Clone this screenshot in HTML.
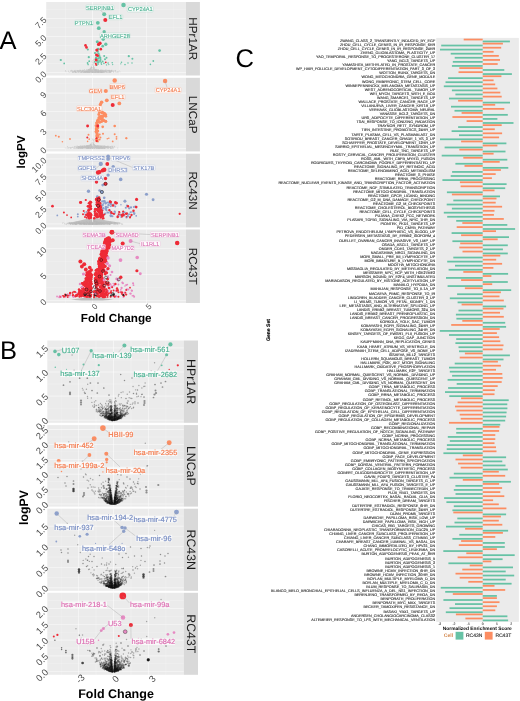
<!DOCTYPE html><html><head><meta charset="utf-8"><title>Figure</title><style>html,body{margin:0;padding:0;background:#fff}svg{display:block}text{font-family:"Liberation Sans", sans-serif;text-rendering:geometricPrecision}</style></head><body>
<svg width="520" height="701" viewBox="0 0 520 701">
<rect width="520" height="701" fill="#fff"/>
<text x="-0.6" y="48.6" font-size="25.5" fill="#000">A</text>
<text x="-0.1" y="359.3" font-size="25.5" fill="#000">B</text>
<text x="235.6" y="66.6" font-size="25.6" fill="#000">C</text>
<rect x="46.2" y="2" width="139.8" height="73.5" fill="#EBEBEB"/>
<line x1="46.2" x2="186" y1="9.25" y2="9.25" stroke="#fff" stroke-width="0.3" opacity="0.65"/>
<line x1="46.2" x2="186" y1="27.35" y2="27.35" stroke="#fff" stroke-width="0.3" opacity="0.65"/>
<line x1="46.2" x2="186" y1="45.45" y2="45.45" stroke="#fff" stroke-width="0.3" opacity="0.65"/>
<line x1="46.2" x2="186" y1="63.55" y2="63.55" stroke="#fff" stroke-width="0.3" opacity="0.65"/>
<line x1="65.4" x2="65.4" y1="2" y2="75.5" stroke="#fff" stroke-width="0.3" opacity="0.65"/>
<line x1="119.6" x2="119.6" y1="2" y2="75.5" stroke="#fff" stroke-width="0.3" opacity="0.65"/>
<line x1="173.8" x2="173.8" y1="2" y2="75.5" stroke="#fff" stroke-width="0.3" opacity="0.65"/>
<line x1="46.2" x2="186" y1="18.3" y2="18.3" stroke="#fff" stroke-width="0.55" opacity="0.9"/>
<line x1="46.2" x2="186" y1="36.4" y2="36.4" stroke="#fff" stroke-width="0.55" opacity="0.9"/>
<line x1="46.2" x2="186" y1="54.5" y2="54.5" stroke="#fff" stroke-width="0.55" opacity="0.9"/>
<line x1="46.2" x2="186" y1="72.6" y2="72.6" stroke="#fff" stroke-width="0.55" opacity="0.9"/>
<line x1="92.5" x2="92.5" y1="2" y2="75.5" stroke="#fff" stroke-width="0.55" opacity="0.9"/>
<line x1="146.7" x2="146.7" y1="2" y2="75.5" stroke="#fff" stroke-width="0.55" opacity="0.9"/>
<rect x="186" y="2" width="13.9" height="73.5" fill="#D9D9D9"/>
<text transform="translate(192.95 38.75) rotate(90)" text-anchor="middle" font-size="11.7" fill="#1A1A1A" dy="0.36em">HPr1AR</text>
<text transform="translate(45.1 18.3) rotate(-45)" text-anchor="end" font-size="8.8" fill="#4D4D4D" dy="0.35em">7.5</text>
<text transform="translate(45.1 36.4) rotate(-45)" text-anchor="end" font-size="8.8" fill="#4D4D4D" dy="0.35em">5.0</text>
<text transform="translate(45.1 54.5) rotate(-45)" text-anchor="end" font-size="8.8" fill="#4D4D4D" dy="0.35em">2.5</text>
<text transform="translate(45.1 72.6) rotate(-45)" text-anchor="end" font-size="8.8" fill="#4D4D4D" dy="0.35em">0.0</text>
<rect x="46.2" y="77.8" width="139.8" height="73.6" fill="#EBEBEB"/>
<line x1="46.2" x2="186" y1="83.85" y2="83.85" stroke="#fff" stroke-width="0.3" opacity="0.65"/>
<line x1="46.2" x2="186" y1="102.35" y2="102.35" stroke="#fff" stroke-width="0.3" opacity="0.65"/>
<line x1="46.2" x2="186" y1="120.75" y2="120.75" stroke="#fff" stroke-width="0.3" opacity="0.65"/>
<line x1="46.2" x2="186" y1="139.25" y2="139.25" stroke="#fff" stroke-width="0.3" opacity="0.65"/>
<line x1="65.4" x2="65.4" y1="77.8" y2="151.4" stroke="#fff" stroke-width="0.3" opacity="0.65"/>
<line x1="119.6" x2="119.6" y1="77.8" y2="151.4" stroke="#fff" stroke-width="0.3" opacity="0.65"/>
<line x1="173.8" x2="173.8" y1="77.8" y2="151.4" stroke="#fff" stroke-width="0.3" opacity="0.65"/>
<line x1="46.2" x2="186" y1="93.1" y2="93.1" stroke="#fff" stroke-width="0.55" opacity="0.9"/>
<line x1="46.2" x2="186" y1="111.6" y2="111.6" stroke="#fff" stroke-width="0.55" opacity="0.9"/>
<line x1="46.2" x2="186" y1="130" y2="130" stroke="#fff" stroke-width="0.55" opacity="0.9"/>
<line x1="46.2" x2="186" y1="148.5" y2="148.5" stroke="#fff" stroke-width="0.55" opacity="0.9"/>
<line x1="92.5" x2="92.5" y1="77.8" y2="151.4" stroke="#fff" stroke-width="0.55" opacity="0.9"/>
<line x1="146.7" x2="146.7" y1="77.8" y2="151.4" stroke="#fff" stroke-width="0.55" opacity="0.9"/>
<rect x="186" y="77.8" width="13.9" height="73.6" fill="#D9D9D9"/>
<text transform="translate(192.95 114.6) rotate(90)" text-anchor="middle" font-size="11.7" fill="#1A1A1A" dy="0.36em">LNCaP</text>
<text transform="translate(45.1 93.1) rotate(-45)" text-anchor="end" font-size="8.8" fill="#4D4D4D" dy="0.35em">9</text>
<text transform="translate(45.1 111.6) rotate(-45)" text-anchor="end" font-size="8.8" fill="#4D4D4D" dy="0.35em">6</text>
<text transform="translate(45.1 130) rotate(-45)" text-anchor="end" font-size="8.8" fill="#4D4D4D" dy="0.35em">3</text>
<text transform="translate(45.1 148.5) rotate(-45)" text-anchor="end" font-size="8.8" fill="#4D4D4D" dy="0.35em">0</text>
<rect x="46.2" y="153.7" width="139.8" height="73.7" fill="#EBEBEB"/>
<line x1="46.2" x2="186" y1="167.03" y2="167.03" stroke="#fff" stroke-width="0.3" opacity="0.65"/>
<line x1="46.2" x2="186" y1="183.28" y2="183.28" stroke="#fff" stroke-width="0.3" opacity="0.65"/>
<line x1="46.2" x2="186" y1="199.53" y2="199.53" stroke="#fff" stroke-width="0.3" opacity="0.65"/>
<line x1="46.2" x2="186" y1="215.78" y2="215.78" stroke="#fff" stroke-width="0.3" opacity="0.65"/>
<line x1="65.4" x2="65.4" y1="153.7" y2="227.4" stroke="#fff" stroke-width="0.3" opacity="0.65"/>
<line x1="119.6" x2="119.6" y1="153.7" y2="227.4" stroke="#fff" stroke-width="0.3" opacity="0.65"/>
<line x1="173.8" x2="173.8" y1="153.7" y2="227.4" stroke="#fff" stroke-width="0.3" opacity="0.65"/>
<line x1="46.2" x2="186" y1="158.9" y2="158.9" stroke="#fff" stroke-width="0.55" opacity="0.9"/>
<line x1="46.2" x2="186" y1="175.15" y2="175.15" stroke="#fff" stroke-width="0.55" opacity="0.9"/>
<line x1="46.2" x2="186" y1="191.4" y2="191.4" stroke="#fff" stroke-width="0.55" opacity="0.9"/>
<line x1="46.2" x2="186" y1="207.65" y2="207.65" stroke="#fff" stroke-width="0.55" opacity="0.9"/>
<line x1="46.2" x2="186" y1="223.9" y2="223.9" stroke="#fff" stroke-width="0.55" opacity="0.9"/>
<line x1="92.5" x2="92.5" y1="153.7" y2="227.4" stroke="#fff" stroke-width="0.55" opacity="0.9"/>
<line x1="146.7" x2="146.7" y1="153.7" y2="227.4" stroke="#fff" stroke-width="0.55" opacity="0.9"/>
<rect x="186" y="153.7" width="13.9" height="73.7" fill="#D9D9D9"/>
<text transform="translate(192.95 190.55) rotate(90)" text-anchor="middle" font-size="11.7" fill="#1A1A1A" dy="0.36em">RC43N</text>
<text transform="translate(45.1 158.9) rotate(-45)" text-anchor="end" font-size="8.8" fill="#4D4D4D" dy="0.35em">10.0</text>
<text transform="translate(45.1 175.15) rotate(-45)" text-anchor="end" font-size="8.8" fill="#4D4D4D" dy="0.35em">7.5</text>
<text transform="translate(45.1 191.4) rotate(-45)" text-anchor="end" font-size="8.8" fill="#4D4D4D" dy="0.35em">5.0</text>
<text transform="translate(45.1 207.65) rotate(-45)" text-anchor="end" font-size="8.8" fill="#4D4D4D" dy="0.35em">2.5</text>
<text transform="translate(45.1 223.9) rotate(-45)" text-anchor="end" font-size="8.8" fill="#4D4D4D" dy="0.35em">0.0</text>
<rect x="46.2" y="229.5" width="139.8" height="73.5" fill="#EBEBEB"/>
<line x1="46.2" x2="186" y1="235.3" y2="235.3" stroke="#fff" stroke-width="0.3" opacity="0.65"/>
<line x1="46.2" x2="186" y1="261.3" y2="261.3" stroke="#fff" stroke-width="0.3" opacity="0.65"/>
<line x1="46.2" x2="186" y1="287.3" y2="287.3" stroke="#fff" stroke-width="0.3" opacity="0.65"/>
<line x1="65.4" x2="65.4" y1="229.5" y2="303" stroke="#fff" stroke-width="0.3" opacity="0.65"/>
<line x1="119.6" x2="119.6" y1="229.5" y2="303" stroke="#fff" stroke-width="0.3" opacity="0.65"/>
<line x1="173.8" x2="173.8" y1="229.5" y2="303" stroke="#fff" stroke-width="0.3" opacity="0.65"/>
<line x1="46.2" x2="186" y1="248.3" y2="248.3" stroke="#fff" stroke-width="0.55" opacity="0.9"/>
<line x1="46.2" x2="186" y1="274.3" y2="274.3" stroke="#fff" stroke-width="0.55" opacity="0.9"/>
<line x1="46.2" x2="186" y1="300.3" y2="300.3" stroke="#fff" stroke-width="0.55" opacity="0.9"/>
<line x1="92.5" x2="92.5" y1="229.5" y2="303" stroke="#fff" stroke-width="0.55" opacity="0.9"/>
<line x1="146.7" x2="146.7" y1="229.5" y2="303" stroke="#fff" stroke-width="0.55" opacity="0.9"/>
<rect x="186" y="229.5" width="13.9" height="73.5" fill="#D9D9D9"/>
<text transform="translate(192.95 266.25) rotate(90)" text-anchor="middle" font-size="11.7" fill="#1A1A1A" dy="0.36em">RC43T</text>
<text transform="translate(45.1 248.3) rotate(-45)" text-anchor="end" font-size="8.8" fill="#4D4D4D" dy="0.35em">10</text>
<text transform="translate(45.1 274.3) rotate(-45)" text-anchor="end" font-size="8.8" fill="#4D4D4D" dy="0.35em">5</text>
<text transform="translate(45.1 300.3) rotate(-45)" text-anchor="end" font-size="8.8" fill="#4D4D4D" dy="0.35em">0</text>
<text transform="translate(94.5 306.5) rotate(-45)" text-anchor="middle" font-size="8.0" fill="#4D4D4D" dy="0.35em">0</text>
<text transform="translate(148.7 306.5) rotate(-45)" text-anchor="middle" font-size="8.0" fill="#4D4D4D" dy="0.35em">5</text>
<text x="116.2" y="317.6" text-anchor="middle" font-size="11.7" font-weight="bold" fill="#000" dy="0.36em">Fold Change</text>
<text transform="translate(20.8 152) rotate(-90)" text-anchor="middle" font-size="11.6" font-weight="bold" fill="#000" dy="0.36em">logPV</text>
<clipPath id="ca1"><rect x="46.2" y="2" width="139.8" height="73.5"/></clipPath><g clip-path="url(#ca1)">
<path d="M89.56 70.41h0M98.38 72.31h0M81.8 72.34h0M90.05 70.81h0M104.42 72.33h0M95.36 72.24h0M73.34 72.26h0M102.34 72.06h0M73.05 71.35h0M72.45 71.76h0M96.01 69.79h0M91.97 71.02h0M96.05 71.71h0M97.03 70.21h0M98.9 70.97h0M106.27 71.77h0M88.54 72.32h0M91.28 71.71h0M87.36 71.8h0M81.5 71.23h0M83.21 70.62h0M95.31 70.16h0M93.06 69.45h0M107.52 70.51h0M91.28 67.17h0M83.1 72.25h0M75.66 72.21h0M102.02 71.46h0M109.07 70.84h0M96.67 70.97h0M99.58 70.84h0M85.46 71.12h0M81.37 70.53h0M86.39 70h0M75.74 72.34h0M95.25 70.12h0M70.65 70.78h0M90.05 70.12h0M103.59 72.38h0M85.73 72.24h0M94.16 72.28h0M93.19 71.34h0M86.49 71.63h0M95.76 71.23h0M89.09 70.92h0M108.31 70.56h0M78.27 71.97h0M83.16 70.36h0M98 69.88h0M96.68 71.96h0M98.32 72h0M77.23 72.01h0M93.95 72.4h0M82.86 71.26h0M97.88 69.88h0M87.44 70.94h0M79.61 71.02h0M115.75 70.91h0M100.7 70.35h0M95.9 71.42h0M81.54 72.28h0M89.76 72.29h0M89.42 71.96h0M97.99 72.34h0M101.43 72.4h0M95.59 71.49h0M96.83 72.38h0M103.67 72.2h0M81.23 72.01h0M86.21 72.23h0M101.46 70.45h0M105.37 71.51h0M91.94 72.12h0M100.94 71.97h0M98.81 70.39h0M93.81 67.52h0M94.61 70.59h0M101.21 72.38h0M103.96 71.38h0M115.23 71.11h0M89.41 71.81h0M87.85 70.39h0M97.67 71.2h0M94.37 71.77h0M82.39 70.59h0M114.9 70.83h0M90.37 69.21h0M91.98 69.46h0M84.27 71.76h0M95.19 71.7h0M93 72.04h0M82.32 71.57h0M65.56 70.59h0M90.35 71.29h0M94.02 71.81h0M100.61 72.09h0M74.94 70.66h0M75.14 71.56h0M80.69 72.31h0M75.59 71.12h0M109.44 70.89h0M81.72 71.5h0M101.31 71.82h0M110.78 70.77h0M103.86 71.69h0M90.45 68.47h0M91.39 72.02h0M85.57 72.18h0M109.73 72.22h0M80.77 70.58h0M109.2 71.84h0M90.42 70.48h0M93.82 67.4h0M93.93 69.53h0M66.09 71.73h0M88.05 70h0M96.15 71.88h0M85.47 71.89h0M93.41 71.37h0M107.75 71.68h0M109.65 71.83h0M111.01 71.62h0M70.93 71.72h0M80.04 70.33h0M78.33 71.42h0M92.35 72.39h0M85.7 72.4h0M95.19 69.67h0M98.61 70.7h0M104.01 71.31h0M86.11 71.21h0M104.85 70.71h0M104.09 72.02h0M101.62 71.95h0M94.41 70.33h0M78.94 70.8h0M103.11 71.15h0M86 71.35h0M74.88 71.62h0M91.15 70.13h0M65.36 71.17h0M96.27 69.8h0M100.83 71.25h0M89.33 69.29h0M95.85 72.19h0M87.23 71.47h0M100.16 72.32h0M96.26 70.57h0M97.69 72.16h0M68.53 71.08h0M89.09 69.65h0M87.1 69.83h0M97.89 71.59h0M95.29 69.57h0M98.95 71.32h0M102.88 71.82h0M95.87 70.27h0M101.99 72.39h0M80.82 72.39h0M88.37 71.7h0M82.69 72.33h0M82.82 70.06h0M99.83 72.27h0M92.18 70.77h0M95.75 71.8h0M100.77 70.24h0M101.26 70.53h0M92.15 70.41h0M99.03 71.17h0M90.97 72.28h0M87.76 70.68h0M88.52 69.63h0M94.52 70.05h0M94.03 68.42h0M87.94 72.32h0M100.73 71.8h0M82.9 71.29h0M100.63 72.23h0M88.46 71.1h0M92.9 72.2h0M98.02 72.35h0M95.47 71.66h0M101.99 70.73h0M89.14 72.06h0M105.62 71.82h0M101.18 72.39h0M93.49 68.53h0M85.43 71.45h0M90.15 68.8h0M109.19 71.66h0M105.67 71.48h0M98.33 71.32h0M82.59 70.94h0M102.97 70.54h0M91.34 68.91h0M84.81 71.78h0M83.67 72.35h0M95.52 70.07h0M95.71 71.83h0M95.01 69.37h0M96.63 69.93h0M88.02 71.95h0M84.28 71.9h0M85.98 71.51h0M94.2 71.58h0M85.16 71.26h0M93.54 71.16h0M92.17 71.76h0M92.92 71.58h0M84.8 71.39h0M92.37 72.4h0M92.06 71.75h0M97.47 72.36h0M102.2 72.04h0M93.88 69.86h0M73.66 71.15h0M89 70.33h0M100.78 71.83h0M84.63 69.99h0M103.4 71.08h0M107.4 72.36h0M104.89 71.14h0M71.64 70.99h0M94.9 70.73h0M86.68 71.32h0M103.07 70.56h0M74.61 71.32h0M106.12 70.98h0M81.63 72.05h0M98.53 71.71h0M93.7 72.11h0M100.05 71.05h0M79.88 71.15h0M86.87 72.4h0M80.41 70.67h0M92.35 71.33h0M78.9 71.07h0M109.69 72.03h0M100.08 72.32h0M90.69 71.83h0M111 70.94h0M105.77 71.74h0M90.46 70.78h0M84.56 71.09h0M74.55 71.17h0M98.24 71.96h0M95.54 70.07h0M87.51 72.39h0M106.53 72.34h0M90.48 69.77h0M109.55 71.08h0M88.98 71.23h0M105.91 71.55h0M110.4 72.13h0M109 70.25h0M94.49 70.84h0M91.66 67.67h0M104.81 71.98h0M90 71.9h0M99.95 71.17h0M89.85 72.11h0M88.22 72.19h0M98.35 70.16h0M80.1 70.94h0M95.37 71.02h0M116.89 72.38h0M105.87 71.59h0M92.8 71.92h0M99.19 71.83h0M100.67 70.45h0M111.67 70.69h0M92.71 72.25h0M108.76 70.46h0M84.39 71.91h0M84.52 69.95h0M100.76 71.17h0M84.71 71.94h0M101.83 72.35h0M110.01 71.97h0M105.51 70.3h0M92.54 71.34h0M101.54 72.12h0M72.38 70.59h0M113.05 70.79h0M75.19 70.38h0M73.86 71.41h0M91.8 68.09h0M88.9 71.28h0M92.78 71.95h0M75.96 72.36h0M97.88 71.39h0M89.84 71.48h0M86.93 69.83h0M110.51 72.02h0M87.08 71.15h0M84.42 71.67h0M95.89 71.98h0M98.43 70.11h0M84.39 70.25h0M92.65 69.99h0M86.5 72.09h0M94.45 72.21h0M89.75 71.84h0M96.71 71.9h0M70.74 70.96h0M82.32 71.65h0M80.49 71.75h0M99.72 71.79h0M101.08 70.08h0M96.02 72.19h0M76.3 70.57h0M92.15 72.1h0M91.36 70.73h0M101.12 71.55h0M113.92 70.64h0M86.12 72.38h0M110.21 70.51h0M96.14 71.22h0M92.31 71.7h0M92.39 70.17h0M102.84 70.12h0M72.38 72.05h0M97.66 71.23h0M96.71 70.62h0M109.67 71.15h0M85.89 70.61h0M78.46 72.37h0M96.36 70.19h0M95.32 70.38h0M118.19 71.98h0M98.58 70.96h0M98.81 70.79h0M95.85 70.99h0M95.35 70.64h0M86.26 71.07h0M97.79 72.39h0M88.43 69.58h0M104.62 71.09h0M102.23 72.04h0M83.79 72.01h0M109.91 71.93h0M88.1 72.38h0M75.27 71.69h0M92.68 71.99h0M79.51 72.07h0M69.77 72.37h0M86.19 70.84h0M102.72 72.11h0M97.99 71.3h0M74.47 72.12h0M102.26 70.56h0M90.63 71.74h0M95.97 71.74h0M111.63 70.38h0M85.1 72.05h0M92.7 71.64h0M78.27 72.21h0M68.34 71.8h0M99.67 72.2h0M96.34 71.49h0M93.8 67.84h0M106.4 70.13h0M80.02 70.29h0M88.98 69.48h0M98.97 70.66h0M109.15 71.78h0M95.88 71.5h0M89.06 72.4h0M98.6 71.91h0M75.42 72.25h0M115.56 70.44h0M95.36 69.66h0M102.92 70.57h0M89.17 71.16h0M94.01 71.04h0M99.09 71.72h0M88.85 69.68h0M104.12 70.62h0M94.74 69.55h0M95.46 72.31h0M93.27 66.76h0M91.66 67.07h0M111.56 71.87h0M88.46 70.81h0M91.1 71.26h0M110.71 71.99h0M111.8 70.48h0M92.96 71.22h0M94.89 71.81h0M91.61 70.11h0M119.98 71.83h0M84.85 71.99h0M80.37 70.3h0M98.22 72.11h0M98.61 70.39h0M74.68 70.84h0M84.49 71.84h0M86.1 71.72h0M93.44 71.68h0M87.93 70.44h0M92.57 72.37h0M96.71 71.04h0M77.74 70.48h0M101.5 72.3h0M91.81 72.09h0M74.41 71.64h0M92.67 72.04h0M78.63 71.04h0M100.49 70.72h0M102.23 72.25h0M78.56 70.59h0M88.46 71.57h0M106.82 70.87h0M95.22 71.82h0M100.73 72.19h0M103.78 71.85h0M82.45 71.69h0M106.17 72.06h0M91.85 67.41h0M72.36 72.29h0M71.5 70.72h0M95.86 69.5h0M101.78 72.25h0M94.91 71.95h0M107.5 70.35h0M89.93 71.36h0M100.87 71.98h0M83.14 70.67h0M97.62 71.01h0M90.68 69.99h0M94.73 72.08h0M103.3 72.1h0M92.02 71.19h0M108.05 72.12h0M102.71 70.97h0M93.23 71.69h0M89.55 69.82h0M99.67 71.26h0M97.4 71.57h0M94.56 70.46h0M89.28 72.08h0M88.64 70.5h0M84.58 71.87h0M97.54 69.83h0M86.82 71.71h0M106.24 71.67h0M118.02 71.86h0M98.54 72.07h0M110.05 72.4h0M102.34 70.56h0M85.5 71.62h0M101.97 72.17h0M83.92 72.39h0M76.9 70.43h0M87.26 72.28h0M84.53 71.39h0M84.81 72.2h0M89.6 69.22h0M106.15 72.27h0M71.75 70.38h0M93.74 71.75h0M111.77 70.32h0M112.17 71.57h0M117.29 71.81h0M101.14 70.27h0M76.89 72.19h0M77.78 70.75h0M94.54 69h0M104.03 70.57h0M95.8 71.4h0M99.86 71.34h0M88.11 71.93h0M96.44 70.41h0M95.16 70.66h0M90.5 69.43h0M113.82 72.27h0M97.71 71.01h0M77.14 71.92h0M87.5 71.51h0M81.98 71.03h0M86.49 71.49h0M90.18 70.28h0M93.44 70.07h0M94.31 69.14h0M111.95 71.62h0M98.08 72.25h0M104.27 72.24h0M87.93 71.42h0M94.63 70.68h0M108.33 72.31h0M96.64 70.43h0M94.88 72.31h0M78.94 71.46h0M72.18 72.24h0M112.1 70.65h0M111.16 70.74h0M92.05 72.15h0M105.79 70.24h0M90.97 68.06h0M102.8 70.24h0M109.95 72.34h0M81.06 72.19h0M108.07 70.46h0M89.19 72.14h0M113.39 71.54h0M99.39 71.96h0M88.71 71.13h0M91.18 71.83h0M95.36 72.07h0M108.49 70.47h0M85.75 72.15h0M93.74 70.06h0M86.95 70.92h0M77.63 71.35h0M110.52 71.33h0M96.5 69.43h0M88.86 70.68h0M76.31 72.01h0M105.18 70.12h0M82.89 70.71h0M87.42 71.45h0M100.93 72.35h0M109.5 70.7h0M92.12 70.25h0M108.92 71.3h0M87.36 72.4h0M83.97 72.37h0M101.9 71.59h0M105.34 71.44h0M97.35 72h0M88.77 70.62h0M93.32 70.8h0M92.62 72.27h0M87.39 71.05h0M98.91 71.11h0M97.07 71.32h0M107.92 72.23h0M100.42 72.19h0M89.17 72.25h0M77.46 70.77h0M74.73 71.73h0M92.34 71.04h0M94.24 70.23h0M82.74 71.57h0M105.88 70.3h0M91.6 67.14h0M83.85 72.36h0M80.99 72.04h0M90.19 72.3h0M92.83 71.37h0M90.72 68.22h0M97.31 70.94h0M98.48 71.32h0M79.23 72.16h0M76.13 71.92h0M91.37 67.64h0M95.95 70.06h0M92.22 70.56h0M91.23 68.79h0M74.03 71.63h0M96.6 71.97h0M99.1 72.36h0M97.64 71.74h0M92.46 70.36h0M74.78 71h0M91.03 70.71h0M107.04 70.74h0M83.57 71.04h0M91.19 67.43h0M97.38 72.39h0M115.68 72.04h0M94.15 68.04h0M111.41 70.93h0M81.5 71.85h0M113.48 72.07h0M106.07 70.98h0M83.59 70.98h0M105.34 70.57h0M90.8 69.5h0M100.21 70.78h0M82.88 71.25h0M89.68 70.47h0M99.92 72.31h0M97.94 72.38h0M89.08 72.22h0M102.04 72.21h0M87.93 72.37h0M109.56 71.18h0M97.07 70.63h0M92.15 71.28h0M88.27 71.61h0M101.27 70.32h0M73.11 72.34h0M109.7 70.36h0M73.67 72.28h0M94.04 72.34h0M97.89 70.24h0M98.7 70.39h0M77.41 71.16h0M91.27 72.14h0M97.63 70.5h0M95.31 71.23h0M102.18 72.38h0M92.11 70.99h0M101.86 71.75h0M79.74 71.46h0M119.26 70.8h0" stroke="#C4C4C4" stroke-width="0.7" stroke-linecap="round" fill="none" opacity="0.8"/>
<circle cx="93.35" cy="67.22" r="0.34" fill="#C8C8C8"/>
<circle cx="93.36" cy="66.89" r="0.34" fill="#C8C8C8"/>
<circle cx="93.61" cy="63.13" r="0.34" fill="#C8C8C8"/>
<circle cx="92.77" cy="65.47" r="0.34" fill="#C8C8C8"/>
<circle cx="93.83" cy="71.73" r="0.34" fill="#C8C8C8"/>
<circle cx="95.06" cy="61.52" r="0.34" fill="#C8C8C8"/>
<circle cx="93.52" cy="70.17" r="0.34" fill="#C8C8C8"/>
<circle cx="93.54" cy="62.33" r="0.34" fill="#C8C8C8"/>
<circle cx="93.57" cy="66.13" r="0.34" fill="#C8C8C8"/>
<circle cx="93.49" cy="66.12" r="0.34" fill="#C8C8C8"/>
<circle cx="93.65" cy="66.08" r="0.34" fill="#C8C8C8"/>
<circle cx="93.01" cy="68.14" r="0.34" fill="#C8C8C8"/>
<circle cx="93.81" cy="59.79" r="0.34" fill="#C8C8C8"/>
<circle cx="92.96" cy="69.03" r="0.34" fill="#C8C8C8"/>
<circle cx="93.77" cy="66.02" r="0.34" fill="#C8C8C8"/>
<circle cx="94.71" cy="71.46" r="0.34" fill="#C8C8C8"/>
<circle cx="93.29" cy="61.97" r="0.34" fill="#C8C8C8"/>
<circle cx="93.25" cy="63.24" r="0.34" fill="#C8C8C8"/>
<circle cx="93.76" cy="68.02" r="0.34" fill="#C8C8C8"/>
<circle cx="92.41" cy="67.38" r="0.34" fill="#C8C8C8"/>
<circle cx="92.17" cy="71.79" r="0.34" fill="#C8C8C8"/>
<circle cx="94.53" cy="60.56" r="0.34" fill="#C8C8C8"/>
<circle cx="94.04" cy="69.32" r="0.34" fill="#C8C8C8"/>
<circle cx="93.59" cy="60.38" r="0.34" fill="#C8C8C8"/>
<circle cx="92.72" cy="60.62" r="0.34" fill="#C8C8C8"/>
<circle cx="93.49" cy="69.73" r="0.34" fill="#C8C8C8"/>
<circle cx="92.54" cy="62.44" r="0.34" fill="#C8C8C8"/>
<circle cx="93.74" cy="62.46" r="0.34" fill="#C8C8C8"/>
<circle cx="93.05" cy="68.43" r="0.34" fill="#C8C8C8"/>
<circle cx="92.91" cy="70.83" r="0.34" fill="#C8C8C8"/>
<circle cx="94.15" cy="62.61" r="0.34" fill="#C8C8C8"/>
<circle cx="92.52" cy="70.63" r="0.34" fill="#C8C8C8"/>
<circle cx="92.22" cy="64.89" r="0.34" fill="#C8C8C8"/>
<circle cx="94.02" cy="71.24" r="0.34" fill="#C8C8C8"/>
<circle cx="91.88" cy="69.67" r="0.34" fill="#C8C8C8"/>
<circle cx="93.89" cy="70.32" r="0.34" fill="#C8C8C8"/>
<circle cx="93.1" cy="61.19" r="0.34" fill="#C8C8C8"/>
<circle cx="94.68" cy="70.84" r="0.34" fill="#C8C8C8"/>
<circle cx="93.84" cy="68.43" r="0.34" fill="#C8C8C8"/>
<circle cx="94" cy="65.69" r="0.34" fill="#C8C8C8"/>
<circle cx="93.88" cy="70.35" r="0.34" fill="#C8C8C8"/>
<circle cx="94.1" cy="59.35" r="0.34" fill="#C8C8C8"/>
<circle cx="93.45" cy="59.53" r="0.34" fill="#C8C8C8"/>
<circle cx="93.13" cy="71.58" r="0.34" fill="#C8C8C8"/>
<circle cx="91.78" cy="61.87" r="0.34" fill="#C8C8C8"/>
<circle cx="95.03" cy="62.73" r="0.34" fill="#C8C8C8"/>
<circle cx="93.01" cy="64.07" r="0.34" fill="#C8C8C8"/>
<circle cx="93.71" cy="71.5" r="0.34" fill="#C8C8C8"/>
<circle cx="93.71" cy="72.52" r="0.34" fill="#C8C8C8"/>
<circle cx="94.26" cy="67.41" r="0.34" fill="#C8C8C8"/>
<circle cx="93.81" cy="65.99" r="0.34" fill="#C8C8C8"/>
<circle cx="92.31" cy="64.15" r="0.34" fill="#C8C8C8"/>
<circle cx="93.07" cy="64.55" r="0.34" fill="#C8C8C8"/>
<circle cx="93.6" cy="67.33" r="0.34" fill="#C8C8C8"/>
<circle cx="93.4" cy="66.98" r="0.34" fill="#C8C8C8"/>
<circle cx="91.76" cy="64.96" r="0.34" fill="#C8C8C8"/>
<circle cx="93.5" cy="69.8" r="0.34" fill="#C8C8C8"/>
<circle cx="92.66" cy="62.89" r="0.34" fill="#C8C8C8"/>
<circle cx="94.51" cy="63.2" r="0.34" fill="#C8C8C8"/>
<circle cx="92.56" cy="61.07" r="0.34" fill="#C8C8C8"/>
<circle cx="123.5" cy="4.9" r="2.24" fill="#66C2A5"/>
<circle cx="104.2" cy="14.2" r="2.02" fill="#66C2A5"/>
<circle cx="97.8" cy="22.8" r="1.9" fill="#66C2A5"/>
<circle cx="98.8" cy="28.2" r="1.9" fill="#66C2A5"/>
<circle cx="104.2" cy="31.8" r="1.68" fill="#66C2A5"/>
<circle cx="103.2" cy="39.2" r="1.68" fill="#66C2A5"/>
<circle cx="97.3" cy="41.8" r="1.57" fill="#66C2A5"/>
<circle cx="105.8" cy="44.2" r="1.68" fill="#66C2A5"/>
<circle cx="102.7" cy="46.2" r="1.34" fill="#66C2A5"/>
<circle cx="87.8" cy="49.5" r="1.12" fill="#66C2A5"/>
<circle cx="98.1" cy="48.9" r="1.23" fill="#66C2A5"/>
<circle cx="96.2" cy="57.7" r="1.23" fill="#66C2A5"/>
<circle cx="99.6" cy="57.2" r="1.23" fill="#66C2A5"/>
<circle cx="88.8" cy="57.2" r="1.12" fill="#66C2A5"/>
<circle cx="106.5" cy="57.7" r="1.01" fill="#66C2A5"/>
<circle cx="105" cy="59.2" r="1.01" fill="#66C2A5"/>
<circle cx="128.8" cy="56.2" r="1.12" fill="#66C2A5"/>
<circle cx="132.4" cy="58.8" r="1.01" fill="#66C2A5"/>
<circle cx="60.8" cy="60" r="1.12" fill="#66C2A5"/>
<circle cx="64.2" cy="63.4" r="0.9" fill="#66C2A5"/>
<circle cx="89.2" cy="61.2" r="0.9" fill="#66C2A5"/>
<circle cx="87.6" cy="63" r="0.9" fill="#66C2A5"/>
<circle cx="88.1" cy="64.6" r="0.78" fill="#66C2A5"/>
<circle cx="98.8" cy="62.3" r="0.9" fill="#66C2A5"/>
<circle cx="101.2" cy="62.8" r="0.9" fill="#66C2A5"/>
<circle cx="102.7" cy="61.5" r="0.9" fill="#66C2A5"/>
<circle cx="103.9" cy="63.4" r="0.78" fill="#66C2A5"/>
<circle cx="108.1" cy="63.1" r="0.78" fill="#66C2A5"/>
<circle cx="112.2" cy="62.8" r="0.78" fill="#66C2A5"/>
<circle cx="112.7" cy="64.6" r="0.67" fill="#66C2A5"/>
<circle cx="108.8" cy="64.6" r="0.67" fill="#66C2A5"/>
<circle cx="106.5" cy="64.9" r="0.67" fill="#66C2A5"/>
<circle cx="121.5" cy="62.3" r="0.78" fill="#66C2A5"/>
<circle cx="120.8" cy="63.8" r="0.67" fill="#66C2A5"/>
<circle cx="125" cy="64.6" r="0.78" fill="#66C2A5"/>
<circle cx="128" cy="63" r="0.78" fill="#66C2A5"/>
<circle cx="132" cy="63" r="0.78" fill="#66C2A5"/>
<circle cx="159.6" cy="50.6" r="1.34" fill="#66C2A5"/>
<circle cx="153.3" cy="61" r="0.9" fill="#66C2A5"/>
<circle cx="150.4" cy="64.4" r="0.78" fill="#66C2A5"/>
<circle cx="97" cy="60.5" r="1.01" fill="#66C2A5"/>
<circle cx="100.5" cy="59.5" r="1.01" fill="#66C2A5"/>
<circle cx="95" cy="53" r="1.12" fill="#66C2A5"/>
<circle cx="98.5" cy="53.5" r="1.12" fill="#66C2A5"/>
<circle cx="97.6" cy="51.5" r="1.23" fill="#66C2A5"/>
<circle cx="99.3" cy="55.3" r="1.12" fill="#66C2A5"/>
<circle cx="100.3" cy="57.9" r="1.12" fill="#66C2A5"/>
<circle cx="98.2" cy="58.6" r="1.12" fill="#66C2A5"/>
<circle cx="95.6" cy="59.1" r="1.01" fill="#66C2A5"/>
<circle cx="99" cy="60.9" r="1.01" fill="#66C2A5"/>
<circle cx="97.3" cy="62.1" r="1.01" fill="#66C2A5"/>
<circle cx="100.6" cy="61" r="0.9" fill="#66C2A5"/>
<circle cx="94.8" cy="61.8" r="0.9" fill="#66C2A5"/>
<circle cx="98" cy="64" r="0.9" fill="#66C2A5"/>
<circle cx="101.5" cy="64.2" r="0.78" fill="#66C2A5"/>
<circle cx="96.9" cy="65.2" r="0.78" fill="#66C2A5"/>
<circle cx="104.2" cy="56" r="1.01" fill="#66C2A5"/>
<circle cx="105.3" cy="20" r="2.02" fill="#EE2B37"/>
<circle cx="98.6" cy="44.4" r="1.68" fill="#EE2B37"/>
<circle cx="100" cy="43.2" r="1.68" fill="#EE2B37"/>
<circle cx="85.5" cy="45.4" r="1.34" fill="#EE2B37"/>
<circle cx="86.5" cy="47.4" r="1.34" fill="#EE2B37"/>
<circle cx="96.8" cy="50" r="1.57" fill="#EE2B37"/>
<circle cx="100.8" cy="49.2" r="1.34" fill="#EE2B37"/>
<circle cx="96.5" cy="55" r="1.46" fill="#EE2B37"/>
<circle cx="97.8" cy="55.7" r="1.23" fill="#EE2B37"/>
<circle cx="96.2" cy="60" r="1.46" fill="#EE2B37"/>
<circle cx="95.8" cy="63.8" r="1.01" fill="#EE2B37"/>
<circle cx="96.2" cy="64.9" r="0.9" fill="#EE2B37"/>
<circle cx="105.8" cy="62.3" r="0.9" fill="#EE2B37"/>
<line x1="104.2" y1="14.2" x2="100.5" y2="10" stroke="#9a9a9a" stroke-width="0.35"/>
<line x1="104.2" y1="31.8" x2="105" y2="33" stroke="#9a9a9a" stroke-width="0.35"/>
</g>
<rect x="85.8" y="5.1" width="28.1" height="4.9" rx="1" fill="#fff" fill-opacity="0.85" stroke="#66C2A5" stroke-width="0.3" stroke-opacity="0.75"/>
<text x="99.85" y="7.55" text-anchor="middle" font-size="5.65" fill="#48B090" stroke="#48B090" stroke-width="0.1" dy="0.36em">SERPINB1</text>
<rect x="127.3" y="6.3" width="26" height="5.6" rx="1" fill="#fff" fill-opacity="0.85" stroke="#66C2A5" stroke-width="0.3" stroke-opacity="0.75"/>
<text x="140.3" y="9.1" text-anchor="middle" font-size="5.65" fill="#48B090" stroke="#48B090" stroke-width="0.1" dy="0.36em">CYP24A1</text>
<rect x="108.5" y="14.6" width="14.2" height="5.1" rx="1" fill="#fff" fill-opacity="0.85" stroke="#66C2A5" stroke-width="0.3" stroke-opacity="0.75"/>
<text x="115.6" y="17.15" text-anchor="middle" font-size="5.65" fill="#48B090" stroke="#48B090" stroke-width="0.1" dy="0.36em">EFL1</text>
<rect x="74.7" y="20.3" width="18.3" height="5.1" rx="1" fill="#fff" fill-opacity="0.85" stroke="#66C2A5" stroke-width="0.3" stroke-opacity="0.75"/>
<text x="83.85" y="22.85" text-anchor="middle" font-size="5.65" fill="#48B090" stroke="#48B090" stroke-width="0.1" dy="0.36em">PTPN1</text>
<rect x="99.9" y="33" width="30" height="5.5" rx="1" fill="#fff" fill-opacity="0.85" stroke="#66C2A5" stroke-width="0.3" stroke-opacity="0.75"/>
<text x="114.9" y="35.75" text-anchor="middle" font-size="5.65" fill="#48B090" stroke="#48B090" stroke-width="0.1" dy="0.36em">ARHGEF28</text>
<clipPath id="ca2"><rect x="46.2" y="77.8" width="139.8" height="73.6"/></clipPath><g clip-path="url(#ca2)">
<path d="M85.45 147.41h0M77.61 147.8h0M88.89 147.32h0M88.73 146.13h0M88.78 147.8h0M76.72 147.57h0M77.1 147.6h0M96.95 146.62h0M99.12 146.85h0M89.39 145.96h0M82.29 146.01h0M101.09 148.27h0M85.94 146.46h0M90.67 144.47h0M87.23 147.01h0M91.86 145.63h0M89.69 146.4h0M79.01 146.51h0M80.79 146.13h0M90.89 147.72h0M87.9 146.35h0M81.98 148.15h0M103.23 148.24h0M91.45 147.34h0M90.98 146.85h0M93.61 146.65h0M89.08 147.75h0M82.35 147.96h0M91.04 146.31h0M65.27 148.03h0M96.15 147.9h0M81.62 148.14h0M95.99 146.59h0M71.85 147.51h0M84.89 145.95h0M89.37 147.46h0M78.83 146.55h0M76.23 147.47h0M88.51 148.1h0M106.44 146.51h0M78.78 147.89h0M110.24 147.69h0M92.23 148.07h0M104.62 148.3h0M90.85 147.6h0M83.3 147.79h0M80.44 147.01h0M94.06 145.71h0M75.34 146.51h0M112.61 148.25h0M104.25 146.6h0M70.44 148.14h0M100.46 148.29h0M78.29 148.29h0M108.53 147.93h0M87.49 148.16h0M97.74 146.38h0M99.06 147.66h0M106.8 146.63h0M112.89 148.09h0M104.7 146.62h0M82.55 146.89h0M108.42 146.53h0M79.97 148.02h0M87.52 146.46h0M79.26 147.52h0M103.34 147.88h0M82.66 147.94h0M101.09 148.24h0M102.79 147.42h0M100.73 147.32h0M103.04 147.24h0M93.36 143.91h0M91.5 146.35h0M76.78 146.52h0M85.98 147.59h0M66.97 148.23h0M106.78 147.04h0M90.68 146.11h0M90.41 145.92h0M101.86 145.96h0M88.2 147.11h0M68.06 148.28h0M94.86 145.9h0M85.12 146.26h0M85.09 147.63h0M78.64 146.68h0M94.74 147.8h0M81.44 147.21h0M97.27 146.16h0M86.76 147.5h0M113.29 147.43h0M90.64 144.31h0M106.04 146.98h0M95.19 147.52h0M82.55 147.81h0M78.53 146.64h0M84.06 148.26h0M88.41 146.99h0M68.91 148.26h0M92.1 148.08h0M93.72 143.89h0M79.43 146.61h0M81.87 146.22h0M80.34 147.04h0M82.21 146.82h0M78.2 148h0M82.61 146.9h0M73.67 148.19h0M97.6 148.01h0M111.82 146.39h0M97.07 146.69h0M77.97 146.65h0M108.19 147.25h0M92.01 147.69h0M102.24 147.76h0M77.56 146.24h0M99.45 148.24h0M89.53 148.09h0M91.16 144.7h0M69.57 147.58h0M80.76 148.29h0M80.81 146.16h0M102.53 145.99h0M80.78 148.18h0M94.32 145.95h0M94.05 148.28h0M98.91 148.3h0M90.13 144.78h0M87.14 148.19h0M96.62 148.28h0M88.08 146.47h0M93.41 147.69h0M111.18 148.26h0M95.23 145.49h0M74.52 146.85h0M106.47 146.85h0M100.68 147.41h0M100.52 145.97h0M88.87 146.33h0M94.48 146.01h0M92.64 146.64h0M101.21 146.7h0M97.27 148.03h0M101.02 148.24h0M82.32 147.66h0M81.49 146.89h0M86.89 148.09h0M95.7 146.49h0M82.05 147.01h0M82.62 146.56h0M98.1 145.87h0M95.71 147.65h0M77.98 148.24h0M110.19 146.59h0M89.58 147.5h0M67.58 146.72h0M72.96 147.2h0M88.12 145.88h0M103.85 147.64h0M86.29 146.08h0M78.18 146.59h0M92.36 147.92h0M93.15 146.37h0M74.4 146.44h0M81.54 148.26h0M103 146.34h0M74.29 147.25h0M89.15 145.93h0M114.7 147.03h0M101.59 148.2h0M87.03 147.08h0M94.76 145.71h0M85.15 146.04h0M94.07 145.63h0M108.14 147.47h0M94.88 145.77h0M100.99 146.51h0M87.73 146.23h0M93.73 144.81h0M94.13 144.51h0M107.55 146.38h0M79.54 147.15h0M90.71 147.82h0M95.07 146.07h0M99.29 147.63h0M81.77 147.3h0M87.9 148.07h0M103.39 147.65h0M105.29 146.61h0M102.57 148.09h0M83.84 147.27h0M86.43 148.28h0M99.84 146.24h0M77.67 147.91h0M93.78 144.82h0M67.63 146.87h0M104.99 146.52h0M101.07 148.27h0M90.5 147.81h0M94.53 148.22h0M96.86 146.98h0M101.26 146.05h0M83.25 146.18h0M106.78 147.62h0M98.59 148.14h0M101.08 147.15h0M90.26 146.18h0M108.98 147.64h0M87.87 147.32h0M108.55 146.1h0M117.7 148.02h0M101.08 147.68h0M94.63 144.91h0M110.59 148.26h0M80.13 146.61h0M88.34 145.48h0M76.44 148.25h0M104.34 146.16h0M107.72 146.95h0M87.86 146.37h0M107.17 148.18h0M88.53 148.11h0M100.43 147.35h0M96.66 148.07h0M99.9 146.81h0M110.72 148.04h0M93.95 148.24h0M99.79 146.03h0M88.94 145.76h0M97.33 147.34h0M88.44 148.16h0M112.42 147.14h0M82.94 147.45h0M81.06 147.41h0M110.59 147.11h0M97.58 148.24h0M98.86 146.66h0M86.43 146.15h0M90.38 147.6h0M86.81 147.82h0M96.02 145.85h0M88.97 147.08h0M98.51 147.72h0M97.15 145.61h0M89.26 148.22h0M106 148h0M82.03 147.4h0M90.5 147.8h0M101.15 147.65h0M90.21 144.92h0M100.28 146.17h0M97.97 148.24h0M91.09 143.79h0M83.02 148.29h0M96.18 148.07h0M82.67 148.3h0M99.45 148.02h0M80.27 147.52h0M99.37 147.09h0M88.26 148.08h0M100.89 146.74h0M110.36 148.04h0M96.82 146.81h0M94.85 146.82h0M91.33 145.67h0M100.22 146.73h0M98.24 147.97h0M78.42 148.23h0M91.22 145.15h0M80.79 148.25h0M96.36 145.94h0M82.85 146.33h0M90.47 144.8h0M92.59 147.46h0M98.78 148.01h0M85.98 146.31h0M87.89 147.54h0M97.59 146.93h0M106.42 147.5h0M92.91 147.48h0M105.71 146.54h0M105.03 146.39h0M84.68 147.6h0M108.85 146.77h0M114.15 146.33h0M101.26 147.33h0M78.41 147.29h0M91.32 148.27h0M100.51 148.03h0M90.84 148.08h0M92.44 148.28h0M113.7 148.2h0M90.11 148.28h0M85.31 147.02h0M80.09 146.84h0M86.03 148.17h0M104.97 148.26h0M79.14 148.15h0M78.96 147.86h0M93.05 147.9h0M87.32 146.95h0M95.99 145.76h0M101.53 146.66h0M104.48 148.08h0M104.95 147.62h0M68.44 147.64h0M100 147.56h0M80.63 146.15h0M94.26 147.64h0M82.19 147.73h0M105.27 146.57h0M110.53 146.55h0M81.49 148.25h0M89.35 145.35h0M92.55 147.07h0M104.54 147.68h0M88.22 147.34h0M91.66 146.02h0M98.75 145.85h0M93.32 144.29h0M107.53 146.59h0M86.21 146.13h0M94.78 146.19h0M90.48 147.59h0M88.5 146.98h0M84.22 146.1h0M86.18 147.21h0M86.47 147.43h0M101.52 147.79h0M89.62 146.39h0M103.74 146.09h0M103.1 147.31h0M91.01 146.29h0M105.3 148.11h0M96.84 147.73h0M96.79 147.42h0M90.45 148.13h0M100.84 147.19h0M100.93 147.13h0M79.16 146.99h0M97.97 147.34h0M109.76 147.3h0M82.68 147.78h0M84.08 147.92h0M94.95 147.26h0M106.07 147.16h0M103.2 146.36h0M93.3 147.43h0M79.97 147.85h0M87.84 145.58h0M86.92 148.06h0M111.48 148.24h0M101.05 148.23h0M83.54 147.6h0M75.07 148.18h0M99.41 147.94h0M110.73 148.11h0M87.74 147.63h0M82.15 147.04h0M106.3 146.46h0M98.51 146.56h0M79.98 146.73h0M93.29 144.2h0M79.46 146.83h0M97.66 146.06h0M89.44 148.3h0M94 146.47h0M77.3 146.17h0M81.74 146.59h0M87.27 146.06h0M83.72 147.44h0M85.48 147.4h0M90.89 147.01h0M83.06 147.19h0M84.92 146.49h0M99.23 146.26h0M80.04 148.04h0M92.54 147.82h0M101.73 147.11h0M104.39 148.2h0M101.42 146.37h0M87.61 146.14h0M100.02 147.48h0M90.51 144.77h0M96.08 146.85h0M92.74 147.47h0M109.89 147.32h0M82.99 145.92h0M78.7 146.91h0M90.98 146.98h0M82.82 147.69h0M104.55 146.14h0M86.24 148.17h0M79.93 147.66h0M80.51 147.17h0M101.11 146.25h0M105.45 147.51h0M89.56 146.5h0M103.04 147.27h0M92.24 146.72h0M97.31 145.64h0M101.34 146.42h0M86.95 146.03h0M92.06 147.12h0M107.51 146.37h0M86.6 147.78h0M95.7 146.96h0M85.08 148.03h0M92.27 147.16h0M83.94 145.9h0M86.02 146.89h0M103.92 146.59h0M95.61 147.6h0M92.13 147.88h0M91.55 144.03h0M77.86 148.03h0M83.69 147.33h0M83.96 146.92h0M89.53 146.84h0M107.53 147.59h0M92.23 148.17h0M103.23 148.17h0M108.68 148.19h0M99.19 146.34h0M104.78 147.08h0M93.93 148.28h0M88.64 146.19h0M84.45 147.67h0M108.86 148.08h0M91.95 142.92h0M97.74 146.98h0M85.18 147.58h0M102.72 148.25h0M104.25 146.09h0M82.85 147.48h0M86.16 148.26h0M86.53 145.95h0M98.61 146.07h0M84.59 146.42h0M87.33 145.76h0M107.24 147.4h0M100.65 147.58h0M89.83 146.03h0M94.27 144.76h0M102.23 147.37h0M94.78 147.92h0M84.22 147.66h0M104.41 147.83h0M87.24 147.12h0M90.36 147.18h0M89.03 148.1h0M94.92 145.46h0M87.38 147.99h0M99.43 147.81h0M92.75 147.09h0M95.56 147.49h0M102.53 148.19h0M107.44 147.89h0M95.56 147.17h0M87.32 146.18h0M94.79 147.33h0M86.13 146.63h0M71.75 148.03h0M112.76 146.31h0M84.25 147.43h0M92.25 148.15h0M90.09 145.12h0M83.89 147.09h0M86.66 146.94h0M98.88 147.96h0M96.59 147.09h0M88.27 147.01h0M89.97 147.27h0M112.1 147.06h0M83.46 147.59h0M88.41 148.18h0M102.43 147.76h0M112.62 147.05h0M103.95 147.68h0M101.84 147.33h0M91.27 147.23h0M96.56 147.88h0M105.32 147.86h0M105.51 147.59h0M109.2 146.42h0M81.74 146.36h0M98.74 148.27h0M99.33 146.78h0M86.97 147.47h0M83.34 146.9h0M89.78 145.52h0M84.25 147.67h0M87.48 148.14h0M87.23 145.94h0M90.68 148.24h0M74.43 148.27h0M96.51 147.68h0M99 147.58h0M102.12 146.97h0M94.92 147.91h0M100.47 146.71h0M79.86 147.91h0M76.48 147.73h0M99.44 148.3h0M102.56 147.83h0M75.32 148.26h0M102.07 148.25h0M80.02 147.93h0M108.09 148.01h0M105.6 146.26h0M92.49 146.89h0M87.62 147.49h0M92.17 147.92h0M70.9 148.21h0M103.9 146.17h0M88.51 146.49h0M90.95 145.86h0M70.91 147.55h0M109.28 147.57h0M98.46 147.22h0M97.91 146.44h0M89.88 148.24h0M86.41 147.85h0M72.59 147.33h0M108.58 147.29h0M89.37 147.77h0M102.58 147.55h0M96.45 147.93h0M90.19 145.93h0M98.29 146.76h0M93.15 145.8h0M101.03 147.45h0M102.34 147.8h0M88.3 145.86h0M101.8 147.73h0M104.02 146.51h0M73.94 148.09h0M86.69 146.77h0M82.09 146.63h0M85.07 146.36h0M99.65 147.64h0M98.76 147.97h0M101.18 148.01h0M95.96 146.35h0M87.17 147.69h0M94.31 146.74h0M87.95 148.21h0M97.79 148.29h0M111.64 148.21h0M91.55 144.83h0M107.2 148.17h0M90.66 146.67h0M85.67 147.17h0M95.5 148.29h0M106.97 147.07h0M84.49 146.06h0M87.47 147.86h0M85.34 148.11h0M112.05 146.6h0M95.93 147.66h0M98.94 146.26h0M107.58 146.27h0M102.38 146.43h0M110.06 146.82h0M89.1 145.87h0M99.01 147.72h0M82.63 147.65h0M103.2 146.45h0M92.72 147.3h0M95.83 146.58h0M100.13 146.14h0M76.22 146.24h0M78.98 148.09h0M92.98 147.91h0M88.39 146.52h0M90.21 147.94h0M103.13 148.2h0M104.49 148.03h0M95.57 146.16h0M114.54 146.6h0M92.89 146.87h0M84.13 146.88h0M96.74 147.1h0M83.3 147.48h0M97.47 146.7h0M103.95 148.08h0M70.39 147.87h0M78.63 147.72h0M97.68 147.98h0M101.25 147.42h0M97.68 145.73h0M111.85 146.23h0M80 146.11h0M77.18 148.24h0M78.14 146.94h0M85.03 147.11h0M86.39 145.89h0M76.02 147.84h0M94.51 147.31h0M94.55 147.85h0M90.69 145.78h0M87.91 146.68h0M94.08 147.08h0M82.07 147.27h0M86.7 147.06h0M87.99 148h0M95.93 145.63h0M87.14 146.12h0M90.83 147.57h0M104.2 147.91h0M100.45 147.33h0" stroke="#C4C4C4" stroke-width="0.7" stroke-linecap="round" fill="none" opacity="0.8"/>
<circle cx="92.76" cy="142.77" r="0.34" fill="#C8C8C8"/>
<circle cx="93.11" cy="147.37" r="0.34" fill="#C8C8C8"/>
<circle cx="92.24" cy="147.7" r="0.34" fill="#C8C8C8"/>
<circle cx="93.21" cy="144.42" r="0.34" fill="#C8C8C8"/>
<circle cx="94.07" cy="139.87" r="0.34" fill="#C8C8C8"/>
<circle cx="93.68" cy="142.99" r="0.34" fill="#C8C8C8"/>
<circle cx="93" cy="147.35" r="0.34" fill="#C8C8C8"/>
<circle cx="91.99" cy="138.59" r="0.34" fill="#C8C8C8"/>
<circle cx="93.23" cy="140.2" r="0.34" fill="#C8C8C8"/>
<circle cx="92.93" cy="144.58" r="0.34" fill="#C8C8C8"/>
<circle cx="94.26" cy="142.87" r="0.34" fill="#C8C8C8"/>
<circle cx="95.09" cy="140.75" r="0.34" fill="#C8C8C8"/>
<circle cx="94.2" cy="147.92" r="0.34" fill="#C8C8C8"/>
<circle cx="94.35" cy="146.13" r="0.34" fill="#C8C8C8"/>
<circle cx="93.2" cy="142.56" r="0.34" fill="#C8C8C8"/>
<circle cx="93.4" cy="146.37" r="0.34" fill="#C8C8C8"/>
<circle cx="92.91" cy="144.24" r="0.34" fill="#C8C8C8"/>
<circle cx="94.49" cy="139.61" r="0.34" fill="#C8C8C8"/>
<circle cx="92.13" cy="142.87" r="0.34" fill="#C8C8C8"/>
<circle cx="92.18" cy="139.32" r="0.34" fill="#C8C8C8"/>
<circle cx="93.63" cy="141.05" r="0.34" fill="#C8C8C8"/>
<circle cx="92.95" cy="145.09" r="0.34" fill="#C8C8C8"/>
<circle cx="93.4" cy="140.24" r="0.34" fill="#C8C8C8"/>
<circle cx="92.1" cy="147.27" r="0.34" fill="#C8C8C8"/>
<circle cx="92.39" cy="139.02" r="0.34" fill="#C8C8C8"/>
<circle cx="94.24" cy="141.28" r="0.34" fill="#C8C8C8"/>
<circle cx="94.35" cy="147.5" r="0.34" fill="#C8C8C8"/>
<circle cx="93.59" cy="143.01" r="0.34" fill="#C8C8C8"/>
<circle cx="93.43" cy="139.25" r="0.34" fill="#C8C8C8"/>
<circle cx="92.93" cy="141.75" r="0.34" fill="#C8C8C8"/>
<circle cx="93.28" cy="144.03" r="0.34" fill="#C8C8C8"/>
<circle cx="93.82" cy="140.12" r="0.34" fill="#C8C8C8"/>
<circle cx="92.96" cy="148.29" r="0.34" fill="#C8C8C8"/>
<circle cx="93.11" cy="147.4" r="0.34" fill="#C8C8C8"/>
<circle cx="93.46" cy="142.96" r="0.34" fill="#C8C8C8"/>
<circle cx="92.81" cy="145.6" r="0.34" fill="#C8C8C8"/>
<circle cx="93" cy="147.06" r="0.34" fill="#C8C8C8"/>
<circle cx="92.58" cy="139.75" r="0.34" fill="#C8C8C8"/>
<circle cx="92.11" cy="140.42" r="0.34" fill="#C8C8C8"/>
<circle cx="93.01" cy="139.01" r="0.34" fill="#C8C8C8"/>
<circle cx="94.03" cy="146.99" r="0.34" fill="#C8C8C8"/>
<circle cx="93.36" cy="143.48" r="0.34" fill="#C8C8C8"/>
<circle cx="94.3" cy="148.15" r="0.34" fill="#C8C8C8"/>
<circle cx="92.27" cy="146.68" r="0.34" fill="#C8C8C8"/>
<circle cx="93.8" cy="144.57" r="0.34" fill="#C8C8C8"/>
<circle cx="92.2" cy="143.74" r="0.34" fill="#C8C8C8"/>
<circle cx="94.14" cy="144.57" r="0.34" fill="#C8C8C8"/>
<circle cx="94.6" cy="139.77" r="0.34" fill="#C8C8C8"/>
<circle cx="93.06" cy="145.21" r="0.34" fill="#C8C8C8"/>
<circle cx="93.1" cy="146.34" r="0.34" fill="#C8C8C8"/>
<circle cx="114.7" cy="80.6" r="2.24" fill="#FC8D62"/>
<circle cx="105.8" cy="91.1" r="2.02" fill="#FC8D62"/>
<circle cx="106.8" cy="100.3" r="1.9" fill="#FC8D62"/>
<circle cx="101.6" cy="102.2" r="1.79" fill="#FC8D62"/>
<circle cx="119.3" cy="103.4" r="1.9" fill="#FC8D62"/>
<circle cx="100.4" cy="104.5" r="1.68" fill="#FC8D62"/>
<circle cx="99.6" cy="112.2" r="1.46" fill="#FC8D62"/>
<circle cx="101.9" cy="112.9" r="1.46" fill="#FC8D62"/>
<circle cx="104.2" cy="113.7" r="1.46" fill="#FC8D62"/>
<circle cx="105.8" cy="116.3" r="1.46" fill="#FC8D62"/>
<circle cx="103" cy="116.3" r="1.46" fill="#FC8D62"/>
<circle cx="100.4" cy="116.8" r="1.46" fill="#FC8D62"/>
<circle cx="98.8" cy="114.5" r="1.46" fill="#FC8D62"/>
<circle cx="101.2" cy="119.1" r="1.46" fill="#FC8D62"/>
<circle cx="103.5" cy="120.6" r="1.46" fill="#FC8D62"/>
<circle cx="105.8" cy="121.4" r="1.46" fill="#FC8D62"/>
<circle cx="98.8" cy="121.4" r="1.46" fill="#FC8D62"/>
<circle cx="97.3" cy="122.2" r="1.46" fill="#FC8D62"/>
<circle cx="100.5" cy="110.5" r="1.46" fill="#FC8D62"/>
<circle cx="102.5" cy="118" r="1.34" fill="#FC8D62"/>
<circle cx="99.5" cy="118.5" r="1.34" fill="#FC8D62"/>
<circle cx="97.3" cy="125.2" r="1.46" fill="#FC8D62"/>
<circle cx="102.7" cy="126.8" r="1.34" fill="#FC8D62"/>
<circle cx="114.7" cy="126" r="1.34" fill="#FC8D62"/>
<circle cx="96.8" cy="129.1" r="1.34" fill="#FC8D62"/>
<circle cx="96.2" cy="131.4" r="1.34" fill="#FC8D62"/>
<circle cx="97.3" cy="133.7" r="1.23" fill="#FC8D62"/>
<circle cx="96.5" cy="136" r="1.23" fill="#FC8D62"/>
<circle cx="99.6" cy="134.5" r="1.12" fill="#FC8D62"/>
<circle cx="103" cy="133.7" r="1.01" fill="#FC8D62"/>
<circle cx="114.7" cy="134.2" r="1.01" fill="#FC8D62"/>
<circle cx="88.5" cy="134.8" r="1.01" fill="#FC8D62"/>
<circle cx="97.5" cy="127.5" r="1.34" fill="#FC8D62"/>
<circle cx="98" cy="131" r="1.23" fill="#FC8D62"/>
<circle cx="100.4" cy="137.5" r="1.01" fill="#FC8D62"/>
<circle cx="99.6" cy="139.4" r="1.01" fill="#FC8D62"/>
<circle cx="89.2" cy="139.1" r="0.9" fill="#FC8D62"/>
<circle cx="96.2" cy="140.6" r="1.01" fill="#FC8D62"/>
<circle cx="108.8" cy="138.3" r="0.78" fill="#FC8D62"/>
<circle cx="107.3" cy="138.8" r="0.78" fill="#FC8D62"/>
<circle cx="116.5" cy="136.8" r="0.9" fill="#FC8D62"/>
<circle cx="116.5" cy="138.8" r="0.9" fill="#FC8D62"/>
<circle cx="112.7" cy="141.4" r="0.9" fill="#FC8D62"/>
<circle cx="126.2" cy="138.3" r="1.01" fill="#FC8D62"/>
<circle cx="70" cy="139" r="0.9" fill="#FC8D62"/>
<circle cx="58.8" cy="136.8" r="1.01" fill="#FC8D62"/>
<circle cx="55.8" cy="135.7" r="0.9" fill="#FC8D62"/>
<circle cx="62.4" cy="141.8" r="0.78" fill="#FC8D62"/>
<circle cx="87.6" cy="141.4" r="0.78" fill="#FC8D62"/>
<circle cx="126.5" cy="138.3" r="1.01" fill="#FC8D62"/>
<circle cx="97" cy="138" r="1.12" fill="#FC8D62"/>
<circle cx="98" cy="141.5" r="0.9" fill="#FC8D62"/>
<circle cx="96.45" cy="123.04" r="1.36" fill="#FC8D62"/>
<circle cx="97.29" cy="124.3" r="1.25" fill="#FC8D62"/>
<circle cx="95.93" cy="125.67" r="1.32" fill="#FC8D62"/>
<circle cx="96.44" cy="127" r="1.39" fill="#FC8D62"/>
<circle cx="97.82" cy="127.78" r="1.45" fill="#FC8D62"/>
<circle cx="96.25" cy="129.11" r="1.52" fill="#FC8D62"/>
<circle cx="97.1" cy="130.39" r="1.46" fill="#FC8D62"/>
<circle cx="96.05" cy="131.61" r="1.43" fill="#FC8D62"/>
<circle cx="96.59" cy="132.22" r="1.52" fill="#FC8D62"/>
<circle cx="96.99" cy="133.98" r="1.53" fill="#FC8D62"/>
<circle cx="97.54" cy="135.34" r="1.36" fill="#FC8D62"/>
<circle cx="97.74" cy="136.16" r="1.55" fill="#FC8D62"/>
<circle cx="97.92" cy="137.08" r="1.28" fill="#FC8D62"/>
<circle cx="96.4" cy="138.97" r="1.38" fill="#FC8D62"/>
<circle cx="97.34" cy="139.64" r="1.4" fill="#FC8D62"/>
<circle cx="96.79" cy="140.88" r="1.43" fill="#FC8D62"/>
<circle cx="99" cy="110.6" r="1.51" fill="#FC8D62"/>
<circle cx="100.8" cy="111.4" r="1.51" fill="#FC8D62"/>
<circle cx="102.6" cy="112.2" r="1.51" fill="#FC8D62"/>
<circle cx="104.4" cy="113.2" r="1.51" fill="#FC8D62"/>
<circle cx="105.6" cy="114.6" r="1.51" fill="#FC8D62"/>
<circle cx="104" cy="115.4" r="1.51" fill="#FC8D62"/>
<circle cx="102.2" cy="116" r="1.51" fill="#FC8D62"/>
<circle cx="100.4" cy="116.4" r="1.51" fill="#FC8D62"/>
<circle cx="99" cy="117.4" r="1.51" fill="#FC8D62"/>
<circle cx="100.4" cy="118.6" r="1.51" fill="#FC8D62"/>
<circle cx="102.2" cy="119.6" r="1.51" fill="#FC8D62"/>
<circle cx="104" cy="120.4" r="1.51" fill="#FC8D62"/>
<circle cx="105.6" cy="121.2" r="1.51" fill="#FC8D62"/>
<circle cx="98" cy="119.8" r="1.51" fill="#FC8D62"/>
<circle cx="97.4" cy="121" r="1.51" fill="#FC8D62"/>
<circle cx="99.6" cy="122.2" r="1.51" fill="#FC8D62"/>
<circle cx="101.5" cy="121.6" r="1.51" fill="#FC8D62"/>
<circle cx="112.7" cy="104.9" r="2.02" fill="#EE2B37"/>
<circle cx="87.6" cy="126" r="1.46" fill="#EE2B37"/>
<circle cx="97.8" cy="126" r="1.46" fill="#EE2B37"/>
<circle cx="87.3" cy="137.5" r="1.01" fill="#EE2B37"/>
<circle cx="96.5" cy="138.3" r="1.01" fill="#EE2B37"/>
<circle cx="96.8" cy="141" r="1.01" fill="#EE2B37"/>
<circle cx="165.1" cy="80.9" r="2.24" fill="#FC8D62"/>
<line x1="165.1" y1="80.9" x2="167" y2="87.5" stroke="#9a9a9a" stroke-width="0.35"/>
</g>
<rect x="109.6" y="84" width="15.4" height="5" rx="1" fill="#fff" fill-opacity="0.85" stroke="#FC8D62" stroke-width="0.3" stroke-opacity="0.75"/>
<text x="117.3" y="86.5" text-anchor="middle" font-size="5.65" fill="#F4794B" stroke="#F4794B" stroke-width="0.1" dy="0.36em">BMP6</text>
<rect x="89.2" y="88.6" width="12.7" height="4.8" rx="1" fill="#fff" fill-opacity="0.85" stroke="#FC8D62" stroke-width="0.3" stroke-opacity="0.75"/>
<text x="95.55" y="91" text-anchor="middle" font-size="5.65" fill="#F4794B" stroke="#F4794B" stroke-width="0.1" dy="0.36em">GEM</text>
<rect x="110.4" y="94.5" width="14.6" height="5.3" rx="1" fill="#fff" fill-opacity="0.85" stroke="#FC8D62" stroke-width="0.3" stroke-opacity="0.75"/>
<text x="117.7" y="97.15" text-anchor="middle" font-size="5.65" fill="#F4794B" stroke="#F4794B" stroke-width="0.1" dy="0.36em">EFL1</text>
<rect x="76.5" y="106" width="25.4" height="5.4" rx="1" fill="#fff" fill-opacity="0.85" stroke="#FC8D62" stroke-width="0.3" stroke-opacity="0.75"/>
<text x="89.2" y="108.7" text-anchor="middle" font-size="5.65" fill="#F4794B" stroke="#F4794B" stroke-width="0.1" dy="0.36em">SLC30A1</text>
<rect x="155.1" y="87.5" width="26.1" height="5.4" rx="1" fill="#fff" fill-opacity="0.85" stroke="#FC8D62" stroke-width="0.3" stroke-opacity="0.75"/>
<text x="168.15" y="90.2" text-anchor="middle" font-size="5.65" fill="#F4794B" stroke="#F4794B" stroke-width="0.1" dy="0.36em">CYP24A1</text>
<clipPath id="ca3"><rect x="46.2" y="153.7" width="139.8" height="73.7"/></clipPath><g clip-path="url(#ca3)">
<path d="M65 223.3 Q82 220.6 91.4 217.5 L92.45 223.4 L93.5 217.3 Q104 220.6 123 223.3 Q106 224.7 92.5 224.7 Q78 224.7 65 223.3Z" fill="#BEBEBE" opacity="0.95"/>
<path d="M68.2 223.23h0M78.28 222.41h0M117.23 223.26h0M105.9 222.28h0M114.56 222.62h0M73.84 224.21h0M83.85 222.58h0M82.97 224.43h0M87.75 222.25h0M98.09 222.53h0M92.14 223.88h0M98.83 222.68h0M101.3 222.46h0M109.76 224.46h0M97.42 222.72h0M79.44 222.23h0M115.92 223.63h0M103.69 224.42h0M92.4 223.38h0M100.95 223.74h0M94.19 222.23h0M94.63 221.27h0M95.68 223.79h0M119.27 223.92h0M85.39 223.58h0M73.97 223.37h0M90.15 222.76h0M70 223.62h0M71.33 223.78h0M90.72 223.62h0M83.09 222.15h0M76.25 224.49h0M90.33 223.27h0M90.21 222.51h0M91.24 221.83h0M109.48 223.67h0M99.23 222.97h0M80.26 222.92h0M108.78 224.48h0M110.62 222.38h0M99.75 224.08h0M75.73 223.99h0M97.22 223.76h0M87.71 223.1h0M104.02 224.01h0M76.47 224.48h0M108.1 223.41h0M91.46 223.76h0M81.35 222.71h0M93.09 222.45h0M100.85 222.96h0M101.69 223.92h0M99.34 222.51h0M68.82 224.29h0M102.15 223.91h0M76.64 223.69h0M70.61 224.19h0M104.08 224.23h0M103.5 222.7h0M96.87 223.96h0M85.47 222.6h0M77.71 223.92h0M74.17 224.34h0M86.48 224.03h0M114.81 223.96h0M80.74 223.76h0M99.26 222.23h0M93.2 219.11h0M93.54 220.11h0M106.33 222.34h0M91.36 219.94h0M96.25 222.12h0M113.68 223.23h0M81.84 223.91h0M91.22 223.8h0M108.27 224.05h0M99.69 222.59h0M119.5 223.23h0M100.36 222.27h0M114.7 223.45h0M75.63 224.49h0M92.26 224.07h0M84.52 223.05h0M79.23 222.36h0M90.4 222.44h0M87.12 222.31h0M100.83 223.56h0M94.94 224.06h0M80.64 223.46h0M95.75 222.15h0M85.22 222.25h0M100.85 224.5h0M69.77 223.34h0M95.2 223.86h0M89.34 223.92h0M79.07 223.62h0M90.18 221.82h0M96.87 224.31h0M92.55 224.35h0M107.19 222.63h0M105.66 223.98h0M100.41 223.95h0M81.35 223.31h0M107.59 223.89h0M96.7 224.31h0M103.32 223.39h0M89.81 224.37h0M80.07 224.25h0M80.12 222.8h0M105.15 223.83h0M98.24 223.62h0M75.27 223.88h0M72.25 223.79h0M92.99 223.33h0M83.05 223.43h0M94.87 222.2h0M104.81 223.73h0M98.44 222.3h0M104.1 222.45h0M87.61 222.49h0M91.39 224.17h0M106.98 222.74h0M78.28 222.8h0M69.36 223.25h0M90.79 224.28h0M75.84 223.37h0M99.73 222.7h0M92.72 224.46h0M97.48 222.2h0M95.74 224.16h0M117.18 224.37h0M96.17 222.07h0M81.07 222.28h0M70.57 223.45h0M93.57 220.85h0M89.13 223.19h0M91.16 221.25h0M86.47 222.13h0M103.17 223.37h0M96.81 222.27h0M92.9 224.18h0M100.67 223.19h0M92.79 223.95h0M79.5 223.8h0M84.53 224.4h0M103.43 223.53h0M105.72 222.91h0M90.24 224.15h0M84.57 223.02h0M72.15 223.58h0M73.94 222.58h0M94.41 224.16h0M110.29 222.51h0M104.73 223.5h0M73.1 224.25h0M99.75 224.05h0M97.92 223.91h0M108.88 224.16h0M80.86 224.02h0M62.48 223.25h0M70.71 223.43h0M105.72 224.08h0M93.07 222.16h0M95.25 223.51h0M98.27 223.9h0M103.35 222.79h0M117.29 223.7h0M80.63 222.64h0M83.99 222.6h0M78.55 222.99h0M87.27 222.31h0M75.37 222.37h0M104.9 223.63h0M93.72 221.31h0M101.93 223.05h0M117.14 224.17h0M85.96 224.21h0M92.05 223.29h0M100.86 222.49h0M100.56 222.46h0M86.62 223.92h0M73.89 224.41h0M102.24 224.39h0M97.93 223.81h0M83.17 223.31h0M91.81 223.09h0M91.14 222.9h0M83.61 223.29h0M93.29 219.19h0M79.88 224.35h0M102.82 224.05h0M89.28 221.76h0M87.02 222.16h0M117.89 223.92h0M110.21 222.91h0M93 220.75h0M81.63 223.13h0M96.02 222.37h0M82.91 222.21h0M84.99 224.35h0M78.24 223.58h0M80.11 223.08h0M109.07 223.42h0M100.26 223.14h0M109.54 224.26h0M107.11 224.35h0M80.4 222.36h0M99.86 222.87h0M101.55 223.26h0M74.83 223.69h0M86.15 223.94h0M94.69 222.02h0M96.89 222.54h0M71.95 223.93h0M86.79 224.03h0M72.89 224.46h0M110.15 223.58h0M92.89 223.99h0M114.75 223.99h0M79.17 222.84h0M101.76 223.87h0M96.13 223.94h0M87.3 224.37h0M109.66 223.02h0M107.19 224.24h0M97.53 222.66h0M105.02 222.7h0M92.36 224.32h0M75.1 223.82h0M98.02 223.23h0M107.43 224.21h0M92.48 224.48h0M115.18 222.9h0M117.12 223.9h0M72.45 223.49h0M76.53 222.3h0M83.32 223.01h0M84.63 223.54h0M117.05 223.42h0M92.37 222.96h0M91.61 221.31h0M76.69 223.67h0M93.31 223.84h0M88.99 223.25h0M91.84 221.16h0M76.72 222.35h0M98.27 222.25h0M107.68 223.26h0M109.85 224.45h0M86.46 224.41h0M99.81 223.38h0M102.89 222.5h0M87.6 222.8h0M109.57 223.34h0M111.71 222.51h0M87.97 223.8h0M71.66 222.86h0M116.01 223.78h0M81.75 222.84h0M86.28 224.46h0M93.09 224.28h0M94.86 223.01h0M99.83 222.93h0M79.26 223.17h0M89.33 223.81h0M71.17 223.84h0M97.35 224.2h0M109.23 223.89h0M80.25 223.85h0M75.28 224.18h0M89.29 224.5h0M98.29 224.29h0M114.48 223.72h0M95.5 224.17h0M100.89 223.75h0M94.01 224.24h0M95.17 224.16h0M87.95 224.48h0M92.78 223.78h0M75.54 224.45h0M103.6 223.77h0M90.09 221h0M94.33 223.92h0M104.74 224.27h0M100.73 223.17h0M88.69 224.44h0M98 222.75h0M88.91 223.37h0M115.11 222.55h0M89.42 223.92h0M101.87 222.65h0M84.27 224.39h0M83.83 223.01h0M109.59 224.5h0M89.16 224.47h0M99.19 224.47h0M96.78 224.44h0M76.71 224.22h0M69.48 222.45h0M69.29 222.61h0M95.9 221.61h0M103.33 223.26h0M94.86 221.06h0M101.73 222.54h0M98.18 224.34h0M83.47 223.03h0M99.98 222.24h0M102.23 222.89h0M111.48 222.75h0M64.66 223.96h0M82.81 223.73h0M95.42 223.21h0M114.92 224.11h0M102.53 223.25h0M110.68 223.08h0M81.12 224.29h0M102.31 222.96h0M106.93 222.89h0M94.6 222.15h0M100.34 222.52h0M97.98 223.01h0M111.56 223.72h0M74.27 222.57h0M91.24 223.17h0M80.85 224.42h0M66.32 224.39h0M111.69 223.44h0M96.61 222.85h0M95.91 224.01h0M99.63 223.08h0M94.76 222.62h0M101.87 222.18h0M93.19 223.68h0M79.97 222.8h0M87.31 223.1h0M96.37 224.16h0M76.88 224.26h0M113.85 224.37h0M104.09 224.48h0M100.97 222.39h0M90.68 224.33h0M83.49 222.59h0M94.5 222.38h0M78.66 222.57h0M75.38 223.94h0M81.24 224.36h0M83.98 222.56h0M72.7 224.22h0M79.16 223.46h0M72.05 224.42h0M97.18 223.8h0M87.52 223.24h0M92.99 223.24h0M75.87 223.33h0M101.26 224.17h0M67.13 224h0M87.55 224.12h0M94.8 224.14h0M111.49 222.65h0M83.7 222.11h0M69.58 223.56h0M73.01 223.79h0M119.1 222.59h0M83.49 223.55h0M94.45 220.48h0M79.35 222.41h0M84.58 224.23h0M121.77 224.41h0M90.62 222.75h0M81.81 223.17h0M113.3 224.09h0M97.92 223.61h0M80.49 222.89h0M110.22 224.06h0M101.23 223.73h0M99.13 224.41h0M105.1 223.03h0M110.6 222.34h0M118.85 223.93h0M89.11 224.21h0M87 223.35h0M105.92 223.45h0M76.32 224.06h0M112.13 223.69h0M110.37 224.04h0M77.11 224.14h0M93.14 224.08h0M90.77 222.63h0M84.87 224.45h0M90.75 223.96h0M94.32 220.45h0M78.06 222.82h0M95.95 224.15h0M92.05 224.49h0M81.74 224.45h0M97.37 223.25h0M101.84 224.11h0M98.75 222.57h0M83.71 224.46h0M97.46 223.59h0M78.93 222.44h0M78.5 222.75h0M92.62 222.98h0M99.52 222.65h0M68.02 223.53h0M91.14 223.6h0M93.68 221.7h0M94.6 221.11h0M104.63 223.12h0M84.39 222.26h0M99.41 223.7h0M76.25 223.54h0M96.45 222.7h0M99.76 222.02h0M79.76 223.9h0M88.62 223.44h0M97.16 221.87h0M79.01 224.29h0M86.24 223.69h0M107 222.64h0M106.6 223.28h0M65.92 224.48h0M77.84 223.6h0M85.09 224.02h0M85.27 224.37h0M64.79 223.3h0M81.7 222.44h0M103.81 222.25h0M87.19 222.1h0M85.78 224.22h0M74.37 224h0M108.83 224.09h0M122.16 224.05h0M82.84 223.79h0M91.12 223.73h0M99.26 222.03h0M100.75 224.2h0M96.99 224.4h0M71.36 222.78h0M88.98 222.81h0M93.06 223.32h0M91.27 219.85h0M101.8 223.56h0M96.83 223.99h0M88.63 224.05h0M91.35 219.77h0M109.92 224.26h0M114.73 222.38h0M83.94 224.31h0M75.81 224.45h0M92.98 224.28h0M84.42 222.59h0M95.4 221.32h0M89.59 223.02h0M87.93 223.68h0M96.67 221.66h0M91.17 224.11h0M99.27 224.33h0M75.18 224.42h0M115.59 224.25h0M76.06 222.3h0M92.81 222.61h0M104.66 223.58h0M89.25 224.48h0M81.71 223.9h0M92.24 223.51h0M69.81 223.72h0M78.85 223.47h0M89.17 222.01h0M97.85 222.07h0M109.12 222.68h0M106.84 222.66h0M122.71 224.31h0M91.63 224.38h0M101.2 222.13h0M70.28 224.37h0M106.74 224.49h0M108.3 222.25h0M75.63 223.12h0M70.62 224.4h0M89 223.11h0M85.68 223.2h0M95.14 223.69h0M79.94 223.97h0M92 222.86h0M63.13 222.68h0M70.87 222.73h0M97.95 221.93h0M83.31 224.06h0M103.46 222.91h0M103.21 223.91h0M86.02 222.06h0M84.12 223.62h0M76.65 222.59h0M94.72 220.76h0" stroke="#BABABA" stroke-width="0.7" stroke-linecap="round" fill="none" opacity="0.7"/>
<circle cx="108.1" cy="156.3" r="1.9" fill="#8DA0CB"/>
<circle cx="108.1" cy="158.9" r="1.9" fill="#8DA0CB"/>
<circle cx="100.8" cy="164" r="2.13" fill="#8DA0CB"/>
<circle cx="113.2" cy="166.6" r="1.68" fill="#8DA0CB"/>
<circle cx="108.1" cy="175.1" r="1.68" fill="#8DA0CB"/>
<circle cx="120.7" cy="179.4" r="1.79" fill="#8DA0CB"/>
<circle cx="102.7" cy="185.1" r="1.34" fill="#8DA0CB"/>
<circle cx="88.5" cy="191.2" r="1.68" fill="#8DA0CB"/>
<circle cx="99.6" cy="190.5" r="1.34" fill="#8DA0CB"/>
<circle cx="97.3" cy="196.6" r="1.34" fill="#8DA0CB"/>
<circle cx="104.2" cy="197.8" r="1.34" fill="#8DA0CB"/>
<circle cx="125" cy="201.2" r="1.34" fill="#8DA0CB"/>
<circle cx="146.5" cy="194.3" r="1.57" fill="#8DA0CB"/>
<circle cx="153.1" cy="199.7" r="1.46" fill="#8DA0CB"/>
<circle cx="124.9" cy="201.2" r="1.34" fill="#8DA0CB"/>
<circle cx="127" cy="205.5" r="1.12" fill="#8DA0CB"/>
<circle cx="131" cy="207.4" r="1.12" fill="#8DA0CB"/>
<circle cx="133.8" cy="207.1" r="1.01" fill="#8DA0CB"/>
<circle cx="130.5" cy="212.3" r="1.01" fill="#8DA0CB"/>
<circle cx="123" cy="212.8" r="1.01" fill="#8DA0CB"/>
<circle cx="129" cy="214.3" r="1.01" fill="#8DA0CB"/>
<circle cx="136.2" cy="215.8" r="0.9" fill="#8DA0CB"/>
<circle cx="127" cy="216.6" r="0.9" fill="#8DA0CB"/>
<circle cx="57.3" cy="215.4" r="0.9" fill="#8DA0CB"/>
<circle cx="77.8" cy="214.3" r="1.01" fill="#8DA0CB"/>
<circle cx="77.8" cy="216.6" r="0.9" fill="#8DA0CB"/>
<circle cx="105.8" cy="208.96" r="1.31" fill="#8DA0CB"/>
<circle cx="105.92" cy="208.13" r="1.16" fill="#8DA0CB"/>
<circle cx="103.25" cy="208.19" r="1.18" fill="#8DA0CB"/>
<circle cx="104.38" cy="201.45" r="1.26" fill="#8DA0CB"/>
<circle cx="110.83" cy="215.44" r="1.19" fill="#8DA0CB"/>
<circle cx="107.35" cy="202.52" r="0.9" fill="#8DA0CB"/>
<circle cx="103.31" cy="203.87" r="0.91" fill="#8DA0CB"/>
<circle cx="105.91" cy="207.05" r="1.27" fill="#8DA0CB"/>
<circle cx="106.43" cy="210.24" r="1.12" fill="#8DA0CB"/>
<circle cx="107.79" cy="207.32" r="1.02" fill="#8DA0CB"/>
<circle cx="110.98" cy="215.93" r="1.27" fill="#8DA0CB"/>
<circle cx="108.22" cy="205.04" r="1" fill="#8DA0CB"/>
<circle cx="104.25" cy="201.12" r="1.24" fill="#8DA0CB"/>
<circle cx="105.3" cy="213.55" r="1.07" fill="#8DA0CB"/>
<circle cx="110.6" cy="213.56" r="0.9" fill="#8DA0CB"/>
<circle cx="103.49" cy="214.56" r="1.11" fill="#8DA0CB"/>
<circle cx="110.81" cy="206.36" r="0.93" fill="#8DA0CB"/>
<circle cx="107.48" cy="212.46" r="1.02" fill="#8DA0CB"/>
<circle cx="102.33" cy="205.32" r="1.33" fill="#8DA0CB"/>
<circle cx="103.84" cy="201.62" r="0.92" fill="#8DA0CB"/>
<circle cx="109.07" cy="202.84" r="1.15" fill="#8DA0CB"/>
<circle cx="105.75" cy="203.05" r="1.22" fill="#8DA0CB"/>
<circle cx="102.74" cy="210.3" r="0.95" fill="#8DA0CB"/>
<circle cx="105.5" cy="203.41" r="1.02" fill="#8DA0CB"/>
<circle cx="110.72" cy="212.85" r="1.03" fill="#8DA0CB"/>
<circle cx="109.91" cy="203.37" r="1.07" fill="#8DA0CB"/>
<circle cx="109.62" cy="210.27" r="0.94" fill="#8DA0CB"/>
<circle cx="110.9" cy="203.41" r="1.01" fill="#8DA0CB"/>
<circle cx="108.84" cy="205.26" r="1.03" fill="#8DA0CB"/>
<circle cx="102.2" cy="201.44" r="1.16" fill="#8DA0CB"/>
<circle cx="115.05" cy="212.12" r="0.84" fill="#8DA0CB"/>
<circle cx="121.14" cy="216.95" r="0.89" fill="#8DA0CB"/>
<circle cx="124.66" cy="215.7" r="0.75" fill="#8DA0CB"/>
<circle cx="112.47" cy="216.26" r="1.04" fill="#8DA0CB"/>
<circle cx="115.24" cy="206.56" r="1" fill="#8DA0CB"/>
<circle cx="135.27" cy="206.65" r="1.1" fill="#8DA0CB"/>
<circle cx="133.58" cy="212.15" r="0.86" fill="#8DA0CB"/>
<circle cx="111.01" cy="204.52" r="1.1" fill="#8DA0CB"/>
<circle cx="114.91" cy="213.51" r="0.79" fill="#8DA0CB"/>
<circle cx="131.89" cy="212.05" r="0.8" fill="#8DA0CB"/>
<circle cx="113.09" cy="213.72" r="0.7" fill="#8DA0CB"/>
<circle cx="114.62" cy="211.55" r="1.05" fill="#8DA0CB"/>
<circle cx="125.81" cy="207.78" r="1.08" fill="#8DA0CB"/>
<circle cx="113.92" cy="204.22" r="0.79" fill="#8DA0CB"/>
<circle cx="120.93" cy="204.82" r="0.75" fill="#8DA0CB"/>
<circle cx="118.69" cy="211.72" r="0.73" fill="#8DA0CB"/>
<circle cx="118.5" cy="216.03" r="1.11" fill="#8DA0CB"/>
<circle cx="127.05" cy="213.33" r="0.93" fill="#8DA0CB"/>
<circle cx="112.07" cy="204.47" r="0.68" fill="#8DA0CB"/>
<circle cx="134.4" cy="213.46" r="1.1" fill="#8DA0CB"/>
<circle cx="108.62" cy="212.59" r="0.89" fill="#8DA0CB"/>
<circle cx="129.18" cy="208.31" r="1.12" fill="#8DA0CB"/>
<circle cx="110.18" cy="211.37" r="1" fill="#8DA0CB"/>
<circle cx="134.11" cy="213.95" r="0.99" fill="#8DA0CB"/>
<circle cx="131" cy="216.35" r="0.83" fill="#8DA0CB"/>
<circle cx="127.87" cy="216.16" r="1.06" fill="#8DA0CB"/>
<circle cx="120.1" cy="214.67" r="1.06" fill="#8DA0CB"/>
<circle cx="124.61" cy="212.44" r="0.84" fill="#8DA0CB"/>
<circle cx="124.9" cy="212.22" r="0.71" fill="#8DA0CB"/>
<circle cx="126.54" cy="217.41" r="1.07" fill="#8DA0CB"/>
<circle cx="89.83" cy="208.05" r="1.03" fill="#8DA0CB"/>
<circle cx="88.65" cy="208.73" r="1.07" fill="#8DA0CB"/>
<circle cx="84.67" cy="212.75" r="0.79" fill="#8DA0CB"/>
<circle cx="88.81" cy="209.25" r="0.86" fill="#8DA0CB"/>
<circle cx="89.59" cy="209.46" r="0.99" fill="#8DA0CB"/>
<circle cx="91.36" cy="206.33" r="0.79" fill="#8DA0CB"/>
<circle cx="86.41" cy="211.82" r="0.85" fill="#8DA0CB"/>
<circle cx="85.36" cy="214.77" r="1.01" fill="#8DA0CB"/>
<circle cx="87.54" cy="214.59" r="0.89" fill="#8DA0CB"/>
<circle cx="89.33" cy="205.58" r="0.93" fill="#8DA0CB"/>
<circle cx="102.18" cy="215.14" r="1.39" fill="#EE2B37"/>
<circle cx="98.78" cy="206.98" r="1.07" fill="#EE2B37"/>
<circle cx="98.01" cy="201.04" r="1.36" fill="#EE2B37"/>
<circle cx="100.54" cy="215.9" r="1.43" fill="#EE2B37"/>
<circle cx="96.48" cy="204.59" r="1.15" fill="#EE2B37"/>
<circle cx="96.71" cy="204.55" r="1.13" fill="#EE2B37"/>
<circle cx="98.46" cy="211.83" r="1.07" fill="#EE2B37"/>
<circle cx="102.88" cy="215.73" r="1.15" fill="#EE2B37"/>
<circle cx="96.34" cy="199.21" r="1.38" fill="#EE2B37"/>
<circle cx="98.53" cy="198.07" r="1.22" fill="#EE2B37"/>
<circle cx="99.78" cy="205.33" r="0.91" fill="#EE2B37"/>
<circle cx="97.84" cy="201.04" r="0.91" fill="#EE2B37"/>
<circle cx="96.4" cy="215.56" r="0.97" fill="#EE2B37"/>
<circle cx="98.3" cy="198.27" r="1.15" fill="#EE2B37"/>
<circle cx="99.67" cy="211.91" r="1.35" fill="#EE2B37"/>
<circle cx="100.5" cy="217.8" r="1.01" fill="#EE2B37"/>
<circle cx="96.28" cy="208.88" r="0.9" fill="#EE2B37"/>
<circle cx="99.76" cy="208.82" r="1" fill="#EE2B37"/>
<circle cx="97.39" cy="204.48" r="1.29" fill="#EE2B37"/>
<circle cx="99.19" cy="209.79" r="1.32" fill="#EE2B37"/>
<circle cx="100.04" cy="207.18" r="1.4" fill="#EE2B37"/>
<circle cx="99.5" cy="199.61" r="1.3" fill="#EE2B37"/>
<circle cx="97.83" cy="200.87" r="1.25" fill="#EE2B37"/>
<circle cx="97.61" cy="216.96" r="1.21" fill="#EE2B37"/>
<circle cx="101.36" cy="216.43" r="1.42" fill="#EE2B37"/>
<circle cx="99.34" cy="208.64" r="1.01" fill="#EE2B37"/>
<circle cx="101.14" cy="213.62" r="1.26" fill="#EE2B37"/>
<circle cx="96.28" cy="213.54" r="1.4" fill="#EE2B37"/>
<circle cx="103.32" cy="218.17" r="1.2" fill="#EE2B37"/>
<circle cx="97.12" cy="214.87" r="1.41" fill="#EE2B37"/>
<circle cx="97.36" cy="216.02" r="0.94" fill="#EE2B37"/>
<circle cx="98.66" cy="208.17" r="1.33" fill="#EE2B37"/>
<circle cx="95.27" cy="209.13" r="1.35" fill="#EE2B37"/>
<circle cx="98.92" cy="198.86" r="0.99" fill="#EE2B37"/>
<circle cx="99.84" cy="205.91" r="0.97" fill="#EE2B37"/>
<circle cx="98.11" cy="201.39" r="1.3" fill="#EE2B37"/>
<circle cx="100.33" cy="215.74" r="1.43" fill="#EE2B37"/>
<circle cx="101.37" cy="209.23" r="0.94" fill="#EE2B37"/>
<circle cx="98.25" cy="203.26" r="1.06" fill="#EE2B37"/>
<circle cx="99.71" cy="213.75" r="1.19" fill="#EE2B37"/>
<circle cx="99.2" cy="215.81" r="1.07" fill="#EE2B37"/>
<circle cx="100.32" cy="206.92" r="1.4" fill="#EE2B37"/>
<circle cx="99.73" cy="202.94" r="1.44" fill="#EE2B37"/>
<circle cx="98.92" cy="209.86" r="1.01" fill="#EE2B37"/>
<circle cx="98.45" cy="210.09" r="1.23" fill="#EE2B37"/>
<circle cx="99.22" cy="197.53" r="1.18" fill="#EE2B37"/>
<circle cx="100.12" cy="207.33" r="1.21" fill="#EE2B37"/>
<circle cx="99.65" cy="209.2" r="0.93" fill="#EE2B37"/>
<circle cx="97.83" cy="210.15" r="1.43" fill="#EE2B37"/>
<circle cx="96.62" cy="217.19" r="1.16" fill="#EE2B37"/>
<circle cx="97.75" cy="200.79" r="1.35" fill="#EE2B37"/>
<circle cx="98.51" cy="216.8" r="1.07" fill="#EE2B37"/>
<circle cx="98.62" cy="202.51" r="1.41" fill="#EE2B37"/>
<circle cx="99.12" cy="200.86" r="0.91" fill="#EE2B37"/>
<circle cx="96.86" cy="202.58" r="1.28" fill="#EE2B37"/>
<circle cx="97.44" cy="205.62" r="1.24" fill="#EE2B37"/>
<circle cx="98.84" cy="200.15" r="0.96" fill="#EE2B37"/>
<circle cx="96.72" cy="209.59" r="1.01" fill="#EE2B37"/>
<circle cx="97.99" cy="209.98" r="1.11" fill="#EE2B37"/>
<circle cx="98.49" cy="207.6" r="0.99" fill="#EE2B37"/>
<circle cx="98.71" cy="202.84" r="1.25" fill="#EE2B37"/>
<circle cx="100.83" cy="209.97" r="1.24" fill="#EE2B37"/>
<circle cx="96.33" cy="216.04" r="1.31" fill="#EE2B37"/>
<circle cx="102.1" cy="215.22" r="1.07" fill="#EE2B37"/>
<circle cx="100.51" cy="205.46" r="1.02" fill="#EE2B37"/>
<circle cx="102.52" cy="218.47" r="0.97" fill="#EE2B37"/>
<circle cx="99.24" cy="203.7" r="1.04" fill="#EE2B37"/>
<circle cx="99.19" cy="199.91" r="1.13" fill="#EE2B37"/>
<circle cx="95.48" cy="214.85" r="1.12" fill="#EE2B37"/>
<circle cx="94.78" cy="212.95" r="1.01" fill="#EE2B37"/>
<circle cx="101.76" cy="212.89" r="1.44" fill="#EE2B37"/>
<circle cx="98.02" cy="200.46" r="1.32" fill="#EE2B37"/>
<circle cx="99.64" cy="209.43" r="1" fill="#EE2B37"/>
<circle cx="96.6" cy="199.08" r="0.92" fill="#EE2B37"/>
<circle cx="98.54" cy="210.4" r="1.21" fill="#EE2B37"/>
<circle cx="96.74" cy="201.33" r="1.01" fill="#EE2B37"/>
<circle cx="102.95" cy="215.75" r="1.42" fill="#EE2B37"/>
<circle cx="96.38" cy="199.86" r="1.43" fill="#EE2B37"/>
<circle cx="100.06" cy="208.61" r="1.08" fill="#EE2B37"/>
<circle cx="98.46" cy="208.71" r="1.14" fill="#EE2B37"/>
<circle cx="94.92" cy="211.36" r="1.29" fill="#EE2B37"/>
<circle cx="95.89" cy="215.82" r="1.15" fill="#EE2B37"/>
<circle cx="97.83" cy="213.94" r="1.01" fill="#EE2B37"/>
<circle cx="98.11" cy="201.83" r="0.9" fill="#EE2B37"/>
<circle cx="101.44" cy="216.67" r="1.29" fill="#EE2B37"/>
<circle cx="99.84" cy="216.11" r="1.12" fill="#EE2B37"/>
<circle cx="98.51" cy="211.33" r="1.45" fill="#EE2B37"/>
<circle cx="96.59" cy="215.12" r="1.41" fill="#EE2B37"/>
<circle cx="100.87" cy="214.03" r="1.35" fill="#EE2B37"/>
<circle cx="100.71" cy="207.44" r="1.39" fill="#EE2B37"/>
<circle cx="100.67" cy="213.12" r="1.32" fill="#EE2B37"/>
<circle cx="99.66" cy="207.44" r="0.94" fill="#EE2B37"/>
<circle cx="98.07" cy="206.06" r="0.9" fill="#EE2B37"/>
<circle cx="99.05" cy="206.36" r="1.25" fill="#EE2B37"/>
<circle cx="100.27" cy="203.52" r="1.27" fill="#EE2B37"/>
<circle cx="99.14" cy="205.97" r="1.21" fill="#EE2B37"/>
<circle cx="97.66" cy="210.04" r="1.46" fill="#EE2B37"/>
<circle cx="100.04" cy="212.14" r="1.32" fill="#EE2B37"/>
<circle cx="94.26" cy="218.16" r="1.24" fill="#EE2B37"/>
<circle cx="96.62" cy="213.93" r="1.12" fill="#EE2B37"/>
<circle cx="96.94" cy="198.4" r="1.11" fill="#EE2B37"/>
<circle cx="97.06" cy="199.95" r="1.4" fill="#EE2B37"/>
<circle cx="98.49" cy="210.37" r="1.44" fill="#EE2B37"/>
<circle cx="101.97" cy="210.72" r="1.25" fill="#EE2B37"/>
<circle cx="95.03" cy="215.2" r="1.23" fill="#EE2B37"/>
<circle cx="91.05" cy="215.08" r="1.36" fill="#EE2B37"/>
<circle cx="89.94" cy="204.4" r="0.98" fill="#EE2B37"/>
<circle cx="88.51" cy="210.93" r="0.93" fill="#EE2B37"/>
<circle cx="88.65" cy="217.75" r="1.16" fill="#EE2B37"/>
<circle cx="89.48" cy="212.6" r="1.04" fill="#EE2B37"/>
<circle cx="88.37" cy="213.5" r="1.04" fill="#EE2B37"/>
<circle cx="89.68" cy="214.44" r="0.9" fill="#EE2B37"/>
<circle cx="91.16" cy="206.29" r="0.97" fill="#EE2B37"/>
<circle cx="89.11" cy="215.01" r="1.35" fill="#EE2B37"/>
<circle cx="91.02" cy="214.92" r="1.39" fill="#EE2B37"/>
<circle cx="90.84" cy="217.74" r="1.35" fill="#EE2B37"/>
<circle cx="89.26" cy="209.79" r="1.39" fill="#EE2B37"/>
<circle cx="89.54" cy="206.26" r="1.37" fill="#EE2B37"/>
<circle cx="88.73" cy="214.54" r="1.39" fill="#EE2B37"/>
<circle cx="87.78" cy="215.92" r="0.95" fill="#EE2B37"/>
<circle cx="88.98" cy="213.02" r="1" fill="#EE2B37"/>
<circle cx="90.17" cy="201.46" r="0.96" fill="#EE2B37"/>
<circle cx="88.41" cy="210.03" r="1.13" fill="#EE2B37"/>
<circle cx="89.29" cy="206.64" r="1.11" fill="#EE2B37"/>
<circle cx="88.28" cy="215.36" r="1.4" fill="#EE2B37"/>
<circle cx="86.65" cy="217.85" r="1.02" fill="#EE2B37"/>
<circle cx="88.99" cy="203.26" r="1.29" fill="#EE2B37"/>
<circle cx="89.47" cy="213.03" r="1.03" fill="#EE2B37"/>
<circle cx="88.29" cy="213.96" r="1.19" fill="#EE2B37"/>
<circle cx="87.43" cy="213.16" r="0.99" fill="#EE2B37"/>
<circle cx="87.98" cy="206.37" r="1.36" fill="#EE2B37"/>
<circle cx="91.06" cy="216.81" r="0.93" fill="#EE2B37"/>
<circle cx="89.81" cy="206.82" r="1.21" fill="#EE2B37"/>
<circle cx="89.94" cy="202.96" r="0.93" fill="#EE2B37"/>
<circle cx="89.68" cy="202.51" r="1.17" fill="#EE2B37"/>
<circle cx="89.39" cy="213.13" r="1.14" fill="#EE2B37"/>
<circle cx="90.21" cy="205.55" r="1.27" fill="#EE2B37"/>
<circle cx="90.86" cy="216.24" r="0.96" fill="#EE2B37"/>
<circle cx="87.68" cy="215.81" r="1.28" fill="#EE2B37"/>
<circle cx="89.94" cy="205.61" r="1.03" fill="#EE2B37"/>
<circle cx="89.15" cy="215.82" r="1.23" fill="#EE2B37"/>
<circle cx="89.2" cy="218.35" r="1.17" fill="#EE2B37"/>
<circle cx="86.17" cy="214.89" r="1.11" fill="#EE2B37"/>
<circle cx="90.91" cy="208.71" r="1.34" fill="#EE2B37"/>
<circle cx="91.11" cy="202.28" r="1.18" fill="#EE2B37"/>
<circle cx="88.21" cy="210.75" r="1.05" fill="#EE2B37"/>
<circle cx="90.87" cy="215.32" r="1" fill="#EE2B37"/>
<circle cx="90.87" cy="213.61" r="1.05" fill="#EE2B37"/>
<circle cx="87.49" cy="214.57" r="1.04" fill="#EE2B37"/>
<circle cx="90.3" cy="204" r="1.26" fill="#EE2B37"/>
<circle cx="90.83" cy="208.66" r="1.25" fill="#EE2B37"/>
<circle cx="117.66" cy="216.97" r="1.09" fill="#EE2B37"/>
<circle cx="125.92" cy="213.85" r="1.03" fill="#EE2B37"/>
<circle cx="111.31" cy="213.06" r="0.85" fill="#EE2B37"/>
<circle cx="126.43" cy="216.82" r="0.78" fill="#EE2B37"/>
<circle cx="112.68" cy="213.38" r="0.83" fill="#EE2B37"/>
<circle cx="113.49" cy="213.52" r="0.76" fill="#EE2B37"/>
<circle cx="117.53" cy="216.18" r="0.91" fill="#EE2B37"/>
<circle cx="124.07" cy="214.66" r="0.75" fill="#EE2B37"/>
<circle cx="122.21" cy="216.73" r="0.8" fill="#EE2B37"/>
<circle cx="104.53" cy="214.35" r="0.92" fill="#EE2B37"/>
<circle cx="117.62" cy="217.28" r="0.96" fill="#EE2B37"/>
<circle cx="123.3" cy="211.42" r="0.92" fill="#EE2B37"/>
<circle cx="122.91" cy="211.55" r="0.71" fill="#EE2B37"/>
<circle cx="121.69" cy="216.84" r="0.71" fill="#EE2B37"/>
<circle cx="119.22" cy="211.94" r="1.01" fill="#EE2B37"/>
<circle cx="119.58" cy="212.6" r="0.77" fill="#EE2B37"/>
<circle cx="110.7" cy="202.1" r="1.34" fill="#EE2B37"/>
<circle cx="115.4" cy="202.4" r="1.34" fill="#EE2B37"/>
<circle cx="116.7" cy="203" r="1.23" fill="#EE2B37"/>
<circle cx="109.3" cy="210.2" r="1.12" fill="#EE2B37"/>
<circle cx="111.3" cy="212.2" r="1.12" fill="#EE2B37"/>
<circle cx="114" cy="214" r="1.01" fill="#EE2B37"/>
<circle cx="118.7" cy="214.2" r="1.01" fill="#EE2B37"/>
<circle cx="121.4" cy="214.9" r="1.01" fill="#EE2B37"/>
<circle cx="123.5" cy="214.2" r="1.01" fill="#EE2B37"/>
<circle cx="126.8" cy="214" r="1.01" fill="#EE2B37"/>
<circle cx="131.5" cy="214.9" r="1.01" fill="#EE2B37"/>
<circle cx="130.2" cy="217" r="0.9" fill="#EE2B37"/>
<circle cx="83.7" cy="210.9" r="1.01" fill="#EE2B37"/>
<circle cx="83" cy="214.2" r="1.01" fill="#EE2B37"/>
<circle cx="85" cy="217" r="1.01" fill="#EE2B37"/>
<circle cx="85.8" cy="200" r="1.12" fill="#EE2B37"/>
<circle cx="52.5" cy="206.2" r="1.34" fill="#EE2B37"/>
<circle cx="80.7" cy="202.4" r="1.46" fill="#EE2B37"/>
<circle cx="107.3" cy="164" r="1.9" fill="#EE2B37"/>
<circle cx="104.2" cy="169.7" r="2.24" fill="#EE2B37"/>
<circle cx="102.7" cy="170.5" r="2.02" fill="#EE2B37"/>
<circle cx="98.1" cy="172.5" r="2.24" fill="#EE2B37"/>
<circle cx="99.6" cy="172" r="2.02" fill="#EE2B37"/>
<circle cx="105.5" cy="178.5" r="1.68" fill="#EE2B37"/>
<circle cx="96.5" cy="182" r="1.68" fill="#EE2B37"/>
<circle cx="105.5" cy="183.8" r="1.9" fill="#EE2B37"/>
<circle cx="98.8" cy="199.7" r="1.68" fill="#EE2B37"/>
<circle cx="98.1" cy="205.8" r="1.68" fill="#EE2B37"/>
<circle cx="80.4" cy="202.5" r="1.34" fill="#EE2B37"/>
<circle cx="63.9" cy="212.5" r="1.01" fill="#EE2B37"/>
<circle cx="67" cy="215.1" r="0.9" fill="#EE2B37"/>
<circle cx="71.2" cy="217.4" r="0.9" fill="#EE2B37"/>
<circle cx="136.6" cy="199.4" r="1.57" fill="#EE2B37"/>
<circle cx="136.2" cy="207.1" r="1.34" fill="#EE2B37"/>
<circle cx="128" cy="206.2" r="1.23" fill="#EE2B37"/>
<circle cx="133.5" cy="210.8" r="1.23" fill="#EE2B37"/>
<circle cx="179.7" cy="213.8" r="1.12" fill="#EE2B37"/>
<circle cx="122.8" cy="215" r="1.68" fill="#EE2B37"/>
<circle cx="126.9" cy="213.2" r="1.01" fill="#EE2B37"/>
<circle cx="131.5" cy="214.8" r="1.01" fill="#EE2B37"/>
<circle cx="130" cy="217.4" r="1.01" fill="#EE2B37"/>
<circle cx="113" cy="205.5" r="1.34" fill="#EE2B37"/>
<circle cx="116" cy="203.2" r="1.23" fill="#EE2B37"/>
<circle cx="110" cy="201.5" r="1.23" fill="#EE2B37"/>
<circle cx="101.9" cy="192" r="1.68" fill="#8DA0CB"/>
<circle cx="105.5" cy="183.8" r="1.6" fill="none" stroke="#111" stroke-width="0.5"/>
<circle cx="101.9" cy="192" r="1.6" fill="none" stroke="#111" stroke-width="0.5"/>
<circle cx="98.8" cy="199.7" r="1.6" fill="none" stroke="#111" stroke-width="0.5"/>
<circle cx="98.1" cy="205.8" r="1.6" fill="none" stroke="#111" stroke-width="0.5"/>
<line x1="108.5" y1="157.5" x2="132.6" y2="167.5" stroke="#9a9a9a" stroke-width="0.35"/>
<line x1="100.8" y1="164" x2="96.5" y2="168" stroke="#9a9a9a" stroke-width="0.35"/>
</g>
<rect x="78.1" y="155.8" width="26.4" height="5.1" rx="1" fill="#fff" fill-opacity="0.85" stroke="#8DA0CB" stroke-width="0.3" stroke-opacity="0.75"/>
<text x="91.3" y="158.35" text-anchor="middle" font-size="5.65" fill="#788DC3" stroke="#788DC3" stroke-width="0.1" dy="0.36em">TMPRSS2</text>
<rect x="111.2" y="155.8" width="19.2" height="5.1" rx="1" fill="#fff" fill-opacity="0.85" stroke="#8DA0CB" stroke-width="0.3" stroke-opacity="0.75"/>
<text x="120.8" y="158.35" text-anchor="middle" font-size="5.65" fill="#788DC3" stroke="#788DC3" stroke-width="0.1" dy="0.36em">TRPV6</text>
<rect x="77.8" y="165.5" width="18.4" height="5.3" rx="1" fill="#fff" fill-opacity="0.85" stroke="#8DA0CB" stroke-width="0.3" stroke-opacity="0.75"/>
<text x="87" y="168.15" text-anchor="middle" font-size="5.65" fill="#788DC3" stroke="#788DC3" stroke-width="0.1" dy="0.36em">GDF15</text>
<rect x="108.1" y="167.4" width="19.2" height="5.1" rx="1" fill="#fff" fill-opacity="0.85" stroke="#8DA0CB" stroke-width="0.3" stroke-opacity="0.75"/>
<text x="117.7" y="169.95" text-anchor="middle" font-size="5.65" fill="#788DC3" stroke="#788DC3" stroke-width="0.1" dy="0.36em">DHRS3</text>
<rect x="80.8" y="175.4" width="22.7" height="5.4" rx="1" fill="#fff" fill-opacity="0.85" stroke="#8DA0CB" stroke-width="0.3" stroke-opacity="0.75"/>
<text x="92.15" y="178.1" text-anchor="middle" font-size="5.65" fill="#788DC3" stroke="#788DC3" stroke-width="0.1" dy="0.36em">SH2D4A</text>
<rect x="132.6" y="165.1" width="22.5" height="5.4" rx="1" fill="#fff" fill-opacity="0.85" stroke="#8DA0CB" stroke-width="0.3" stroke-opacity="0.75"/>
<text x="143.85" y="167.8" text-anchor="middle" font-size="5.65" fill="#788DC3" stroke="#788DC3" stroke-width="0.1" dy="0.36em">STK17B</text>
<clipPath id="ca4"><rect x="46.2" y="229.5" width="139.8" height="73.5"/></clipPath><g clip-path="url(#ca4)">
<path d="M71 299.7 Q84 298.0 91.5 296.6 L92.4 299.7 L93.3 296.6 Q102 298.0 113 299.7 Q102 300.6 92.5 300.6 Q82 300.6 71 299.7Z" fill="#B8B8B8" opacity="0.9"/>
<circle cx="105.59" cy="293.61" r="1.12" fill="#E78AC3"/>
<circle cx="130.51" cy="293.58" r="1.19" fill="#E78AC3"/>
<circle cx="59.26" cy="297.2" r="1.04" fill="#E78AC3"/>
<circle cx="127.27" cy="284.62" r="0.93" fill="#E78AC3"/>
<circle cx="76.23" cy="294.62" r="0.68" fill="#E78AC3"/>
<circle cx="73.9" cy="296.83" r="1.1" fill="#E78AC3"/>
<circle cx="69.45" cy="294.4" r="0.75" fill="#E78AC3"/>
<circle cx="105.16" cy="284.81" r="0.67" fill="#E78AC3"/>
<circle cx="124.97" cy="286" r="0.79" fill="#E78AC3"/>
<circle cx="133.63" cy="295.48" r="0.83" fill="#E78AC3"/>
<circle cx="132" cy="290.71" r="1.05" fill="#E78AC3"/>
<circle cx="72.97" cy="296.46" r="1.06" fill="#E78AC3"/>
<circle cx="132.39" cy="295.78" r="0.84" fill="#E78AC3"/>
<circle cx="85.17" cy="289.86" r="0.71" fill="#E78AC3"/>
<circle cx="80.51" cy="291.62" r="0.67" fill="#E78AC3"/>
<circle cx="109.88" cy="287.83" r="0.85" fill="#E78AC3"/>
<circle cx="120.84" cy="289.87" r="0.85" fill="#E78AC3"/>
<circle cx="94.54" cy="293.08" r="0.7" fill="#E78AC3"/>
<circle cx="133.06" cy="283.33" r="1.09" fill="#E78AC3"/>
<circle cx="122.9" cy="283.26" r="1.11" fill="#E78AC3"/>
<circle cx="85.56" cy="291.27" r="0.68" fill="#E78AC3"/>
<circle cx="60.64" cy="297.21" r="0.78" fill="#E78AC3"/>
<circle cx="115.95" cy="296.29" r="1.2" fill="#E78AC3"/>
<circle cx="83.86" cy="293.33" r="1.11" fill="#E78AC3"/>
<circle cx="65.43" cy="296.62" r="1.15" fill="#E78AC3"/>
<circle cx="59.86" cy="296.52" r="0.72" fill="#E78AC3"/>
<circle cx="83.58" cy="291.73" r="1.19" fill="#E78AC3"/>
<circle cx="83.52" cy="296.22" r="0.98" fill="#E78AC3"/>
<circle cx="81.37" cy="290.98" r="0.72" fill="#E78AC3"/>
<circle cx="68.61" cy="297.29" r="0.76" fill="#E78AC3"/>
<circle cx="60.79" cy="297.11" r="0.97" fill="#E78AC3"/>
<circle cx="88.66" cy="293.38" r="1.13" fill="#E78AC3"/>
<circle cx="61.35" cy="296.1" r="0.69" fill="#E78AC3"/>
<circle cx="95.5" cy="294.99" r="0.75" fill="#E78AC3"/>
<circle cx="114.07" cy="296.58" r="1.03" fill="#E78AC3"/>
<circle cx="118.46" cy="284.52" r="0.92" fill="#E78AC3"/>
<circle cx="68.64" cy="295.08" r="0.84" fill="#E78AC3"/>
<circle cx="123.48" cy="296.96" r="0.93" fill="#E78AC3"/>
<circle cx="95.08" cy="293.43" r="0.94" fill="#E78AC3"/>
<circle cx="79.7" cy="291.13" r="0.88" fill="#E78AC3"/>
<circle cx="134.09" cy="296.73" r="1.02" fill="#E78AC3"/>
<circle cx="95.95" cy="287.84" r="0.72" fill="#E78AC3"/>
<circle cx="78.24" cy="294.18" r="1.16" fill="#E78AC3"/>
<circle cx="85.18" cy="294.24" r="1.11" fill="#E78AC3"/>
<circle cx="111.18" cy="292.5" r="1.1" fill="#E78AC3"/>
<circle cx="85.35" cy="293.07" r="0.83" fill="#E78AC3"/>
<circle cx="94.88" cy="294.01" r="1.06" fill="#E78AC3"/>
<circle cx="79.92" cy="296.52" r="1.04" fill="#E78AC3"/>
<circle cx="102.29" cy="283.17" r="0.98" fill="#E78AC3"/>
<circle cx="76.55" cy="292.6" r="0.93" fill="#E78AC3"/>
<circle cx="120.7" cy="292.26" r="1.12" fill="#E78AC3"/>
<circle cx="84.13" cy="292.21" r="1.09" fill="#E78AC3"/>
<circle cx="121.6" cy="288.01" r="1.14" fill="#E78AC3"/>
<circle cx="124.85" cy="292.84" r="1.22" fill="#E78AC3"/>
<circle cx="131.61" cy="290.41" r="0.97" fill="#E78AC3"/>
<circle cx="69.96" cy="294.96" r="1.2" fill="#E78AC3"/>
<circle cx="94.22" cy="292.89" r="1.08" fill="#E78AC3"/>
<circle cx="113.97" cy="285.46" r="1.11" fill="#E78AC3"/>
<circle cx="102.31" cy="292.52" r="0.91" fill="#E78AC3"/>
<circle cx="105.65" cy="294.08" r="1.03" fill="#E78AC3"/>
<circle cx="113.19" cy="283.39" r="0.76" fill="#E78AC3"/>
<circle cx="91.4" cy="292.3" r="0.79" fill="#E78AC3"/>
<circle cx="110.5" cy="292.02" r="0.7" fill="#E78AC3"/>
<circle cx="93.78" cy="286.24" r="0.7" fill="#E78AC3"/>
<circle cx="67.42" cy="294.1" r="0.78" fill="#E78AC3"/>
<circle cx="59.78" cy="296.15" r="1.01" fill="#E78AC3"/>
<circle cx="103.03" cy="286.4" r="1.18" fill="#E78AC3"/>
<circle cx="57.05" cy="296.5" r="0.9" fill="#E78AC3"/>
<circle cx="103.22" cy="286.94" r="1.11" fill="#E78AC3"/>
<circle cx="101.01" cy="280.41" r="0.95" fill="#E78AC3"/>
<circle cx="116.27" cy="290.75" r="1.35" fill="#E78AC3"/>
<circle cx="111.73" cy="286.39" r="1.26" fill="#E78AC3"/>
<circle cx="116.69" cy="278.92" r="1.43" fill="#E78AC3"/>
<circle cx="109.83" cy="288.8" r="0.9" fill="#E78AC3"/>
<circle cx="103.02" cy="278.97" r="1.24" fill="#E78AC3"/>
<circle cx="103.94" cy="280.88" r="1.4" fill="#E78AC3"/>
<circle cx="110.52" cy="274.95" r="1.02" fill="#E78AC3"/>
<circle cx="108.16" cy="291.17" r="1.11" fill="#E78AC3"/>
<circle cx="126.91" cy="289.41" r="1.23" fill="#E78AC3"/>
<circle cx="107.28" cy="291.43" r="1.17" fill="#E78AC3"/>
<circle cx="108.02" cy="276.31" r="0.96" fill="#E78AC3"/>
<circle cx="108.21" cy="285.45" r="1.36" fill="#E78AC3"/>
<circle cx="100.37" cy="277.98" r="1.05" fill="#E78AC3"/>
<circle cx="106.88" cy="270.03" r="0.98" fill="#E78AC3"/>
<circle cx="118.06" cy="280.12" r="1.31" fill="#E78AC3"/>
<circle cx="103.31" cy="284.81" r="1.06" fill="#E78AC3"/>
<circle cx="108.31" cy="277.9" r="1.16" fill="#E78AC3"/>
<circle cx="110.11" cy="284.35" r="1.23" fill="#E78AC3"/>
<circle cx="106.76" cy="240.16" r="2.27" fill="#EE2B37"/>
<circle cx="96.2" cy="270.3" r="1.62" fill="#EE2B37"/>
<circle cx="100.02" cy="279.92" r="1.37" fill="#EE2B37"/>
<circle cx="105.17" cy="261.2" r="1.89" fill="#EE2B37"/>
<circle cx="107.94" cy="241.91" r="1.97" fill="#EE2B37"/>
<circle cx="106.77" cy="284.22" r="1.37" fill="#EE2B37"/>
<circle cx="102.4" cy="267.46" r="1.77" fill="#EE2B37"/>
<circle cx="106.13" cy="242.05" r="2.13" fill="#EE2B37"/>
<circle cx="108.18" cy="239.51" r="2.19" fill="#EE2B37"/>
<circle cx="109.82" cy="240.89" r="2.28" fill="#EE2B37"/>
<circle cx="96.17" cy="280.18" r="1.26" fill="#EE2B37"/>
<circle cx="101.77" cy="274.15" r="1.32" fill="#EE2B37"/>
<circle cx="106.07" cy="244.41" r="2.05" fill="#EE2B37"/>
<circle cx="105.54" cy="281.95" r="1.31" fill="#EE2B37"/>
<circle cx="98.45" cy="273.53" r="1.33" fill="#EE2B37"/>
<circle cx="96.19" cy="279.28" r="1.62" fill="#EE2B37"/>
<circle cx="100.04" cy="270.85" r="1.47" fill="#EE2B37"/>
<circle cx="101.27" cy="282.43" r="1.32" fill="#EE2B37"/>
<circle cx="96.7" cy="281.62" r="1.21" fill="#EE2B37"/>
<circle cx="99.57" cy="277.54" r="1.35" fill="#EE2B37"/>
<circle cx="100.47" cy="289.91" r="1.05" fill="#EE2B37"/>
<circle cx="102.48" cy="280.92" r="1.49" fill="#EE2B37"/>
<circle cx="102.9" cy="251.21" r="2.05" fill="#EE2B37"/>
<circle cx="106.23" cy="246.27" r="1.91" fill="#EE2B37"/>
<circle cx="97.29" cy="274.33" r="1.67" fill="#EE2B37"/>
<circle cx="100.63" cy="276.36" r="1.49" fill="#EE2B37"/>
<circle cx="99.15" cy="273.08" r="1.36" fill="#EE2B37"/>
<circle cx="108.84" cy="239.96" r="2.09" fill="#EE2B37"/>
<circle cx="95.41" cy="283.01" r="1.43" fill="#EE2B37"/>
<circle cx="101.84" cy="263.38" r="1.55" fill="#EE2B37"/>
<circle cx="101.48" cy="260.18" r="1.65" fill="#EE2B37"/>
<circle cx="102.09" cy="254.42" r="1.84" fill="#EE2B37"/>
<circle cx="108.62" cy="239.9" r="2.18" fill="#EE2B37"/>
<circle cx="98.44" cy="277.89" r="1.53" fill="#EE2B37"/>
<circle cx="104.21" cy="255.23" r="1.7" fill="#EE2B37"/>
<circle cx="107.85" cy="239.48" r="2.32" fill="#EE2B37"/>
<circle cx="101.27" cy="259.56" r="1.87" fill="#EE2B37"/>
<circle cx="101.24" cy="280.5" r="1.61" fill="#EE2B37"/>
<circle cx="97.86" cy="276.24" r="1.29" fill="#EE2B37"/>
<circle cx="103.1" cy="284.13" r="1.57" fill="#EE2B37"/>
<circle cx="99.27" cy="268.72" r="1.79" fill="#EE2B37"/>
<circle cx="104.29" cy="267.08" r="1.44" fill="#EE2B37"/>
<circle cx="99.34" cy="261.52" r="1.65" fill="#EE2B37"/>
<circle cx="105.89" cy="241.04" r="2.08" fill="#EE2B37"/>
<circle cx="103.38" cy="261.82" r="1.55" fill="#EE2B37"/>
<circle cx="102.2" cy="270.08" r="1.46" fill="#EE2B37"/>
<circle cx="107.83" cy="239.03" r="2.06" fill="#EE2B37"/>
<circle cx="99.92" cy="275.01" r="1.48" fill="#EE2B37"/>
<circle cx="100.22" cy="286.92" r="1.12" fill="#EE2B37"/>
<circle cx="102.27" cy="283.73" r="1.17" fill="#EE2B37"/>
<circle cx="102.36" cy="252.5" r="1.77" fill="#EE2B37"/>
<circle cx="108.13" cy="241.64" r="1.97" fill="#EE2B37"/>
<circle cx="99.99" cy="260.13" r="1.87" fill="#EE2B37"/>
<circle cx="101.85" cy="270.92" r="1.61" fill="#EE2B37"/>
<circle cx="102.85" cy="264.18" r="1.79" fill="#EE2B37"/>
<circle cx="97.12" cy="279.51" r="1.26" fill="#EE2B37"/>
<circle cx="105.99" cy="241.9" r="1.97" fill="#EE2B37"/>
<circle cx="107.76" cy="241.76" r="1.86" fill="#EE2B37"/>
<circle cx="105.46" cy="245.7" r="2.05" fill="#EE2B37"/>
<circle cx="104.05" cy="251.68" r="1.68" fill="#EE2B37"/>
<circle cx="101.02" cy="272.6" r="1.56" fill="#EE2B37"/>
<circle cx="106.08" cy="248.13" r="2.09" fill="#EE2B37"/>
<circle cx="105.53" cy="245" r="1.98" fill="#EE2B37"/>
<circle cx="102.58" cy="264.13" r="1.9" fill="#EE2B37"/>
<circle cx="95.84" cy="273.28" r="1.33" fill="#EE2B37"/>
<circle cx="97.05" cy="295.9" r="1.33" fill="#EE2B37"/>
<circle cx="100.26" cy="261.25" r="1.77" fill="#EE2B37"/>
<circle cx="105.29" cy="259.13" r="1.66" fill="#EE2B37"/>
<circle cx="105.06" cy="296.16" r="1.11" fill="#EE2B37"/>
<circle cx="106.9" cy="246.47" r="1.84" fill="#EE2B37"/>
<circle cx="107.13" cy="243.84" r="2.16" fill="#EE2B37"/>
<circle cx="103.78" cy="257.18" r="1.94" fill="#EE2B37"/>
<circle cx="99.47" cy="260.28" r="1.61" fill="#EE2B37"/>
<circle cx="102.4" cy="261.03" r="1.69" fill="#EE2B37"/>
<circle cx="101.71" cy="266.19" r="1.8" fill="#EE2B37"/>
<circle cx="102.94" cy="292.69" r="1.34" fill="#EE2B37"/>
<circle cx="102.76" cy="259.48" r="1.67" fill="#EE2B37"/>
<circle cx="105.53" cy="242.6" r="2.17" fill="#EE2B37"/>
<circle cx="97.53" cy="280.3" r="1.51" fill="#EE2B37"/>
<circle cx="107.61" cy="242.26" r="2.23" fill="#EE2B37"/>
<circle cx="101.37" cy="278.71" r="1.31" fill="#EE2B37"/>
<circle cx="107.98" cy="268.59" r="1.63" fill="#EE2B37"/>
<circle cx="99.1" cy="261.29" r="1.81" fill="#EE2B37"/>
<circle cx="104.67" cy="291.25" r="1.06" fill="#EE2B37"/>
<circle cx="99.2" cy="278.78" r="1.62" fill="#EE2B37"/>
<circle cx="103.86" cy="250.59" r="2.09" fill="#EE2B37"/>
<circle cx="105.85" cy="247.91" r="1.77" fill="#EE2B37"/>
<circle cx="101.29" cy="271.5" r="1.53" fill="#EE2B37"/>
<circle cx="101.45" cy="263.18" r="1.61" fill="#EE2B37"/>
<circle cx="101.91" cy="273.84" r="1.35" fill="#EE2B37"/>
<circle cx="100.97" cy="271.3" r="1.61" fill="#EE2B37"/>
<circle cx="99.77" cy="276.26" r="1.48" fill="#EE2B37"/>
<circle cx="104.24" cy="287.41" r="1.36" fill="#EE2B37"/>
<circle cx="98.58" cy="292.86" r="1.2" fill="#EE2B37"/>
<circle cx="105.7" cy="243.97" r="1.87" fill="#EE2B37"/>
<circle cx="95.55" cy="274.45" r="1.66" fill="#EE2B37"/>
<circle cx="101.75" cy="285.58" r="1.38" fill="#EE2B37"/>
<circle cx="98.23" cy="295.13" r="1.04" fill="#EE2B37"/>
<circle cx="101.87" cy="260.17" r="1.57" fill="#EE2B37"/>
<circle cx="101.87" cy="261.87" r="1.77" fill="#EE2B37"/>
<circle cx="103.06" cy="260.17" r="1.95" fill="#EE2B37"/>
<circle cx="107.63" cy="242.27" r="1.88" fill="#EE2B37"/>
<circle cx="99.55" cy="266.36" r="1.6" fill="#EE2B37"/>
<circle cx="103.41" cy="255.2" r="1.87" fill="#EE2B37"/>
<circle cx="102.57" cy="255.52" r="1.63" fill="#EE2B37"/>
<circle cx="99.89" cy="262.91" r="1.61" fill="#EE2B37"/>
<circle cx="106.41" cy="243.68" r="1.98" fill="#EE2B37"/>
<circle cx="97.33" cy="293.29" r="0.98" fill="#EE2B37"/>
<circle cx="100.29" cy="283.34" r="1.35" fill="#EE2B37"/>
<circle cx="103.1" cy="260.66" r="1.96" fill="#EE2B37"/>
<circle cx="102.32" cy="264.2" r="1.89" fill="#EE2B37"/>
<circle cx="101.57" cy="278.67" r="1.57" fill="#EE2B37"/>
<circle cx="101.67" cy="263.73" r="1.76" fill="#EE2B37"/>
<circle cx="106.15" cy="240.13" r="2.26" fill="#EE2B37"/>
<circle cx="103.76" cy="286.88" r="1.42" fill="#EE2B37"/>
<circle cx="97.56" cy="290.79" r="1.45" fill="#EE2B37"/>
<circle cx="98.98" cy="296.86" r="1.13" fill="#EE2B37"/>
<circle cx="104.95" cy="254.96" r="1.82" fill="#EE2B37"/>
<circle cx="106.48" cy="242.38" r="1.92" fill="#EE2B37"/>
<circle cx="108.55" cy="239.09" r="1.95" fill="#EE2B37"/>
<circle cx="106.04" cy="252" r="1.75" fill="#EE2B37"/>
<circle cx="99.9" cy="263.4" r="1.82" fill="#EE2B37"/>
<circle cx="105.67" cy="247" r="1.79" fill="#EE2B37"/>
<circle cx="106.72" cy="244.57" r="2.01" fill="#EE2B37"/>
<circle cx="105.54" cy="272.44" r="1.44" fill="#EE2B37"/>
<circle cx="103.78" cy="270.29" r="1.68" fill="#EE2B37"/>
<circle cx="108.54" cy="238.48" r="2.17" fill="#EE2B37"/>
<circle cx="96.07" cy="284.94" r="1.29" fill="#EE2B37"/>
<circle cx="100.13" cy="258.47" r="1.85" fill="#EE2B37"/>
<circle cx="99.9" cy="292.75" r="1.4" fill="#EE2B37"/>
<circle cx="106.07" cy="294.22" r="1.38" fill="#EE2B37"/>
<circle cx="106.62" cy="242.58" r="2" fill="#EE2B37"/>
<circle cx="99.23" cy="292.73" r="1.05" fill="#EE2B37"/>
<circle cx="102.43" cy="258.78" r="1.76" fill="#EE2B37"/>
<circle cx="105.87" cy="241.54" r="2.28" fill="#EE2B37"/>
<circle cx="102.85" cy="253.59" r="1.76" fill="#EE2B37"/>
<circle cx="101.28" cy="287.09" r="1.19" fill="#EE2B37"/>
<circle cx="105.51" cy="253.59" r="1.72" fill="#EE2B37"/>
<circle cx="104.28" cy="246.13" r="1.77" fill="#EE2B37"/>
<circle cx="108.21" cy="240.56" r="1.88" fill="#EE2B37"/>
<circle cx="96.07" cy="272.86" r="1.59" fill="#EE2B37"/>
<circle cx="106.58" cy="251.11" r="1.99" fill="#EE2B37"/>
<circle cx="105.18" cy="243.49" r="2.21" fill="#EE2B37"/>
<circle cx="95.71" cy="280.68" r="1.24" fill="#EE2B37"/>
<circle cx="97.48" cy="282.67" r="1.49" fill="#EE2B37"/>
<circle cx="102.41" cy="268.53" r="1.49" fill="#EE2B37"/>
<circle cx="106.17" cy="253.59" r="1.8" fill="#EE2B37"/>
<circle cx="106.53" cy="242.68" r="1.9" fill="#EE2B37"/>
<circle cx="105.78" cy="246.22" r="2.02" fill="#EE2B37"/>
<circle cx="97.68" cy="292" r="1.24" fill="#EE2B37"/>
<circle cx="101.39" cy="291.29" r="1.36" fill="#EE2B37"/>
<circle cx="100.5" cy="287.49" r="1.23" fill="#EE2B37"/>
<circle cx="98.62" cy="290.67" r="1.45" fill="#EE2B37"/>
<circle cx="107.05" cy="244.9" r="2.07" fill="#EE2B37"/>
<circle cx="108.87" cy="287.98" r="1.24" fill="#EE2B37"/>
<circle cx="99.9" cy="275.67" r="1.42" fill="#EE2B37"/>
<circle cx="105.11" cy="243.68" r="2.2" fill="#EE2B37"/>
<circle cx="108.92" cy="241.71" r="2.2" fill="#EE2B37"/>
<circle cx="104.39" cy="291.06" r="1.11" fill="#EE2B37"/>
<circle cx="107.75" cy="239.59" r="2.11" fill="#EE2B37"/>
<circle cx="105.45" cy="293.24" r="1.32" fill="#EE2B37"/>
<circle cx="109.27" cy="244.8" r="2.03" fill="#EE2B37"/>
<circle cx="99.79" cy="263.9" r="1.66" fill="#EE2B37"/>
<circle cx="104.76" cy="250.39" r="1.98" fill="#EE2B37"/>
<circle cx="99.43" cy="292.39" r="1.05" fill="#EE2B37"/>
<circle cx="108.4" cy="241.17" r="2.26" fill="#EE2B37"/>
<circle cx="98.94" cy="271.98" r="1.45" fill="#EE2B37"/>
<circle cx="102.12" cy="265.85" r="1.53" fill="#EE2B37"/>
<circle cx="107.6" cy="279.14" r="1.27" fill="#EE2B37"/>
<circle cx="103.84" cy="247.93" r="2.12" fill="#EE2B37"/>
<circle cx="108.08" cy="247.66" r="1.85" fill="#EE2B37"/>
<circle cx="100.08" cy="259.09" r="1.89" fill="#EE2B37"/>
<circle cx="103.14" cy="257.92" r="1.96" fill="#EE2B37"/>
<circle cx="99.02" cy="292.43" r="1.05" fill="#EE2B37"/>
<circle cx="100.89" cy="262.87" r="1.78" fill="#EE2B37"/>
<circle cx="108.34" cy="282.82" r="1.29" fill="#EE2B37"/>
<circle cx="101.85" cy="288.5" r="1.36" fill="#EE2B37"/>
<circle cx="103.79" cy="258.12" r="1.84" fill="#EE2B37"/>
<circle cx="96.97" cy="285.12" r="1.47" fill="#EE2B37"/>
<circle cx="106.43" cy="283.67" r="1.35" fill="#EE2B37"/>
<circle cx="105.12" cy="245.07" r="1.89" fill="#EE2B37"/>
<circle cx="101.5" cy="287.08" r="1.18" fill="#EE2B37"/>
<circle cx="101.47" cy="254.21" r="1.96" fill="#EE2B37"/>
<circle cx="99.64" cy="267.82" r="1.57" fill="#EE2B37"/>
<circle cx="100.37" cy="273.33" r="1.34" fill="#EE2B37"/>
<circle cx="105.61" cy="253.42" r="1.65" fill="#EE2B37"/>
<circle cx="96.31" cy="283.35" r="1.5" fill="#EE2B37"/>
<circle cx="104.97" cy="266.22" r="1.77" fill="#EE2B37"/>
<circle cx="100.71" cy="274.91" r="1.67" fill="#EE2B37"/>
<circle cx="94.93" cy="274.55" r="1.38" fill="#EE2B37"/>
<circle cx="107.47" cy="241.91" r="1.88" fill="#EE2B37"/>
<circle cx="102.49" cy="251.04" r="2.01" fill="#EE2B37"/>
<circle cx="100.07" cy="261.01" r="1.83" fill="#EE2B37"/>
<circle cx="104.18" cy="250.85" r="1.7" fill="#EE2B37"/>
<circle cx="102.38" cy="264.98" r="1.76" fill="#EE2B37"/>
<circle cx="102.57" cy="283.15" r="1.33" fill="#EE2B37"/>
<circle cx="99.69" cy="277.06" r="1.45" fill="#EE2B37"/>
<circle cx="104.32" cy="249.29" r="2.06" fill="#EE2B37"/>
<circle cx="105.1" cy="249.37" r="1.76" fill="#EE2B37"/>
<circle cx="99.31" cy="273.85" r="1.3" fill="#EE2B37"/>
<circle cx="105.4" cy="246.81" r="2" fill="#EE2B37"/>
<circle cx="104.69" cy="294.7" r="0.99" fill="#EE2B37"/>
<circle cx="105.82" cy="246.9" r="2.09" fill="#EE2B37"/>
<circle cx="102.29" cy="266.28" r="1.7" fill="#EE2B37"/>
<circle cx="97.38" cy="269.79" r="1.74" fill="#EE2B37"/>
<circle cx="103.52" cy="251.59" r="1.92" fill="#EE2B37"/>
<circle cx="105.21" cy="251" r="2.01" fill="#EE2B37"/>
<circle cx="100.58" cy="262.11" r="1.64" fill="#EE2B37"/>
<circle cx="95.84" cy="278.12" r="1.52" fill="#EE2B37"/>
<circle cx="106.69" cy="292.23" r="1.2" fill="#EE2B37"/>
<circle cx="98.99" cy="264.23" r="1.5" fill="#EE2B37"/>
<circle cx="96.72" cy="277.92" r="1.37" fill="#EE2B37"/>
<circle cx="102.2" cy="293.12" r="1.4" fill="#EE2B37"/>
<circle cx="108.04" cy="243.21" r="2.02" fill="#EE2B37"/>
<circle cx="107.6" cy="243.82" r="2.01" fill="#EE2B37"/>
<circle cx="98.95" cy="289.61" r="1.16" fill="#EE2B37"/>
<circle cx="100.13" cy="286.66" r="1.47" fill="#EE2B37"/>
<circle cx="98.68" cy="271.73" r="1.52" fill="#EE2B37"/>
<circle cx="99.19" cy="263.24" r="1.62" fill="#EE2B37"/>
<circle cx="102.77" cy="259.62" r="1.74" fill="#EE2B37"/>
<circle cx="101.07" cy="281.45" r="1.58" fill="#EE2B37"/>
<circle cx="105.71" cy="242" r="2.13" fill="#EE2B37"/>
<circle cx="108.15" cy="240.03" r="2.18" fill="#EE2B37"/>
<circle cx="102.17" cy="268.19" r="1.78" fill="#EE2B37"/>
<circle cx="105.1" cy="248.5" r="1.78" fill="#EE2B37"/>
<circle cx="99.55" cy="290.41" r="1.44" fill="#EE2B37"/>
<circle cx="103.76" cy="261.1" r="1.85" fill="#EE2B37"/>
<circle cx="98.84" cy="281.05" r="1.37" fill="#EE2B37"/>
<circle cx="100.26" cy="293.17" r="1.17" fill="#EE2B37"/>
<circle cx="98.05" cy="274.32" r="1.66" fill="#EE2B37"/>
<circle cx="96.6" cy="277.01" r="1.47" fill="#EE2B37"/>
<circle cx="103.47" cy="291.34" r="1.28" fill="#EE2B37"/>
<circle cx="108.68" cy="247.61" r="1.87" fill="#EE2B37"/>
<circle cx="102.55" cy="269.14" r="1.73" fill="#EE2B37"/>
<circle cx="104.79" cy="251.08" r="1.77" fill="#EE2B37"/>
<circle cx="100.44" cy="296.27" r="0.97" fill="#EE2B37"/>
<circle cx="104.22" cy="296.92" r="1.26" fill="#EE2B37"/>
<circle cx="102.53" cy="253.1" r="1.73" fill="#EE2B37"/>
<circle cx="101.22" cy="280.62" r="1.57" fill="#EE2B37"/>
<circle cx="102.44" cy="288.38" r="1.31" fill="#EE2B37"/>
<circle cx="102.34" cy="260.69" r="1.64" fill="#EE2B37"/>
<circle cx="99.86" cy="265.09" r="1.61" fill="#EE2B37"/>
<circle cx="101.32" cy="294.66" r="1.22" fill="#EE2B37"/>
<circle cx="102.39" cy="257.07" r="1.97" fill="#EE2B37"/>
<circle cx="98.14" cy="284.8" r="1.38" fill="#EE2B37"/>
<circle cx="102.35" cy="251.5" r="1.77" fill="#EE2B37"/>
<circle cx="99.19" cy="277.33" r="1.34" fill="#EE2B37"/>
<circle cx="97.5" cy="292.54" r="1.32" fill="#EE2B37"/>
<circle cx="102.58" cy="266.84" r="1.45" fill="#EE2B37"/>
<circle cx="104.92" cy="249.05" r="2.05" fill="#EE2B37"/>
<circle cx="102.4" cy="258.52" r="1.69" fill="#EE2B37"/>
<circle cx="99.87" cy="271.14" r="1.47" fill="#EE2B37"/>
<circle cx="101.18" cy="265.85" r="1.64" fill="#EE2B37"/>
<circle cx="102.76" cy="271.17" r="1.36" fill="#EE2B37"/>
<circle cx="100.38" cy="267.52" r="1.48" fill="#EE2B37"/>
<circle cx="105.67" cy="261.69" r="1.82" fill="#EE2B37"/>
<circle cx="96.7" cy="274.99" r="1.68" fill="#EE2B37"/>
<circle cx="99.62" cy="264.17" r="1.53" fill="#EE2B37"/>
<circle cx="100.24" cy="277.49" r="1.59" fill="#EE2B37"/>
<circle cx="106.98" cy="294.62" r="1.25" fill="#EE2B37"/>
<circle cx="103.69" cy="257.59" r="1.85" fill="#EE2B37"/>
<circle cx="101.81" cy="277.67" r="1.55" fill="#EE2B37"/>
<circle cx="104.84" cy="251.65" r="2.01" fill="#EE2B37"/>
<circle cx="104.39" cy="251.43" r="2.02" fill="#EE2B37"/>
<circle cx="103.24" cy="265.71" r="1.88" fill="#EE2B37"/>
<circle cx="103.93" cy="257.17" r="1.93" fill="#EE2B37"/>
<circle cx="98.72" cy="276.59" r="1.32" fill="#EE2B37"/>
<circle cx="101.03" cy="266.8" r="1.78" fill="#EE2B37"/>
<circle cx="96.38" cy="287.04" r="1.5" fill="#EE2B37"/>
<circle cx="98.1" cy="282.76" r="1.45" fill="#EE2B37"/>
<circle cx="100.94" cy="275.74" r="1.49" fill="#EE2B37"/>
<circle cx="101.18" cy="267.22" r="1.84" fill="#EE2B37"/>
<circle cx="103.8" cy="256.87" r="2" fill="#EE2B37"/>
<circle cx="102.71" cy="254.42" r="1.93" fill="#EE2B37"/>
<circle cx="101.7" cy="271.65" r="1.45" fill="#EE2B37"/>
<circle cx="100.37" cy="259.54" r="1.68" fill="#EE2B37"/>
<circle cx="103.23" cy="283.49" r="1.27" fill="#EE2B37"/>
<circle cx="101.55" cy="275.24" r="1.4" fill="#EE2B37"/>
<circle cx="108.13" cy="246.53" r="2.1" fill="#EE2B37"/>
<circle cx="101.88" cy="270.14" r="1.38" fill="#EE2B37"/>
<circle cx="102.31" cy="291" r="1.46" fill="#EE2B37"/>
<circle cx="100.93" cy="280.41" r="1.33" fill="#EE2B37"/>
<circle cx="103.09" cy="265.57" r="1.88" fill="#EE2B37"/>
<circle cx="100.53" cy="270.81" r="1.59" fill="#EE2B37"/>
<circle cx="99.73" cy="264.84" r="1.59" fill="#EE2B37"/>
<circle cx="97.54" cy="284.03" r="1.24" fill="#EE2B37"/>
<circle cx="103.05" cy="297.02" r="1.21" fill="#EE2B37"/>
<circle cx="99.09" cy="268.86" r="1.44" fill="#EE2B37"/>
<circle cx="98.91" cy="261.99" r="1.61" fill="#EE2B37"/>
<circle cx="106.74" cy="256.57" r="1.81" fill="#EE2B37"/>
<circle cx="105.7" cy="242.06" r="1.97" fill="#EE2B37"/>
<circle cx="95.48" cy="280.21" r="1.49" fill="#EE2B37"/>
<circle cx="106.99" cy="240.99" r="1.95" fill="#EE2B37"/>
<circle cx="102.47" cy="251.88" r="1.87" fill="#EE2B37"/>
<circle cx="104.53" cy="291.02" r="1.07" fill="#EE2B37"/>
<circle cx="104.87" cy="294.11" r="1.09" fill="#EE2B37"/>
<circle cx="99.93" cy="296.04" r="1.35" fill="#EE2B37"/>
<circle cx="95.78" cy="281.04" r="1.59" fill="#EE2B37"/>
<circle cx="95.22" cy="278.31" r="1.3" fill="#EE2B37"/>
<circle cx="104.51" cy="251.32" r="1.86" fill="#EE2B37"/>
<circle cx="102.28" cy="294.08" r="0.98" fill="#EE2B37"/>
<circle cx="103.12" cy="290.12" r="1.37" fill="#EE2B37"/>
<circle cx="98.19" cy="274.4" r="1.38" fill="#EE2B37"/>
<circle cx="106.49" cy="250.99" r="2.11" fill="#EE2B37"/>
<circle cx="102.05" cy="258.64" r="1.78" fill="#EE2B37"/>
<circle cx="106.74" cy="248.09" r="1.94" fill="#EE2B37"/>
<circle cx="105.08" cy="251.08" r="1.82" fill="#EE2B37"/>
<circle cx="98.43" cy="273.95" r="1.51" fill="#EE2B37"/>
<circle cx="100.75" cy="294.05" r="1.24" fill="#EE2B37"/>
<circle cx="100.69" cy="272.89" r="1.5" fill="#EE2B37"/>
<circle cx="103.79" cy="247.29" r="1.86" fill="#EE2B37"/>
<circle cx="106.34" cy="239.54" r="2.07" fill="#EE2B37"/>
<circle cx="101.75" cy="278.01" r="1.67" fill="#EE2B37"/>
<circle cx="105.41" cy="248.87" r="2.12" fill="#EE2B37"/>
<circle cx="105.21" cy="274.11" r="1.43" fill="#EE2B37"/>
<circle cx="100.03" cy="274.59" r="1.44" fill="#EE2B37"/>
<circle cx="103.2" cy="295.91" r="1.22" fill="#EE2B37"/>
<circle cx="104.33" cy="253.52" r="1.91" fill="#EE2B37"/>
<circle cx="102.84" cy="295.9" r="1.15" fill="#EE2B37"/>
<circle cx="101.18" cy="262.96" r="1.74" fill="#EE2B37"/>
<circle cx="107.59" cy="245.26" r="2.03" fill="#EE2B37"/>
<circle cx="100.05" cy="272.84" r="1.65" fill="#EE2B37"/>
<circle cx="100.6" cy="258.69" r="1.9" fill="#EE2B37"/>
<circle cx="99.91" cy="260.92" r="1.82" fill="#EE2B37"/>
<circle cx="101.26" cy="279.23" r="1.57" fill="#EE2B37"/>
<circle cx="106.63" cy="272.83" r="1.51" fill="#EE2B37"/>
<circle cx="100.89" cy="272.35" r="1.6" fill="#EE2B37"/>
<circle cx="101.94" cy="291.85" r="1.28" fill="#EE2B37"/>
<circle cx="100.27" cy="262.15" r="1.52" fill="#EE2B37"/>
<circle cx="104.79" cy="248.06" r="1.95" fill="#EE2B37"/>
<circle cx="87.91" cy="293.34" r="0.98" fill="#EE2B37"/>
<circle cx="82.96" cy="291.96" r="1.06" fill="#EE2B37"/>
<circle cx="91.34" cy="294.83" r="1.03" fill="#EE2B37"/>
<circle cx="78.72" cy="294.2" r="0.89" fill="#EE2B37"/>
<circle cx="84.91" cy="293.15" r="1.25" fill="#EE2B37"/>
<circle cx="86.39" cy="281.54" r="1.43" fill="#EE2B37"/>
<circle cx="87.25" cy="296.82" r="0.91" fill="#EE2B37"/>
<circle cx="88.31" cy="274.53" r="1.37" fill="#EE2B37"/>
<circle cx="90.15" cy="294.01" r="0.89" fill="#EE2B37"/>
<circle cx="84.81" cy="296.03" r="1.09" fill="#EE2B37"/>
<circle cx="90.01" cy="282.04" r="1.3" fill="#EE2B37"/>
<circle cx="89.43" cy="296.67" r="1.14" fill="#EE2B37"/>
<circle cx="82.06" cy="294.7" r="0.91" fill="#EE2B37"/>
<circle cx="79.49" cy="291.52" r="1.14" fill="#EE2B37"/>
<circle cx="87.81" cy="278.13" r="1.67" fill="#EE2B37"/>
<circle cx="90.39" cy="288.37" r="1.05" fill="#EE2B37"/>
<circle cx="91.22" cy="289.28" r="0.94" fill="#EE2B37"/>
<circle cx="89.82" cy="282.85" r="1.33" fill="#EE2B37"/>
<circle cx="89.55" cy="272.14" r="1.7" fill="#EE2B37"/>
<circle cx="87.26" cy="281.21" r="1.39" fill="#EE2B37"/>
<circle cx="84.34" cy="292.77" r="1.13" fill="#EE2B37"/>
<circle cx="82.37" cy="287.73" r="1.02" fill="#EE2B37"/>
<circle cx="87.4" cy="274.06" r="1.72" fill="#EE2B37"/>
<circle cx="89.71" cy="267.55" r="1.8" fill="#EE2B37"/>
<circle cx="81.88" cy="294.15" r="0.97" fill="#EE2B37"/>
<circle cx="87.99" cy="274.06" r="1.67" fill="#EE2B37"/>
<circle cx="89.46" cy="285.42" r="1.2" fill="#EE2B37"/>
<circle cx="85.45" cy="295.75" r="0.86" fill="#EE2B37"/>
<circle cx="75.58" cy="296.74" r="0.81" fill="#EE2B37"/>
<circle cx="87.15" cy="277.32" r="1.43" fill="#EE2B37"/>
<circle cx="84.96" cy="285.51" r="1.16" fill="#EE2B37"/>
<circle cx="89.85" cy="288.45" r="1.06" fill="#EE2B37"/>
<circle cx="87.55" cy="287.29" r="1.39" fill="#EE2B37"/>
<circle cx="86.58" cy="275.29" r="1.43" fill="#EE2B37"/>
<circle cx="90.97" cy="281.96" r="1.28" fill="#EE2B37"/>
<circle cx="86.92" cy="296.63" r="1.11" fill="#EE2B37"/>
<circle cx="81.17" cy="296.54" r="0.82" fill="#EE2B37"/>
<circle cx="90.44" cy="284.41" r="1.18" fill="#EE2B37"/>
<circle cx="90.59" cy="281.73" r="1.45" fill="#EE2B37"/>
<circle cx="89.12" cy="286.73" r="1.12" fill="#EE2B37"/>
<circle cx="91.14" cy="275.25" r="1.51" fill="#EE2B37"/>
<circle cx="89.7" cy="272.22" r="1.51" fill="#EE2B37"/>
<circle cx="88.8" cy="292.41" r="1.24" fill="#EE2B37"/>
<circle cx="76.95" cy="295.94" r="0.86" fill="#EE2B37"/>
<circle cx="85.33" cy="295.62" r="1.16" fill="#EE2B37"/>
<circle cx="86.68" cy="285.26" r="1.16" fill="#EE2B37"/>
<circle cx="87.52" cy="292.1" r="1.26" fill="#EE2B37"/>
<circle cx="86.87" cy="291.01" r="0.9" fill="#EE2B37"/>
<circle cx="88.94" cy="279.72" r="1.36" fill="#EE2B37"/>
<circle cx="91.48" cy="288.18" r="1.18" fill="#EE2B37"/>
<circle cx="77.02" cy="294.89" r="1.09" fill="#EE2B37"/>
<circle cx="84.54" cy="290.55" r="1.35" fill="#EE2B37"/>
<circle cx="86.09" cy="292.79" r="1.06" fill="#EE2B37"/>
<circle cx="83.95" cy="295.82" r="1.03" fill="#EE2B37"/>
<circle cx="86.58" cy="280.92" r="1.38" fill="#EE2B37"/>
<circle cx="75.59" cy="295.9" r="1.2" fill="#EE2B37"/>
<circle cx="91.18" cy="296.04" r="0.79" fill="#EE2B37"/>
<circle cx="84.66" cy="281.86" r="1.39" fill="#EE2B37"/>
<circle cx="91.08" cy="279.34" r="1.32" fill="#EE2B37"/>
<circle cx="91.04" cy="274.64" r="1.67" fill="#EE2B37"/>
<circle cx="90.82" cy="277.19" r="1.54" fill="#EE2B37"/>
<circle cx="87.33" cy="274.77" r="1.62" fill="#EE2B37"/>
<circle cx="81.3" cy="294.59" r="1.12" fill="#EE2B37"/>
<circle cx="88.91" cy="279.68" r="1.37" fill="#EE2B37"/>
<circle cx="83.1" cy="283.35" r="1.29" fill="#EE2B37"/>
<circle cx="83.42" cy="292.98" r="0.87" fill="#EE2B37"/>
<circle cx="88.13" cy="277.8" r="1.6" fill="#EE2B37"/>
<circle cx="90.25" cy="278.57" r="1.4" fill="#EE2B37"/>
<circle cx="88.01" cy="285.13" r="1.46" fill="#EE2B37"/>
<circle cx="89.04" cy="288.77" r="1.11" fill="#EE2B37"/>
<circle cx="90.39" cy="286.36" r="1.19" fill="#EE2B37"/>
<circle cx="89.24" cy="271.69" r="1.8" fill="#EE2B37"/>
<circle cx="83.39" cy="295.02" r="0.95" fill="#EE2B37"/>
<circle cx="85.94" cy="287.64" r="1.06" fill="#EE2B37"/>
<circle cx="86.76" cy="287.17" r="1.08" fill="#EE2B37"/>
<circle cx="83.42" cy="284.71" r="1.35" fill="#EE2B37"/>
<circle cx="90.08" cy="281.56" r="1.43" fill="#EE2B37"/>
<circle cx="88.97" cy="287.47" r="1.2" fill="#EE2B37"/>
<circle cx="86.13" cy="283.75" r="1.48" fill="#EE2B37"/>
<circle cx="87.28" cy="282.81" r="1.36" fill="#EE2B37"/>
<circle cx="89.3" cy="290.12" r="1.02" fill="#EE2B37"/>
<circle cx="90.09" cy="295.49" r="1.07" fill="#EE2B37"/>
<circle cx="88.42" cy="279.45" r="1.41" fill="#EE2B37"/>
<circle cx="90.68" cy="278.77" r="1.65" fill="#EE2B37"/>
<circle cx="91.23" cy="270.12" r="1.79" fill="#EE2B37"/>
<circle cx="90.32" cy="282.77" r="1.46" fill="#EE2B37"/>
<circle cx="89.21" cy="296.64" r="1.05" fill="#EE2B37"/>
<circle cx="82.05" cy="283.47" r="1.36" fill="#EE2B37"/>
<circle cx="82.28" cy="294.94" r="0.84" fill="#EE2B37"/>
<circle cx="84.98" cy="284.68" r="1.13" fill="#EE2B37"/>
<circle cx="87.19" cy="272.87" r="1.8" fill="#EE2B37"/>
<circle cx="91.1" cy="289.75" r="1.24" fill="#EE2B37"/>
<circle cx="79.44" cy="296.79" r="1.05" fill="#EE2B37"/>
<circle cx="85.83" cy="284.63" r="1.48" fill="#EE2B37"/>
<circle cx="91.08" cy="286.16" r="1.09" fill="#EE2B37"/>
<circle cx="81.08" cy="296.08" r="1.17" fill="#EE2B37"/>
<circle cx="91.17" cy="275.48" r="1.62" fill="#EE2B37"/>
<circle cx="87.72" cy="284.32" r="1.18" fill="#EE2B37"/>
<circle cx="81.23" cy="292.22" r="1.18" fill="#EE2B37"/>
<circle cx="87.42" cy="284.37" r="1.25" fill="#EE2B37"/>
<circle cx="88.94" cy="285.29" r="1.26" fill="#EE2B37"/>
<circle cx="79.28" cy="296.27" r="0.81" fill="#EE2B37"/>
<circle cx="81.42" cy="290.2" r="1.07" fill="#EE2B37"/>
<circle cx="77.29" cy="294.82" r="0.82" fill="#EE2B37"/>
<circle cx="87.8" cy="289.17" r="1.15" fill="#EE2B37"/>
<circle cx="82.02" cy="287.36" r="1.27" fill="#EE2B37"/>
<circle cx="88.81" cy="294.81" r="1.14" fill="#EE2B37"/>
<circle cx="90.38" cy="283.34" r="1.46" fill="#EE2B37"/>
<circle cx="89.67" cy="288.05" r="1.37" fill="#EE2B37"/>
<circle cx="84.94" cy="285.96" r="1.47" fill="#EE2B37"/>
<circle cx="87.53" cy="281.5" r="1.39" fill="#EE2B37"/>
<circle cx="87.9" cy="280.25" r="1.61" fill="#EE2B37"/>
<circle cx="88.98" cy="290.79" r="1.2" fill="#EE2B37"/>
<circle cx="87.97" cy="288.94" r="1.25" fill="#EE2B37"/>
<circle cx="84.75" cy="282.9" r="1.28" fill="#EE2B37"/>
<circle cx="88.29" cy="293.5" r="0.9" fill="#EE2B37"/>
<circle cx="90.86" cy="281.57" r="1.54" fill="#EE2B37"/>
<circle cx="86" cy="296.92" r="0.84" fill="#EE2B37"/>
<circle cx="79.02" cy="294.68" r="0.9" fill="#EE2B37"/>
<circle cx="88.08" cy="280.86" r="1.22" fill="#EE2B37"/>
<circle cx="89.39" cy="277.81" r="1.3" fill="#EE2B37"/>
<circle cx="88.56" cy="275.34" r="1.45" fill="#EE2B37"/>
<circle cx="76.63" cy="295.35" r="1.07" fill="#EE2B37"/>
<circle cx="86.03" cy="279.92" r="1.34" fill="#EE2B37"/>
<circle cx="86.32" cy="294.43" r="1.11" fill="#EE2B37"/>
<circle cx="82.6" cy="291.95" r="1.2" fill="#EE2B37"/>
<circle cx="90.67" cy="281.95" r="1.3" fill="#EE2B37"/>
<circle cx="91.24" cy="296.2" r="0.88" fill="#EE2B37"/>
<circle cx="88.54" cy="280.98" r="1.55" fill="#EE2B37"/>
<circle cx="91.14" cy="276.4" r="1.29" fill="#EE2B37"/>
<circle cx="85.68" cy="281.87" r="1.34" fill="#EE2B37"/>
<circle cx="86.02" cy="289.64" r="1.09" fill="#EE2B37"/>
<circle cx="91.32" cy="283.77" r="1.51" fill="#EE2B37"/>
<circle cx="90.76" cy="291.56" r="0.97" fill="#EE2B37"/>
<circle cx="85.42" cy="292.64" r="1.18" fill="#EE2B37"/>
<circle cx="90.26" cy="291.97" r="1.23" fill="#EE2B37"/>
<circle cx="90.95" cy="277.47" r="1.59" fill="#EE2B37"/>
<circle cx="88.23" cy="293.31" r="1" fill="#EE2B37"/>
<circle cx="88.54" cy="291.6" r="1.07" fill="#EE2B37"/>
<circle cx="90.22" cy="296.85" r="1.15" fill="#EE2B37"/>
<circle cx="76.24" cy="294.78" r="0.9" fill="#EE2B37"/>
<circle cx="89.2" cy="277.37" r="1.34" fill="#EE2B37"/>
<circle cx="83.7" cy="295.53" r="1.15" fill="#EE2B37"/>
<circle cx="87" cy="285.96" r="1.46" fill="#EE2B37"/>
<circle cx="90.7" cy="274.54" r="1.72" fill="#EE2B37"/>
<circle cx="82.71" cy="288.33" r="1.41" fill="#EE2B37"/>
<circle cx="83.91" cy="292.4" r="1.19" fill="#EE2B37"/>
<circle cx="89.81" cy="286.97" r="1.15" fill="#EE2B37"/>
<circle cx="84.45" cy="295.53" r="0.78" fill="#EE2B37"/>
<circle cx="79.02" cy="289.54" r="1.21" fill="#EE2B37"/>
<circle cx="87.47" cy="285.97" r="1.31" fill="#EE2B37"/>
<circle cx="86.49" cy="288.93" r="1.35" fill="#EE2B37"/>
<circle cx="80.23" cy="294.78" r="1.11" fill="#EE2B37"/>
<circle cx="89.73" cy="291.26" r="1.1" fill="#EE2B37"/>
<circle cx="90.45" cy="279.66" r="1.62" fill="#EE2B37"/>
<circle cx="86.06" cy="278.49" r="1.6" fill="#EE2B37"/>
<circle cx="91.41" cy="283.69" r="1.17" fill="#EE2B37"/>
<circle cx="83.28" cy="289.63" r="1.09" fill="#EE2B37"/>
<circle cx="90.25" cy="288.57" r="1.25" fill="#EE2B37"/>
<circle cx="81.06" cy="292.61" r="1.1" fill="#EE2B37"/>
<circle cx="91.49" cy="287.96" r="1.09" fill="#EE2B37"/>
<circle cx="91.14" cy="283.74" r="1.12" fill="#EE2B37"/>
<circle cx="81.52" cy="296.17" r="1" fill="#EE2B37"/>
<circle cx="80.48" cy="290.62" r="1.19" fill="#EE2B37"/>
<circle cx="88.43" cy="284.29" r="1.51" fill="#EE2B37"/>
<circle cx="100.75" cy="295.61" r="1.07" fill="#EE2B37"/>
<circle cx="90.05" cy="291.2" r="1.1" fill="#EE2B37"/>
<circle cx="88.68" cy="293.2" r="1.05" fill="#EE2B37"/>
<circle cx="117.02" cy="288.53" r="1.19" fill="#EE2B37"/>
<circle cx="116.92" cy="290.73" r="1.11" fill="#EE2B37"/>
<circle cx="85.57" cy="289.08" r="1.03" fill="#EE2B37"/>
<circle cx="82.95" cy="290.69" r="0.82" fill="#EE2B37"/>
<circle cx="106.48" cy="292.05" r="0.89" fill="#EE2B37"/>
<circle cx="98.6" cy="289.16" r="0.79" fill="#EE2B37"/>
<circle cx="104.5" cy="297.06" r="0.81" fill="#EE2B37"/>
<circle cx="104.75" cy="289.12" r="0.98" fill="#EE2B37"/>
<circle cx="82.76" cy="292.72" r="0.81" fill="#EE2B37"/>
<circle cx="90.74" cy="290.78" r="1.1" fill="#EE2B37"/>
<circle cx="99.2" cy="296.81" r="0.93" fill="#EE2B37"/>
<circle cx="106.29" cy="289.1" r="0.89" fill="#EE2B37"/>
<circle cx="101.66" cy="294.19" r="1.2" fill="#EE2B37"/>
<circle cx="82.19" cy="293.78" r="0.87" fill="#EE2B37"/>
<circle cx="79.28" cy="292.46" r="1.06" fill="#EE2B37"/>
<circle cx="94.1" cy="297.08" r="1.09" fill="#EE2B37"/>
<circle cx="65.16" cy="294.64" r="1.08" fill="#EE2B37"/>
<circle cx="91.03" cy="290.52" r="0.88" fill="#EE2B37"/>
<circle cx="79.27" cy="292.75" r="1.21" fill="#EE2B37"/>
<circle cx="103.61" cy="292.74" r="0.95" fill="#EE2B37"/>
<circle cx="70.12" cy="292.68" r="0.97" fill="#EE2B37"/>
<circle cx="98.72" cy="293.4" r="0.91" fill="#EE2B37"/>
<circle cx="86.03" cy="294.56" r="0.94" fill="#EE2B37"/>
<circle cx="78.13" cy="293.94" r="0.87" fill="#EE2B37"/>
<circle cx="75.11" cy="292.07" r="0.99" fill="#EE2B37"/>
<circle cx="94.13" cy="295.12" r="1.15" fill="#EE2B37"/>
<circle cx="107.62" cy="296.99" r="0.87" fill="#EE2B37"/>
<circle cx="69.92" cy="293.35" r="1.14" fill="#EE2B37"/>
<circle cx="97.35" cy="289.29" r="1.19" fill="#EE2B37"/>
<circle cx="104.66" cy="289.95" r="0.89" fill="#EE2B37"/>
<circle cx="73.11" cy="295.01" r="1.02" fill="#EE2B37"/>
<circle cx="79.44" cy="293.15" r="1.01" fill="#EE2B37"/>
<circle cx="100.73" cy="296.01" r="0.93" fill="#EE2B37"/>
<circle cx="65.85" cy="295.45" r="0.8" fill="#EE2B37"/>
<circle cx="81.28" cy="294.94" r="1.16" fill="#EE2B37"/>
<circle cx="79.53" cy="294.81" r="1.09" fill="#EE2B37"/>
<circle cx="80.49" cy="293.95" r="0.88" fill="#EE2B37"/>
<circle cx="113.44" cy="296.08" r="1" fill="#EE2B37"/>
<circle cx="82.74" cy="295.73" r="1" fill="#EE2B37"/>
<circle cx="90.57" cy="294.9" r="1.16" fill="#EE2B37"/>
<circle cx="72.74" cy="292.31" r="0.89" fill="#EE2B37"/>
<circle cx="90.12" cy="295.43" r="1.2" fill="#EE2B37"/>
<circle cx="96.3" cy="292.37" r="0.82" fill="#EE2B37"/>
<circle cx="86.42" cy="295.21" r="1.04" fill="#EE2B37"/>
<circle cx="101.83" cy="296.57" r="0.87" fill="#EE2B37"/>
<circle cx="77.31" cy="295.19" r="0.98" fill="#EE2B37"/>
<circle cx="106.68" cy="289.73" r="0.96" fill="#EE2B37"/>
<circle cx="76.22" cy="295.85" r="1.16" fill="#EE2B37"/>
<circle cx="76.45" cy="295.75" r="1.11" fill="#EE2B37"/>
<circle cx="100.22" cy="291.72" r="0.87" fill="#EE2B37"/>
<circle cx="91.07" cy="290.46" r="0.9" fill="#EE2B37"/>
<circle cx="80.11" cy="294.39" r="1.07" fill="#EE2B37"/>
<circle cx="110.97" cy="292.5" r="1.18" fill="#EE2B37"/>
<circle cx="84.78" cy="289.29" r="1.05" fill="#EE2B37"/>
<circle cx="105.96" cy="289.42" r="0.83" fill="#EE2B37"/>
<circle cx="91.43" cy="288.25" r="1.11" fill="#EE2B37"/>
<circle cx="68.8" cy="295.77" r="0.8" fill="#EE2B37"/>
<circle cx="107.04" cy="290.85" r="0.9" fill="#EE2B37"/>
<circle cx="96.11" cy="291.16" r="0.99" fill="#EE2B37"/>
<circle cx="84.08" cy="289.25" r="1.19" fill="#EE2B37"/>
<circle cx="88.12" cy="290.84" r="1.19" fill="#EE2B37"/>
<circle cx="110.64" cy="296.69" r="1.04" fill="#EE2B37"/>
<circle cx="64.77" cy="296.35" r="0.93" fill="#EE2B37"/>
<circle cx="78.18" cy="293.2" r="0.7" fill="#EE2B37"/>
<circle cx="87.06" cy="296.11" r="0.85" fill="#EE2B37"/>
<circle cx="91.57" cy="291.64" r="0.99" fill="#EE2B37"/>
<circle cx="88.02" cy="293.12" r="1.02" fill="#EE2B37"/>
<circle cx="79.37" cy="291.03" r="0.96" fill="#EE2B37"/>
<circle cx="111.15" cy="290.86" r="0.83" fill="#EE2B37"/>
<circle cx="121.79" cy="293.96" r="0.85" fill="#EE2B37"/>
<circle cx="67.37" cy="295.69" r="1.08" fill="#EE2B37"/>
<circle cx="105.69" cy="297.09" r="0.85" fill="#EE2B37"/>
<circle cx="62.97" cy="295.58" r="0.7" fill="#EE2B37"/>
<circle cx="63.86" cy="296.69" r="1.07" fill="#EE2B37"/>
<circle cx="67.57" cy="297.22" r="0.75" fill="#EE2B37"/>
<circle cx="79.72" cy="292.04" r="0.77" fill="#EE2B37"/>
<circle cx="60.24" cy="296.86" r="0.7" fill="#EE2B37"/>
<circle cx="114.72" cy="296.65" r="1.06" fill="#EE2B37"/>
<circle cx="96.42" cy="291.46" r="0.99" fill="#EE2B37"/>
<circle cx="63.02" cy="295.77" r="0.81" fill="#EE2B37"/>
<circle cx="122.24" cy="292.44" r="1" fill="#EE2B37"/>
<circle cx="93.66" cy="292.13" r="0.89" fill="#EE2B37"/>
<circle cx="89" cy="291.56" r="0.92" fill="#EE2B37"/>
<circle cx="96.32" cy="295.26" r="0.82" fill="#EE2B37"/>
<circle cx="102.26" cy="291.85" r="0.91" fill="#EE2B37"/>
<circle cx="75.27" cy="295.84" r="0.76" fill="#EE2B37"/>
<circle cx="78.95" cy="290.97" r="0.81" fill="#EE2B37"/>
<circle cx="96.97" cy="292.05" r="0.73" fill="#EE2B37"/>
<circle cx="122.32" cy="292.61" r="0.77" fill="#EE2B37"/>
<circle cx="86.74" cy="296.22" r="1.01" fill="#EE2B37"/>
<circle cx="122.99" cy="294.21" r="0.82" fill="#EE2B37"/>
<circle cx="94.09" cy="290.9" r="0.98" fill="#EE2B37"/>
<circle cx="118.4" cy="296.73" r="1.04" fill="#EE2B37"/>
<circle cx="104.59" cy="295.97" r="0.8" fill="#EE2B37"/>
<circle cx="98.47" cy="291.61" r="1.09" fill="#EE2B37"/>
<circle cx="94.89" cy="291.7" r="1.11" fill="#EE2B37"/>
<circle cx="102.66" cy="291.94" r="1.05" fill="#EE2B37"/>
<circle cx="103.09" cy="294.73" r="1.07" fill="#EE2B37"/>
<circle cx="80.75" cy="292.39" r="0.93" fill="#EE2B37"/>
<circle cx="72.64" cy="295.25" r="0.89" fill="#EE2B37"/>
<circle cx="72.42" cy="292.89" r="0.93" fill="#EE2B37"/>
<circle cx="123.84" cy="295.92" r="1.05" fill="#EE2B37"/>
<circle cx="98.8" cy="295.95" r="0.82" fill="#EE2B37"/>
<circle cx="84.49" cy="296.64" r="0.79" fill="#EE2B37"/>
<circle cx="102.88" cy="294.36" r="0.7" fill="#EE2B37"/>
<circle cx="98.77" cy="295.92" r="1.07" fill="#EE2B37"/>
<circle cx="88.14" cy="296.61" r="0.69" fill="#EE2B37"/>
<circle cx="123.28" cy="295.13" r="1.04" fill="#EE2B37"/>
<circle cx="90.25" cy="294.49" r="1.04" fill="#EE2B37"/>
<circle cx="74.1" cy="291.75" r="1.01" fill="#EE2B37"/>
<circle cx="121.08" cy="292.05" r="0.92" fill="#EE2B37"/>
<circle cx="107.52" cy="295.24" r="0.96" fill="#EE2B37"/>
<circle cx="107.72" cy="294.82" r="1.01" fill="#EE2B37"/>
<circle cx="106.93" cy="295.07" r="1.1" fill="#EE2B37"/>
<circle cx="108.33" cy="284.74" r="1.21" fill="#EE2B37"/>
<circle cx="112.2" cy="287.23" r="0.98" fill="#EE2B37"/>
<circle cx="126.15" cy="294.57" r="1.15" fill="#EE2B37"/>
<circle cx="115.37" cy="283.94" r="1.23" fill="#EE2B37"/>
<circle cx="117.89" cy="290.19" r="1.09" fill="#EE2B37"/>
<circle cx="113.6" cy="290.46" r="0.98" fill="#EE2B37"/>
<circle cx="108.94" cy="293.27" r="1.04" fill="#EE2B37"/>
<circle cx="118.49" cy="292.24" r="1.03" fill="#EE2B37"/>
<circle cx="111.9" cy="232.3" r="2.46" fill="#EE2B37"/>
<circle cx="108.8" cy="238.8" r="2.24" fill="#EE2B37"/>
<circle cx="112.7" cy="240.3" r="2.02" fill="#EE2B37"/>
<circle cx="122.7" cy="243.4" r="2.02" fill="#EE2B37"/>
<circle cx="107.3" cy="243.4" r="2.02" fill="#EE2B37"/>
<circle cx="106.5" cy="246.5" r="2.02" fill="#EE2B37"/>
<circle cx="105" cy="249.5" r="2.02" fill="#EE2B37"/>
<circle cx="80.4" cy="261.5" r="2.02" fill="#EE2B37"/>
<circle cx="84.2" cy="264.2" r="2.02" fill="#EE2B37"/>
<circle cx="81.9" cy="266.5" r="1.9" fill="#EE2B37"/>
<circle cx="85.8" cy="269.5" r="1.9" fill="#EE2B37"/>
<circle cx="177.2" cy="243.1" r="2.24" fill="#EE2B37"/>
<circle cx="136.9" cy="270.8" r="1.57" fill="#EE2B37"/>
<circle cx="120.8" cy="277.2" r="1.68" fill="#EE2B37"/>
<circle cx="130" cy="287.7" r="0.9" fill="#EE2B37"/>
<circle cx="126.2" cy="290" r="0.9" fill="#EE2B37"/>
<circle cx="125.4" cy="292.6" r="0.9" fill="#EE2B37"/>
<circle cx="130.6" cy="241.1" r="2.02" fill="#E78AC3"/>
<circle cx="120.5" cy="260.1" r="1.9" fill="#E78AC3"/>
<circle cx="108" cy="258" r="1.68" fill="#E78AC3"/>
<circle cx="107.3" cy="263.4" r="1.57" fill="#E78AC3"/>
<circle cx="109.6" cy="265.7" r="1.57" fill="#E78AC3"/>
<circle cx="83.5" cy="274" r="1.57" fill="#E78AC3"/>
<circle cx="137.2" cy="257.5" r="1.79" fill="#E78AC3"/>
<circle cx="140.3" cy="273.8" r="1.46" fill="#E78AC3"/>
<circle cx="133.5" cy="285.2" r="0.9" fill="#E78AC3"/>
<circle cx="128.5" cy="289.5" r="0.9" fill="#E78AC3"/>
<circle cx="122.3" cy="282.6" r="1.01" fill="#E78AC3"/>
<circle cx="126.2" cy="285" r="1.01" fill="#E78AC3"/>
<circle cx="112" cy="272" r="1.34" fill="#E78AC3"/>
<circle cx="104" cy="280" r="1.34" fill="#E78AC3"/>
<circle cx="82" cy="287" r="1.23" fill="#E78AC3"/>
<circle cx="80" cy="284" r="1.23" fill="#E78AC3"/>
<circle cx="101.2" cy="260" r="1.4" fill="none" stroke="#111" stroke-width="0.5"/>
<circle cx="103" cy="271.1" r="1.4" fill="none" stroke="#111" stroke-width="0.5"/>
<circle cx="99.6" cy="276.5" r="1.4" fill="none" stroke="#111" stroke-width="0.5"/>
<circle cx="95.8" cy="281.1" r="1.4" fill="none" stroke="#111" stroke-width="0.5"/>
<circle cx="96.5" cy="283.4" r="1.4" fill="none" stroke="#111" stroke-width="0.5"/>
<circle cx="107.3" cy="282.6" r="1.4" fill="none" stroke="#111" stroke-width="0.5"/>
<circle cx="104.2" cy="285.7" r="1.4" fill="none" stroke="#111" stroke-width="0.5"/>
<circle cx="118.8" cy="279.5" r="1.4" fill="none" stroke="#111" stroke-width="0.5"/>
<circle cx="86.5" cy="289.5" r="1.4" fill="none" stroke="#111" stroke-width="0.5"/>
<circle cx="85" cy="294.2" r="1.4" fill="none" stroke="#111" stroke-width="0.5"/>
<circle cx="88.1" cy="294.2" r="1.4" fill="none" stroke="#111" stroke-width="0.5"/>
<circle cx="96.5" cy="289.5" r="1.4" fill="none" stroke="#111" stroke-width="0.5"/>
<circle cx="95.8" cy="294.2" r="1.4" fill="none" stroke="#111" stroke-width="0.5"/>
<circle cx="113" cy="294" r="1.4" fill="none" stroke="#111" stroke-width="0.5"/>
<circle cx="91" cy="291.5" r="1.4" fill="none" stroke="#111" stroke-width="0.5"/>
<circle cx="94.6" cy="287" r="1.4" fill="none" stroke="#111" stroke-width="0.5"/>
<circle cx="100" cy="291" r="1.4" fill="none" stroke="#111" stroke-width="0.5"/>
<circle cx="106" cy="277.5" r="1.4" fill="none" stroke="#111" stroke-width="0.5"/>
<circle cx="113.5" cy="294.5" r="1.23" fill="#222"/>
<circle cx="65.8" cy="294.9" r="0.9" fill="#222"/>
<circle cx="85" cy="294.9" r="1.01" fill="#222"/>
<circle cx="123.4" cy="294.9" r="1.01" fill="#222"/>
<circle cx="95" cy="295.5" r="0.9" fill="#222"/>
<circle cx="90" cy="295.8" r="0.9" fill="#222"/>
<circle cx="111" cy="295.5" r="0.9" fill="#222"/>
<line x1="111.9" y1="232.3" x2="150.5" y2="234.6" stroke="#9a9a9a" stroke-width="0.35"/>
<line x1="130.8" y1="241.1" x2="140" y2="243.6" stroke="#9a9a9a" stroke-width="0.35"/>
</g>
<rect x="82.7" y="232.3" width="22.8" height="5.2" rx="1" fill="#fff" fill-opacity="0.85" stroke="#E78AC3" stroke-width="0.3" stroke-opacity="0.75"/>
<text x="94.1" y="234.9" text-anchor="middle" font-size="5.65" fill="#DD6FB3" stroke="#DD6FB3" stroke-width="0.1" dy="0.36em">SEMA3B</text>
<rect x="115" y="232.3" width="24.2" height="5.2" rx="1" fill="#fff" fill-opacity="0.85" stroke="#E78AC3" stroke-width="0.3" stroke-opacity="0.75"/>
<text x="127.1" y="234.9" text-anchor="middle" font-size="5.65" fill="#DD6FB3" stroke="#DD6FB3" stroke-width="0.1" dy="0.36em">SEMA6D</text>
<rect x="86.8" y="244.2" width="18.7" height="5.3" rx="1" fill="#fff" fill-opacity="0.85" stroke="#E78AC3" stroke-width="0.3" stroke-opacity="0.75"/>
<text x="96.15" y="246.85" text-anchor="middle" font-size="5.65" fill="#DD6FB3" stroke="#DD6FB3" stroke-width="0.1" dy="0.36em">TCEA2</text>
<rect x="111.2" y="245.7" width="23" height="5.3" rx="1" fill="#fff" fill-opacity="0.85" stroke="#E78AC3" stroke-width="0.3" stroke-opacity="0.75"/>
<text x="122.7" y="248.35" text-anchor="middle" font-size="5.65" fill="#DD6FB3" stroke="#DD6FB3" stroke-width="0.1" dy="0.36em">MAP7D2</text>
<rect x="150.5" y="231.8" width="28.7" height="5.4" rx="1" fill="#fff" fill-opacity="0.85" stroke="#E78AC3" stroke-width="0.3" stroke-opacity="0.75"/>
<text x="164.85" y="234.5" text-anchor="middle" font-size="5.65" fill="#DD6FB3" stroke="#DD6FB3" stroke-width="0.1" dy="0.36em">SERPINB1</text>
<rect x="140" y="241.1" width="20.3" height="5.4" rx="1" fill="#fff" fill-opacity="0.85" stroke="#E78AC3" stroke-width="0.3" stroke-opacity="0.75"/>
<text x="150.15" y="243.8" text-anchor="middle" font-size="5.65" fill="#DD6FB3" stroke="#DD6FB3" stroke-width="0.1" dy="0.36em">IL1RL1</text>
<rect x="47.3" y="340.5" width="136.6" height="82.3" fill="#EBEBEB"/>
<line x1="47.3" x2="183.9" y1="359.95" y2="359.95" stroke="#fff" stroke-width="0.3" opacity="0.65"/>
<line x1="47.3" x2="183.9" y1="384.05" y2="384.05" stroke="#fff" stroke-width="0.3" opacity="0.65"/>
<line x1="47.3" x2="183.9" y1="408.15" y2="408.15" stroke="#fff" stroke-width="0.3" opacity="0.65"/>
<line x1="61.15" x2="61.15" y1="340.5" y2="422.8" stroke="#fff" stroke-width="0.3" opacity="0.65"/>
<line x1="96.05" x2="96.05" y1="340.5" y2="422.8" stroke="#fff" stroke-width="0.3" opacity="0.65"/>
<line x1="130.95" x2="130.95" y1="340.5" y2="422.8" stroke="#fff" stroke-width="0.3" opacity="0.65"/>
<line x1="165.85" x2="165.85" y1="340.5" y2="422.8" stroke="#fff" stroke-width="0.3" opacity="0.65"/>
<line x1="47.3" x2="183.9" y1="347.9" y2="347.9" stroke="#fff" stroke-width="0.55" opacity="0.9"/>
<line x1="47.3" x2="183.9" y1="372" y2="372" stroke="#fff" stroke-width="0.55" opacity="0.9"/>
<line x1="47.3" x2="183.9" y1="396.1" y2="396.1" stroke="#fff" stroke-width="0.55" opacity="0.9"/>
<line x1="47.3" x2="183.9" y1="420.2" y2="420.2" stroke="#fff" stroke-width="0.55" opacity="0.9"/>
<line x1="78.6" x2="78.6" y1="340.5" y2="422.8" stroke="#fff" stroke-width="0.55" opacity="0.9"/>
<line x1="113.5" x2="113.5" y1="340.5" y2="422.8" stroke="#fff" stroke-width="0.55" opacity="0.9"/>
<line x1="148.4" x2="148.4" y1="340.5" y2="422.8" stroke="#fff" stroke-width="0.55" opacity="0.9"/>
<rect x="183.9" y="340.5" width="14.1" height="82.3" fill="#D9D9D9"/>
<text transform="translate(190.95 381.65) rotate(90)" text-anchor="middle" font-size="12.3" fill="#1A1A1A" dy="0.36em">HPr1AR</text>
<text transform="translate(46.6 346.85) rotate(-45)" text-anchor="end" font-size="9.3" fill="#4D4D4D" dy="0.35em">1.5</text>
<text transform="translate(46.6 370.95) rotate(-45)" text-anchor="end" font-size="9.3" fill="#4D4D4D" dy="0.35em">1.0</text>
<text transform="translate(46.6 395.05) rotate(-45)" text-anchor="end" font-size="9.3" fill="#4D4D4D" dy="0.35em">0.5</text>
<text transform="translate(46.6 419.15) rotate(-45)" text-anchor="end" font-size="9.3" fill="#4D4D4D" dy="0.35em">0.0</text>
<rect x="47.3" y="425.1" width="136.6" height="81.5" fill="#EBEBEB"/>
<line x1="47.3" x2="183.9" y1="436.95" y2="436.95" stroke="#fff" stroke-width="0.3" opacity="0.65"/>
<line x1="47.3" x2="183.9" y1="451.85" y2="451.85" stroke="#fff" stroke-width="0.3" opacity="0.65"/>
<line x1="47.3" x2="183.9" y1="466.75" y2="466.75" stroke="#fff" stroke-width="0.3" opacity="0.65"/>
<line x1="47.3" x2="183.9" y1="481.65" y2="481.65" stroke="#fff" stroke-width="0.3" opacity="0.65"/>
<line x1="47.3" x2="183.9" y1="496.55" y2="496.55" stroke="#fff" stroke-width="0.3" opacity="0.65"/>
<line x1="61.15" x2="61.15" y1="425.1" y2="506.6" stroke="#fff" stroke-width="0.3" opacity="0.65"/>
<line x1="96.05" x2="96.05" y1="425.1" y2="506.6" stroke="#fff" stroke-width="0.3" opacity="0.65"/>
<line x1="130.95" x2="130.95" y1="425.1" y2="506.6" stroke="#fff" stroke-width="0.3" opacity="0.65"/>
<line x1="165.85" x2="165.85" y1="425.1" y2="506.6" stroke="#fff" stroke-width="0.3" opacity="0.65"/>
<line x1="47.3" x2="183.9" y1="429.5" y2="429.5" stroke="#fff" stroke-width="0.55" opacity="0.9"/>
<line x1="47.3" x2="183.9" y1="444.4" y2="444.4" stroke="#fff" stroke-width="0.55" opacity="0.9"/>
<line x1="47.3" x2="183.9" y1="459.3" y2="459.3" stroke="#fff" stroke-width="0.55" opacity="0.9"/>
<line x1="47.3" x2="183.9" y1="474.2" y2="474.2" stroke="#fff" stroke-width="0.55" opacity="0.9"/>
<line x1="47.3" x2="183.9" y1="489.1" y2="489.1" stroke="#fff" stroke-width="0.55" opacity="0.9"/>
<line x1="47.3" x2="183.9" y1="504" y2="504" stroke="#fff" stroke-width="0.55" opacity="0.9"/>
<line x1="78.6" x2="78.6" y1="425.1" y2="506.6" stroke="#fff" stroke-width="0.55" opacity="0.9"/>
<line x1="113.5" x2="113.5" y1="425.1" y2="506.6" stroke="#fff" stroke-width="0.55" opacity="0.9"/>
<line x1="148.4" x2="148.4" y1="425.1" y2="506.6" stroke="#fff" stroke-width="0.55" opacity="0.9"/>
<rect x="183.9" y="425.1" width="14.1" height="81.5" fill="#D9D9D9"/>
<text transform="translate(190.95 465.85) rotate(90)" text-anchor="middle" font-size="12.3" fill="#1A1A1A" dy="0.36em">LNCaP</text>
<text transform="translate(46.6 428.45) rotate(-45)" text-anchor="end" font-size="9.3" fill="#4D4D4D" dy="0.35em">2.5</text>
<text transform="translate(46.6 443.35) rotate(-45)" text-anchor="end" font-size="9.3" fill="#4D4D4D" dy="0.35em">2.0</text>
<text transform="translate(46.6 458.25) rotate(-45)" text-anchor="end" font-size="9.3" fill="#4D4D4D" dy="0.35em">1.5</text>
<text transform="translate(46.6 473.15) rotate(-45)" text-anchor="end" font-size="9.3" fill="#4D4D4D" dy="0.35em">1.0</text>
<text transform="translate(46.6 488.05) rotate(-45)" text-anchor="end" font-size="9.3" fill="#4D4D4D" dy="0.35em">0.5</text>
<text transform="translate(46.6 502.95) rotate(-45)" text-anchor="end" font-size="9.3" fill="#4D4D4D" dy="0.35em">0.0</text>
<rect x="47.3" y="508.7" width="136.6" height="82.1" fill="#EBEBEB"/>
<line x1="47.3" x2="183.9" y1="515.95" y2="515.95" stroke="#fff" stroke-width="0.3" opacity="0.65"/>
<line x1="47.3" x2="183.9" y1="536.45" y2="536.45" stroke="#fff" stroke-width="0.3" opacity="0.65"/>
<line x1="47.3" x2="183.9" y1="557.05" y2="557.05" stroke="#fff" stroke-width="0.3" opacity="0.65"/>
<line x1="47.3" x2="183.9" y1="577.55" y2="577.55" stroke="#fff" stroke-width="0.3" opacity="0.65"/>
<line x1="61.15" x2="61.15" y1="508.7" y2="590.8" stroke="#fff" stroke-width="0.3" opacity="0.65"/>
<line x1="96.05" x2="96.05" y1="508.7" y2="590.8" stroke="#fff" stroke-width="0.3" opacity="0.65"/>
<line x1="130.95" x2="130.95" y1="508.7" y2="590.8" stroke="#fff" stroke-width="0.3" opacity="0.65"/>
<line x1="165.85" x2="165.85" y1="508.7" y2="590.8" stroke="#fff" stroke-width="0.3" opacity="0.65"/>
<line x1="47.3" x2="183.9" y1="526.2" y2="526.2" stroke="#fff" stroke-width="0.55" opacity="0.9"/>
<line x1="47.3" x2="183.9" y1="546.7" y2="546.7" stroke="#fff" stroke-width="0.55" opacity="0.9"/>
<line x1="47.3" x2="183.9" y1="567.3" y2="567.3" stroke="#fff" stroke-width="0.55" opacity="0.9"/>
<line x1="47.3" x2="183.9" y1="587.8" y2="587.8" stroke="#fff" stroke-width="0.55" opacity="0.9"/>
<line x1="78.6" x2="78.6" y1="508.7" y2="590.8" stroke="#fff" stroke-width="0.55" opacity="0.9"/>
<line x1="113.5" x2="113.5" y1="508.7" y2="590.8" stroke="#fff" stroke-width="0.55" opacity="0.9"/>
<line x1="148.4" x2="148.4" y1="508.7" y2="590.8" stroke="#fff" stroke-width="0.55" opacity="0.9"/>
<rect x="183.9" y="508.7" width="14.1" height="82.1" fill="#D9D9D9"/>
<text transform="translate(190.95 549.75) rotate(90)" text-anchor="middle" font-size="12.3" fill="#1A1A1A" dy="0.36em">RC43N</text>
<text transform="translate(46.6 525.15) rotate(-45)" text-anchor="end" font-size="9.3" fill="#4D4D4D" dy="0.35em">1.5</text>
<text transform="translate(46.6 545.65) rotate(-45)" text-anchor="end" font-size="9.3" fill="#4D4D4D" dy="0.35em">1.0</text>
<text transform="translate(46.6 566.25) rotate(-45)" text-anchor="end" font-size="9.3" fill="#4D4D4D" dy="0.35em">0.5</text>
<text transform="translate(46.6 586.75) rotate(-45)" text-anchor="end" font-size="9.3" fill="#4D4D4D" dy="0.35em">0.0</text>
<rect x="47.3" y="592.8" width="136.6" height="82" fill="#EBEBEB"/>
<line x1="47.3" x2="183.9" y1="600.45" y2="600.45" stroke="#fff" stroke-width="0.3" opacity="0.65"/>
<line x1="47.3" x2="183.9" y1="616.35" y2="616.35" stroke="#fff" stroke-width="0.3" opacity="0.65"/>
<line x1="47.3" x2="183.9" y1="632.15" y2="632.15" stroke="#fff" stroke-width="0.3" opacity="0.65"/>
<line x1="47.3" x2="183.9" y1="647.95" y2="647.95" stroke="#fff" stroke-width="0.3" opacity="0.65"/>
<line x1="47.3" x2="183.9" y1="663.75" y2="663.75" stroke="#fff" stroke-width="0.3" opacity="0.65"/>
<line x1="61.15" x2="61.15" y1="592.8" y2="674.8" stroke="#fff" stroke-width="0.3" opacity="0.65"/>
<line x1="96.05" x2="96.05" y1="592.8" y2="674.8" stroke="#fff" stroke-width="0.3" opacity="0.65"/>
<line x1="130.95" x2="130.95" y1="592.8" y2="674.8" stroke="#fff" stroke-width="0.3" opacity="0.65"/>
<line x1="165.85" x2="165.85" y1="592.8" y2="674.8" stroke="#fff" stroke-width="0.3" opacity="0.65"/>
<line x1="47.3" x2="183.9" y1="608.4" y2="608.4" stroke="#fff" stroke-width="0.55" opacity="0.9"/>
<line x1="47.3" x2="183.9" y1="624.3" y2="624.3" stroke="#fff" stroke-width="0.55" opacity="0.9"/>
<line x1="47.3" x2="183.9" y1="640.1" y2="640.1" stroke="#fff" stroke-width="0.55" opacity="0.9"/>
<line x1="47.3" x2="183.9" y1="655.9" y2="655.9" stroke="#fff" stroke-width="0.55" opacity="0.9"/>
<line x1="47.3" x2="183.9" y1="671.7" y2="671.7" stroke="#fff" stroke-width="0.55" opacity="0.9"/>
<line x1="78.6" x2="78.6" y1="592.8" y2="674.8" stroke="#fff" stroke-width="0.55" opacity="0.9"/>
<line x1="113.5" x2="113.5" y1="592.8" y2="674.8" stroke="#fff" stroke-width="0.55" opacity="0.9"/>
<line x1="148.4" x2="148.4" y1="592.8" y2="674.8" stroke="#fff" stroke-width="0.55" opacity="0.9"/>
<rect x="183.9" y="592.8" width="14.1" height="82" fill="#D9D9D9"/>
<text transform="translate(190.95 633.8) rotate(90)" text-anchor="middle" font-size="12.3" fill="#1A1A1A" dy="0.36em">RC43T</text>
<text transform="translate(46.6 607.35) rotate(-45)" text-anchor="end" font-size="9.3" fill="#4D4D4D" dy="0.35em">2.0</text>
<text transform="translate(46.6 623.25) rotate(-45)" text-anchor="end" font-size="9.3" fill="#4D4D4D" dy="0.35em">1.5</text>
<text transform="translate(46.6 639.05) rotate(-45)" text-anchor="end" font-size="9.3" fill="#4D4D4D" dy="0.35em">1.0</text>
<text transform="translate(46.6 654.85) rotate(-45)" text-anchor="end" font-size="9.3" fill="#4D4D4D" dy="0.35em">0.5</text>
<text transform="translate(46.6 670.65) rotate(-45)" text-anchor="end" font-size="9.3" fill="#4D4D4D" dy="0.35em">0.0</text>
<text transform="translate(80.3 678.8) rotate(-45)" text-anchor="middle" font-size="9.3" fill="#4D4D4D" dy="0.35em">-3</text>
<text transform="translate(115.6 678.8) rotate(-45)" text-anchor="middle" font-size="9.3" fill="#4D4D4D" dy="0.35em">0</text>
<text transform="translate(152.2 678.8) rotate(-45)" text-anchor="middle" font-size="9.3" fill="#4D4D4D" dy="0.35em">3</text>
<text x="116" y="693" text-anchor="middle" font-size="12.5" font-weight="bold" fill="#000" dy="0.36em">Fold Change</text>
<text transform="translate(23.3 507.5) rotate(-90)" text-anchor="middle" font-size="12.3" font-weight="bold" fill="#000" dy="0.36em">logPV</text>
<path d="M116.88 416.34h0M112.66 418.7h0M110.02 419.85h0M109.58 417.07h0M116.54 419.88h0M114.18 412.07h0M107.96 418.3h0M66.84 349.34h0M103.56 415.34h0M111.08 419.05h0M120.81 417.93h0M122.7 415.98h0M111.99 414.07h0M130.79 398.28h0M118.9 408.68h0M116.44 418.31h0M119.05 410.11h0M112.13 412.71h0M111.13 410.13h0M112.16 417.74h0M101.19 413.74h0M114.1 412.02h0M116.01 418.89h0M115.6 414.49h0M143.79 386.48h0M118.92 394.4h0M119.72 418.16h0M114.21 418.45h0M108.69 416.21h0M112.13 409.6h0M119.22 416.87h0M115.02 411.12h0M116.39 419.69h0M138.89 385.45h0M114.36 413.11h0M117.71 418.38h0M94.94 405.76h0M108.84 413.67h0M111.78 420.12h0M106.84 401.1h0M113.83 417.71h0M99.58 412.44h0M151.19 370.86h0M108.86 407.69h0M112.2 420.18h0M118.1 418.65h0M111.17 416.44h0M112.61 420.53h0M114.31 417.8h0M110.21 406.61h0M106.62 415.12h0M117.37 419.05h0M119.73 418.21h0M109.26 419.83h0M105.63 403.58h0M109.56 417.35h0M114.91 415.13h0M111.46 407.29h0M106.45 415.79h0M108.74 413.1h0M118.33 417.94h0M112.23 419.31h0M120.09 416.55h0M121.95 416.78h0M98.59 407.37h0M122.85 405.06h0M110.24 418.47h0M122.55 416.99h0M114.07 416.54h0M115.94 414.4h0M122.23 410.47h0M114.36 413.75h0M112.1 418.83h0M97.02 410.75h0M133.25 408.05h0M111.37 420.31h0M114.78 406.8h0M105.22 417.73h0M131.59 408.55h0M87.48 396.44h0M115.29 416.89h0M112.22 414.51h0M141.89 387.95h0M108.27 418.53h0M116.96 413.1h0M98.43 411.5h0M114.3 416.68h0M112.01 420.02h0M112.52 418.08h0M115.04 419.98h0M114.61 420.13h0M111.84 419.29h0M117.37 410.51h0M115.66 410.34h0M109.05 411.69h0M114.83 410.64h0M120.61 415.94h0M125.87 414.63h0M109.49 419.91h0M114.78 419.55h0M109.26 415.47h0M102.22 415.95h0M84.99 393.43h0M114.47 417.2h0M114.21 419.02h0M112.28 416.65h0M116.65 415.46h0M103.24 413.1h0M113.87 419.38h0M115.18 415.82h0M114.1 418.91h0M124.02 415.32h0M113.88 419.47h0M119.04 416h0M113.9 418.47h0M108.43 418.76h0M105.5 416.47h0M117.44 419.25h0M114.84 420.13h0M114.56 410.03h0M106.16 413.48h0M112.19 417.99h0M126.43 407.74h0M110.38 414.34h0M113.74 418.12h0M117.61 412.26h0M110.62 419.42h0M112.63 417.12h0M110.89 417.23h0M121.75 416.05h0M112.01 420.44h0M114.99 416.29h0M112.12 417.75h0M121.56 413.42h0M114.62 405.28h0M117.63 418.21h0M119.75 417.63h0M110.73 415.98h0" stroke="#000" stroke-width="1.45" stroke-linecap="round" fill="none" opacity="0.3"/>
<path d="M108.39 417.12h0M114.38 411.54h0M115.46 398.34h0M136.55 394.16h0M107.7 412.05h0M113.95 419.83h0M117.23 414.17h0M105.53 408.69h0M94.45 401.95h0M107.16 411.08h0M114.11 415.14h0M112.55 417.22h0M114.19 417.21h0M109.87 413.15h0M114.89 414.45h0M111.79 413.28h0M109.71 413.22h0M108.85 401.09h0M112.33 411.74h0M122.73 408.09h0M114.2 418.88h0M114.27 412.18h0M103.88 411.38h0M116.49 418.59h0M116.28 420h0M120.95 413.5h0M120.51 415.72h0M112.03 417.62h0M121.11 392.4h0M111.79 409.84h0M109.7 419.41h0M121.92 414.95h0M115.53 418.21h0M109.17 418.45h0M106.5 406.92h0M95.78 400.7h0M109.81 419.09h0M113.71 419.65h0M117.24 417.85h0M111.47 416.4h0M115.45 407.62h0M115.2 407.98h0M111.75 417.27h0M114.54 419.42h0M110.1 406.87h0M117.17 405.22h0M108.38 418.31h0M100.74 413.58h0M141.67 394.4h0M116.43 414h0M123.13 406.35h0M107.21 416.63h0M130.31 404.36h0M126.11 413.2h0M113.98 416.32h0M111.26 415.36h0M110.25 417.73h0M111.42 417.77h0M107.32 416.7h0M100.64 410.31h0M109.05 411.07h0M115.22 415.28h0M109.4 418.69h0M115.59 417.64h0M118.89 417.93h0M115.08 418.76h0M99.7 410.08h0M112.05 420.07h0M111.43 419.87h0M109.15 407.3h0M135 403.76h0M106.01 415.58h0M114.56 415.21h0M119.88 412.36h0M118.72 417.33h0M112.14 415.72h0M131.85 398.58h0M105.45 408.59h0M118.07 418.76h0M112.38 420.51h0M127.41 409.87h0M110.76 410.74h0M115.61 410.69h0M107.01 409.42h0M109.8 418.93h0M116.96 417.76h0M111.5 418.08h0M117.82 418.99h0M122.37 416.28h0M108.19 409.27h0M111.83 416.87h0M113.83 415.23h0M115.32 406.75h0M115.13 416.43h0M91.89 402.39h0M122.73 414.59h0M114.58 418.53h0M107.21 412.19h0M115.21 415.7h0M110.66 409.79h0M121.77 418.08h0M116.29 419.55h0M118.06 415.64h0M114.56 419.98h0M116.26 419.92h0M86.41 389.29h0M113.75 419.32h0M114.51 417.54h0M114.87 420.04h0M120.11 414.51h0M102.6 415.22h0M145.13 383h0M114.92 415.57h0M115.11 416.28h0M115.35 419.74h0M115.89 415.86h0M114.85 419.39h0M105.33 412.16h0M114.64 419.19h0M113.84 418.37h0M106.96 417.59h0M108.22 416.76h0M113.87 419.72h0M117.71 419.32h0M109.6 417.9h0M104.39 417.75h0M112.5 417.69h0M104.83 409.26h0M112.26 420.14h0M111.23 418.03h0M92.75 406.07h0M109.53 417.28h0M127 402.87h0M122.97 410.85h0M116.2 418.25h0M113.9 417.93h0M113.7 419.42h0M114.19 412.65h0" stroke="#000" stroke-width="1.45" stroke-linecap="round" fill="none" opacity="0.3"/>
<path d="M114.98 405.74h0M114.85 419.43h0M102.94 414.95h0M111.12 418.29h0M105.53 409.56h0M106.29 416.78h0M104.74 413.97h0M113.67 420.35h0M129.53 392.02h0M109.6 418.45h0M112.78 420.05h0M103.41 411.41h0M107.88 416.88h0M114.81 415.33h0M94.47 404.45h0M100.32 415.48h0M116.69 408.23h0M117.01 416.05h0M111.69 402.12h0M110.39 407.99h0M114.48 407.48h0M119.28 408.69h0M110.92 408.25h0M121.07 416.46h0M111.7 410.07h0M124.86 413.82h0M110.46 418.25h0M119.99 417.54h0M106.02 417.49h0M116.04 415.23h0M141 396.63h0M105.42 417.75h0M125.04 412.1h0M112.28 420.27h0M101.48 410.7h0M108.99 412.94h0M110.95 409.34h0M120.17 415.79h0M124.01 409.28h0M106.34 411.41h0M108.55 403.5h0M120.49 417.95h0M111.59 419.62h0M127.5 414.21h0M105 414.11h0M117.24 413.34h0M111.67 413.84h0M111.04 407.19h0M103.02 415.52h0M108.72 418.51h0M114.91 420.07h0M118.7 416.89h0M114.16 420.22h0M111.06 417.32h0M115.87 412.15h0M121.13 410.78h0M116.93 413.21h0M114.26 418.96h0M127.42 403.29h0M114.78 420.17h0M113.86 416.53h0M117.65 409.22h0M117.17 418.09h0M133.59 407.33h0M110.26 414.18h0M115.12 416.79h0M112.51 418.91h0M112.39 419.25h0M116.09 417.3h0M112.21 417.11h0M91.39 398.02h0M74.1 370.27h0M98.62 407.73h0M111.39 414.01h0M114.53 410.63h0M126.6 406.14h0M128.45 413.44h0M103.06 414.64h0M119.36 417.1h0M108.99 417.01h0M110.71 410.59h0M114.6 413.63h0M111.29 414.45h0M105.76 410.31h0M115.28 415.2h0M96.21 409.92h0M108 419.09h0M114.2 414.03h0M101.3 416.19h0M110 402.07h0M111.32 408.8h0M114.33 417.4h0M112.44 412.9h0M115.57 419.69h0M106.93 410.12h0M120.27 405.02h0M115.3 418.88h0M107.43 416.86h0M107.59 418.8h0M118.06 418.05h0M117.09 419.53h0M117.4 418.71h0M108.21 415.44h0M106.65 414.09h0M114.9 419.25h0M105.24 410.87h0M109.7 419.57h0M96.32 411.64h0M125.25 413.72h0M120.52 416.92h0M113.98 413.32h0M114.59 414.72h0M112.62 417.36h0M103.84 413.31h0M105.99 414.97h0M108.12 418.32h0M72.07 354.96h0M112.2 419.89h0M114.8 414.34h0M114.97 417.77h0M116.53 417.81h0M114.22 414.12h0M111.56 420.27h0M120.98 416.35h0M110.29 416.21h0M115.7 419.82h0M110.99 401.55h0M114.15 420.52h0M125.81 408.49h0M116.06 412h0M119.12 418.32h0M104.79 416.72h0M114.75 417.61h0M110.16 416.17h0M111.01 417.86h0M102.17 407.58h0M101.59 404.75h0M114.75 419.3h0" stroke="#000" stroke-width="1.45" stroke-linecap="round" fill="none" opacity="0.3"/>
<path d="M108.9 415.77h0M136.93 396.8h0M109.84 416.46h0M106.95 415.93h0M115.74 419.45h0M113.94 419.66h0M116.13 401.39h0M116.09 413.11h0M114.65 409.03h0M117.68 414.07h0M111.11 417.84h0M114.07 418.62h0M105.99 413.73h0M110.87 408.35h0M99.46 410.91h0M117.74 415.79h0M107.53 414.47h0M126.93 412.69h0M113.83 419.82h0M103.91 412.99h0M117.43 417.33h0M111.51 418.27h0M85.21 393.24h0M115.07 417h0M110.35 413.81h0M114.94 419.96h0M138.45 396.21h0M110.62 419.72h0M117.08 416.87h0M111.94 406.41h0M118.3 417.49h0M111.87 417.65h0M110.71 411.9h0M115.55 416.26h0M109.37 415.09h0M115.46 418.81h0M114.8 414.35h0M117.05 417.39h0M109.85 399.75h0M120.16 418.42h0M118.65 414.66h0M115.18 414.82h0M115.32 416.46h0M120.43 411.27h0M110.8 410.28h0M109.93 420.01h0M106.64 415.26h0M87.63 398.19h0M118.56 416.65h0M116.04 418.38h0M114.08 416.52h0M102.42 408.61h0M116.5 406.3h0M117.18 414.09h0M112.55 419.84h0M111.48 416.79h0M123.77 414.46h0M112.46 416.14h0M112.07 418.78h0M110.75 419.51h0M116.53 412.45h0M100.71 409.28h0M109.77 413.47h0M110.34 414.44h0M114.88 419.75h0M108.67 411h0M102.29 415.36h0M125.16 414.09h0M120.23 407.66h0M105.47 415.91h0M113.73 419.17h0M111.64 417.67h0M116.28 419.81h0M123.14 415.76h0M104.17 416.98h0M120.02 408.39h0M111.98 415.72h0M121.1 418.67h0M107.28 408.72h0M109.2 417.29h0M120.98 416.01h0M110.47 420.17h0M111.55 419.08h0M114.84 419.41h0M115.2 409.06h0M111.68 418.15h0M117.2 419.38h0M106.22 418.47h0M118.57 414.68h0M112.29 419.91h0M111.16 411.92h0M120.57 414.62h0M118.76 418.75h0M112.57 420.35h0M115.88 405.93h0M108.89 417.1h0M116.63 416.93h0M110.31 405.92h0M113.8 419.62h0M98.6 404.91h0M115.58 418.73h0M106.21 414.89h0M110.39 416.92h0M136.48 393.2h0M111.46 420.16h0M115.69 419.32h0M108.74 410.88h0M109.57 418.49h0M114.55 419.71h0M107.33 417.27h0M109.02 419.71h0M105.87 417.98h0M116.88 408.95h0M116.56 416.44h0M115.27 412.4h0M121.25 417.34h0M129.15 397.73h0M119.75 415.97h0M102.07 412.4h0M119.38 404.06h0M111.92 417.63h0M111.49 419.66h0M109.62 415.15h0M114.99 420.28h0M110.37 411.11h0M104.26 416.85h0M120.55 416.78h0M111.12 419.12h0M109.21 413.74h0M111.01 413.16h0M118.91 416.83h0M117.82 414.9h0M116.03 419.84h0M116.59 412.37h0M117.3 408.15h0M106.09 416.19h0M115.72 415.21h0M112.54 417.59h0" stroke="#000" stroke-width="1.45" stroke-linecap="round" fill="none" opacity="0.3"/>
<path d="M119.77 415.29h0M106.46 412.76h0M114.87 418.55h0M115.07 420.1h0M117.04 417.8h0M109.33 414.76h0M109.43 419.53h0M114.62 419.3h0M116.6 416.78h0M115 417.28h0M117.99 416.96h0M114.16 410.65h0M114.89 419.49h0M110.12 410.59h0M116.64 411.9h0M117.5 418.64h0M113.99 419.96h0M109.12 417.97h0M114.09 419.74h0M105.5 412.65h0M115.34 413.26h0M118.94 414.47h0M114.48 415.81h0M106.26 409.53h0M120.99 415.81h0M122.67 413.75h0M124.54 408.48h0M112.16 418.07h0M128.29 408.78h0M110.78 417.4h0M107.6 417.82h0M118.04 418.56h0M110.58 419.02h0M99.63 411.2h0M110.03 418.43h0M119.25 417.93h0M114.85 419.19h0M106.34 417.86h0M108.49 413.89h0M118.72 418.74h0M117.85 414.56h0M107.5 418.78h0M110.47 419.37h0M114.98 416.18h0M122.02 416.69h0M117.17 412.04h0M111.41 417.88h0M107.9 418.67h0M114.66 401.64h0M97.61 412.03h0M118.82 418.82h0M114.62 410.83h0M110.52 416.45h0M119.02 418.22h0M115.97 418.37h0M117.5 408.38h0M110.64 419.87h0M110.69 418.4h0M111.11 406.88h0M108.99 416.73h0M113.89 418.43h0M113.8 419.49h0M114.03 415.57h0M114.9 418.37h0M109.82 413.95h0M106.13 405.13h0M109.48 416.49h0M112.67 420.5h0M106.94 418.1h0M107.84 406.29h0M110.89 417.62h0M106.22 411.19h0M115.17 405.11h0M130.33 406.8h0M111.12 408.28h0M121.07 403.66h0M120.89 414.51h0M114.66 417h0M112.73 420.33h0M123.51 411h0M107.62 418.44h0M115.64 412.37h0M119.14 415.94h0M111.66 409.99h0M118.14 416.4h0M119.44 416.95h0M117.09 416.95h0M117.25 412.61h0M114.14 416.04h0M107.16 413.84h0M120.67 413.64h0M112.16 416.77h0M125.15 406.06h0M108.09 408.91h0M114.04 414.58h0M107.72 413.76h0M112.43 418.43h0M114.23 419.59h0M108.94 418.54h0M110.05 401.99h0M110.56 416.08h0M110.88 418.29h0M105.7 408.36h0M116.78 410.35h0M114.34 420h0M107.65 418.35h0M111.4 413.46h0M106.41 412.84h0M109.14 418.54h0M113.77 417.08h0M121.71 415.85h0M111.38 416.29h0M122.17 416.3h0M120.83 415.37h0M113.66 419.67h0M108.9 418.39h0M112.14 419.35h0M114.62 419.18h0M113.73 418.51h0M119.29 418.92h0M109.99 413.61h0M103.52 408.12h0M114.14 418.31h0M109.74 415.17h0M117.89 418.26h0M113.89 418.95h0M110.37 409.61h0M142.26 394.15h0M124.16 415.13h0M108.69 415.74h0M119.32 418.06h0M120.76 411.84h0M114.95 410.14h0M110.93 415.59h0M114.29 405.82h0M116.28 413.24h0M117.85 419.48h0" stroke="#000" stroke-width="1.45" stroke-linecap="round" fill="none" opacity="0.3"/>
<path d="M114.72 413.97h0M115.41 419.12h0M123.17 415.63h0M118.97 418.82h0M117.12 414.88h0M117.05 413.81h0M114.97 403.64h0M110.93 420.13h0M115.38 418.28h0M112.43 418.39h0M114.18 408.77h0M110.79 417.85h0M107.48 411.8h0M118.04 414.98h0M127.76 406.75h0M111.7 413.07h0M108.45 418.98h0M108.53 415.12h0M110.91 419.78h0M115.39 416.2h0M116.35 416.96h0M110.2 415.14h0M112.25 418.36h0M114.8 414.68h0M117.24 414.61h0M124.53 416.07h0M117.42 417.19h0M123.98 414.32h0M117.17 416.09h0M110.02 417.89h0M115.06 413.91h0M99.56 408.86h0M96.57 405.47h0M116.05 408.66h0M112.23 419.77h0M115.42 404.09h0M118.32 417.6h0M111.3 417.49h0M108.32 419.22h0M114.74 419.77h0M115.4 417.2h0M110.38 413.81h0M117.16 418.1h0M121.37 397.63h0M104.26 414.43h0M114.85 417.12h0M108.06 417.06h0M122.6 405.6h0M135.59 389.86h0M108.71 410.96h0M102.69 411.3h0M111.62 418.95h0M109.43 418.66h0M104.21 415.43h0M129.37 407.61h0M116.21 418.42h0M117.93 416.01h0M115.14 417.95h0M117.55 410.26h0M102.65 408.77h0M117.8 419.41h0M111.35 418.88h0M116.44 417.57h0M113.73 418.83h0M113.91 417.65h0M94.42 406.79h0M107.56 418.9h0M110.93 419.16h0M111.05 418.98h0M118.29 418.44h0M117.91 418.65h0M108.52 418.46h0M126.97 411.77h0M122.62 415.71h0M109.9 419.38h0M111.04 418.39h0M114.17 419.69h0M98.94 407.65h0M114.32 417.14h0M115.82 417.42h0M117.74 415.77h0M102.68 415.5h0M114.89 416.36h0M111.21 405.59h0M114.34 418.99h0M106.56 416.72h0M111.6 420.44h0M111.11 419.43h0M118.99 418.17h0M117.85 418.93h0M111.91 415.61h0M111.09 417.46h0M121.33 414.45h0M117.47 418.33h0M109.08 417.46h0M115.28 419.78h0M119.97 413.04h0M108.73 419.27h0M111.61 419.92h0M114.46 419.25h0M117.05 417.7h0M104.95 414.04h0M121.13 417.51h0M114.59 415.38h0M111.27 411.28h0M106.02 415.72h0M114.47 414.97h0M107.72 416.47h0M106.32 412.19h0M115.06 414.95h0M120.28 417.74h0M108.98 418.82h0M106.54 417.08h0M112.53 420.42h0M100.36 411.57h0M117.47 419.62h0M112.45 420.47h0M117.7 417.39h0M104.52 416.01h0M114.55 418.1h0M109.14 418.65h0M117.78 412.24h0M106.13 414.87h0M108.64 408.65h0M119.51 417.54h0M104.21 414.33h0M118.88 418.86h0M112.65 418.03h0M114.22 420.29h0M120.48 417.2h0M108.85 418.1h0M112.33 420.14h0M111.59 420.06h0M112.74 420.39h0M112.48 416.88h0M111.94 417.01h0M112.46 420.04h0" stroke="#000" stroke-width="1.45" stroke-linecap="round" fill="none" opacity="0.3"/>
<path d="M114.5 414.45h0M127.26 412.48h0M112.14 420.25h0M115 414.73h0M118.34 418.13h0M121.01 415.49h0M111.94 414.72h0M111.49 412.14h0M133 402.93h0M112.22 420.36h0M116 408.38h0M114.1 418.79h0M107.8 412.94h0M108.34 417.53h0M115.17 419.02h0M111.5 416.65h0M107 415.87h0M108.59 412.68h0M110.8 419.3h0M114.77 414.61h0M120.83 417.3h0M123 391.88h0M112.79 419.59h0M114.28 420.12h0M110.46 414.11h0M120.31 412.66h0M111.51 408.52h0M107.18 412.58h0M114.99 418.44h0M110.86 417.56h0M110.16 416.46h0M106.54 417.14h0M110.04 409.65h0M107.08 418.83h0M114.06 419.19h0M115.72 400.55h0M124.73 405.48h0M111.3 403.25h0M102.08 409.38h0M114.25 420.14h0M115.08 420.04h0M120.08 409.91h0M114.54 414.81h0M117.16 412.79h0M87.69 384.32h0M98.31 409.84h0M116.17 419.52h0M115.9 415.95h0M113.84 420.31h0M78.58 373.59h0M122.01 415.15h0M114.22 419.6h0M108.38 418.13h0M124.39 414.63h0M110.61 409.3h0M120.11 418.19h0M108.51 418.63h0M120.18 417.53h0M103.06 413.29h0M93.96 407.38h0M121.53 414.94h0M112.42 420h0M114.05 419.91h0M111.83 416.66h0M124.14 411.03h0M112.06 410.86h0M110.23 415.1h0M107.21 413.82h0M108.07 416.26h0M114.4 419.08h0M120.96 413.24h0M116.3 417.26h0M104.75 416.72h0M111.03 400.1h0M110.16 405.91h0M114.58 411.29h0M115.34 414.73h0M106.77 417.5h0M116.2 413.55h0M111.65 420.11h0M126.21 413.93h0M108.42 404.19h0M113.76 419.37h0M117.74 418.32h0M119.87 416.02h0M121.08 417.78h0M111.95 419.76h0M116.78 416.93h0M100.45 403.56h0M114.99 414.19h0M110.59 410.81h0M115.92 417.33h0M107.53 416.65h0M111.95 420.47h0M120.9 417.39h0M110.27 418.35h0M101.56 407.31h0M111.38 419.11h0M111.76 413.36h0M117.31 419.24h0M114.52 409.08h0M144.86 386.19h0M107.32 417h0M114.09 415.02h0M108.97 416.72h0M109.71 415h0M102.89 413.58h0M115.75 407.82h0M110.63 417.78h0M113.97 419.28h0M109.93 416.76h0M99.87 415.07h0M111.7 409.64h0M112.18 420.43h0M83.08 390.09h0M84.43 392.24h0M106.43 409.5h0M104.43 407.01h0M115.6 419.61h0M82.45 388.37h0M108.17 418.45h0M114.1 414.26h0M113.99 419.84h0M121.17 415.35h0M115.04 410.22h0M115.58 415.26h0M114.28 419.27h0M110.29 417.14h0M102.41 406.06h0M105.22 416.02h0M113.8 416.89h0M106.61 416.31h0M116.09 418.81h0M117.01 412.21h0M127.07 406.3h0M114.73 416.13h0M117.3 419.65h0" stroke="#000" stroke-width="1.45" stroke-linecap="round" fill="none" opacity="0.3"/>
<path d="M108.17 417.34h0M108.87 417.6h0M116.04 413.5h0M114.06 420.28h0M105.56 417.17h0M108.76 413.25h0M119.55 415.7h0M115.11 411.78h0M116.78 414.32h0M117.15 407.65h0M110.36 417.05h0M111.85 419.33h0M101.82 413.18h0M115.77 415.59h0M125.65 412.91h0M106.17 414.37h0M120.06 418.22h0M116.49 409.86h0M108.56 416.51h0M108.28 418.98h0M114.11 420.49h0M111.46 413.42h0M111 414.79h0M116.9 419.22h0M114.33 418.97h0M111.76 413.46h0M108.39 416h0M132.27 404.13h0M114.77 416.51h0M111.48 405.4h0M110.77 418.19h0M110.61 415.12h0M120.38 416.09h0M121.79 410.24h0M114.75 418.28h0M112.24 419.73h0M115.71 418.92h0M121.31 409.77h0M118.41 396.02h0M105.95 417.98h0M100.25 406.85h0M107.54 417.63h0M116.67 419.05h0M115.93 414.9h0M120.99 412.16h0M109.44 419.42h0M114.18 417.12h0M113.58 420.44h0M111.91 412.19h0M105.31 416.06h0M109.7 419.15h0M111.29 418.47h0M110.74 418.2h0M121.92 414.93h0M114.03 416.37h0M104.59 416.06h0M107.56 413.14h0M109.51 417.65h0M112.29 420.07h0M111.78 418.33h0M114.03 412.75h0M114.25 415.86h0M154.56 362.67h0M125.33 414.06h0M96.51 409.17h0M111.65 407.69h0M115.47 405.95h0M123.17 412.28h0M108.69 416.2h0M119.28 418.35h0M105.65 413.61h0M114.19 410.77h0M104.17 415.92h0M110.43 413.83h0M112.25 414.09h0M109.79 415.67h0M111 407.08h0M112.57 418.37h0M106.31 412.09h0M112.09 420.02h0M115.43 409.69h0M100.91 411.71h0M122.35 412.02h0M111.09 418.78h0M111.53 405.69h0M117.63 412.75h0M109.1 417.65h0M114.44 419.89h0M112.07 415.6h0M112.53 417.09h0M133.05 386.59h0M108.56 419.47h0M111.7 412.42h0M101.13 413.84h0M108.92 417.32h0M117.5 418.39h0M124 405.76h0M127.25 394.29h0M108.15 405.77h0M112.78 419.44h0M116.97 417.96h0M111.46 410.99h0M122.31 408.89h0M113.92 417.03h0M114.45 418.54h0M126.81 410.4h0M118.56 417.23h0M116.51 420.01h0M111.23 414.68h0M114.2 417.91h0M122.82 413.96h0M125.01 415.99h0M122.45 408.69h0M114.88 409.49h0M102.41 412.97h0M114.91 415.98h0M112.15 415.14h0M111.85 415.19h0M117.59 417.48h0M114.77 402.5h0M119.52 416.57h0M116.25 411.01h0M119.32 418.43h0M118.44 416.28h0M118.74 418.72h0M109.29 417.75h0M111.91 406.21h0M112.66 419.44h0M113.85 417.6h0M98.75 410.9h0M117.49 419.3h0M120.77 409.44h0M112.11 418.32h0M118.09 412.77h0M119.72 416.36h0M112.42 413.15h0M128.84 408.27h0" stroke="#000" stroke-width="1.45" stroke-linecap="round" fill="none" opacity="0.3"/>
<circle cx="63.5" cy="385.2" r="0.87" fill="#000" fill-opacity="0.4"/>
<circle cx="70" cy="381.8" r="0.87" fill="#000" fill-opacity="0.4"/>
<circle cx="70" cy="392.5" r="1.11" fill="#000" fill-opacity="0.4"/>
<circle cx="70" cy="394.2" r="1.11" fill="#000" fill-opacity="0.4"/>
<circle cx="81" cy="400.5" r="1.11" fill="#000" fill-opacity="0.4"/>
<circle cx="81" cy="402.5" r="1.11" fill="#000" fill-opacity="0.4"/>
<circle cx="81" cy="404.5" r="0.99" fill="#000" fill-opacity="0.4"/>
<circle cx="79.6" cy="378.2" r="0.87" fill="#000" fill-opacity="0.4"/>
<circle cx="87.3" cy="378.2" r="0.87" fill="#000" fill-opacity="0.4"/>
<circle cx="90.4" cy="383" r="0.87" fill="#000" fill-opacity="0.4"/>
<circle cx="98" cy="383" r="0.87" fill="#000" fill-opacity="0.4"/>
<circle cx="103.8" cy="388" r="0.87" fill="#000" fill-opacity="0.4"/>
<circle cx="92" cy="390.5" r="0.87" fill="#000" fill-opacity="0.4"/>
<circle cx="97.3" cy="393" r="0.87" fill="#000" fill-opacity="0.4"/>
<circle cx="109" cy="395" r="0.87" fill="#000" fill-opacity="0.4"/>
<circle cx="120.7" cy="374.5" r="0.73" fill="#000" fill-opacity="0.4"/>
<circle cx="124.5" cy="380.5" r="0.73" fill="#000" fill-opacity="0.4"/>
<circle cx="132" cy="378" r="0.73" fill="#000" fill-opacity="0.4"/>
<circle cx="137.5" cy="390" r="0.73" fill="#000" fill-opacity="0.4"/>
<circle cx="133.5" cy="393.5" r="0.73" fill="#000" fill-opacity="0.4"/>
<circle cx="155" cy="384.5" r="0.87" fill="#000" fill-opacity="0.4"/>
<circle cx="161" cy="383" r="0.87" fill="#000" fill-opacity="0.4"/>
<circle cx="165.5" cy="381.5" r="0.87" fill="#000" fill-opacity="0.4"/>
<circle cx="162.5" cy="387" r="0.87" fill="#000" fill-opacity="0.4"/>
<circle cx="155.5" cy="390.5" r="0.99" fill="#000" fill-opacity="0.4"/>
<circle cx="156" cy="393" r="1.11" fill="#000" fill-opacity="0.4"/>
<circle cx="154.5" cy="394.5" r="1.11" fill="#000" fill-opacity="0.4"/>
<circle cx="153.5" cy="397.5" r="0.87" fill="#000" fill-opacity="0.4"/>
<circle cx="144" cy="397" r="0.87" fill="#000" fill-opacity="0.4"/>
<circle cx="144.5" cy="401" r="1.11" fill="#000" fill-opacity="0.4"/>
<circle cx="144.5" cy="403" r="1.11" fill="#000" fill-opacity="0.4"/>
<circle cx="144" cy="405" r="0.99" fill="#000" fill-opacity="0.4"/>
<circle cx="126" cy="398.5" r="0.73" fill="#000" fill-opacity="0.4"/>
<circle cx="128" cy="401" r="0.73" fill="#000" fill-opacity="0.4"/>
<circle cx="135" cy="402" r="0.73" fill="#000" fill-opacity="0.4"/>
<circle cx="138" cy="403" r="0.73" fill="#000" fill-opacity="0.4"/>
<circle cx="55" cy="351.4" r="1.79" fill="#66C2A5"/>
<circle cx="58.8" cy="354.6" r="1.79" fill="#66C2A5"/>
<circle cx="91.2" cy="350.8" r="1.68" fill="#66C2A5"/>
<circle cx="124.4" cy="345.5" r="2.02" fill="#66C2A5"/>
<circle cx="83.5" cy="364.5" r="1.01" fill="#66C2A5"/>
<circle cx="98.8" cy="365.2" r="1.12" fill="#66C2A5"/>
<circle cx="55.3" cy="367.2" r="0.78" fill="#66C2A5"/>
<circle cx="66.5" cy="369.2" r="0.56" fill="#66C2A5"/>
<circle cx="170.4" cy="344.4" r="2.13" fill="#66C2A5"/>
<circle cx="166.6" cy="354.8" r="1.57" fill="#66C2A5"/>
<circle cx="161.7" cy="365.3" r="0.9" fill="#66C2A5"/>
<circle cx="177.8" cy="365.3" r="1.12" fill="#EE2B37"/>
<circle cx="169.2" cy="369.5" r="0.67" fill="#EE2B37"/>
<line x1="55" y1="351.4" x2="62.5" y2="349.5" stroke="#9a9a9a" stroke-width="0.35"/>
<line x1="91.2" y1="350.8" x2="81" y2="371" stroke="#9a9a9a" stroke-width="0.35"/>
<line x1="124.4" y1="345.5" x2="118" y2="352.8" stroke="#9a9a9a" stroke-width="0.35"/>
<line x1="166.6" y1="354.8" x2="157.4" y2="370.9" stroke="#9a9a9a" stroke-width="0.35"/>
<line x1="170.4" y1="344.4" x2="168" y2="347.5" stroke="#9a9a9a" stroke-width="0.35"/>
<rect x="62.7" y="346.6" width="15.8" height="6.6" fill="#fff" fill-opacity="0.7"/>
<text x="70.6" y="349.9" text-anchor="middle" font-size="7.4" fill="#48B090" stroke="#48B090" stroke-width="0.18" dy="0.36em">U107</text>
<rect x="60.4" y="370.4" width="39.2" height="6.7" fill="#fff" fill-opacity="0.7"/>
<text x="80" y="373.75" text-anchor="middle" font-size="7.4" fill="#48B090" stroke="#48B090" stroke-width="0.18" dy="0.36em">hsa-mir-137</text>
<rect x="91.9" y="352.4" width="40.1" height="6.2" fill="#fff" fill-opacity="0.7"/>
<text x="111.95" y="355.5" text-anchor="middle" font-size="7.4" fill="#48B090" stroke="#48B090" stroke-width="0.18" dy="0.36em">hsa-mir-139</text>
<rect x="130.2" y="346.4" width="39.3" height="6.6" fill="#fff" fill-opacity="0.7"/>
<text x="149.85" y="349.7" text-anchor="middle" font-size="7.4" fill="#48B090" stroke="#48B090" stroke-width="0.18" dy="0.36em">hsa-mir-561</text>
<rect x="133.7" y="370.6" width="43.3" height="6.7" fill="#fff" fill-opacity="0.7"/>
<text x="155.35" y="373.95" text-anchor="middle" font-size="7.4" fill="#48B090" stroke="#48B090" stroke-width="0.18" dy="0.36em">hsa-mir-2682</text>
<path d="M117.73 474.54h0M109.46 501.4h0M109.76 502.91h0M116.97 483.67h0M106.98 498.2h0M117.72 502.01h0M116.27 503.89h0M121.11 500.22h0M116.14 492.74h0M115.26 498.23h0M132.64 489.58h0M116.44 485.63h0M108.75 499.34h0M110.47 493.7h0M109.58 494.27h0M111.21 501h0M120.83 495.46h0M116.78 498.94h0M110.3 497.14h0M107.12 501.09h0M114.98 500.31h0M110.06 494.4h0M118.58 502.43h0M110.73 499.81h0M112.53 502.41h0M111.38 494.5h0M107.03 492.53h0M130.61 493.73h0M111.72 495.79h0M113.77 504.14h0M117.8 492.62h0M114.98 501.6h0M116 493.85h0M114.56 498.01h0M114.49 502.95h0M108.1 491.4h0M118.54 485.82h0M111.65 504.27h0M111.85 501.44h0M110.64 501.56h0M107.71 500.45h0M115.81 499.96h0M107.81 501.72h0M105.08 500.76h0M110.64 500.36h0M108.3 479.07h0M118.67 501.61h0M111.04 500.78h0M93.09 491.15h0M109.8 488.05h0M108.01 501.6h0M116.49 493.02h0M111.44 501.66h0M98.63 488.03h0M108.41 502.33h0M118.75 499.66h0M111.68 499.27h0M118.96 491.65h0M103.4 495.45h0M106.76 502.03h0M110.37 491.23h0M110.16 503.67h0M111.72 502.23h0M115.64 491.12h0M118.81 501.53h0M123.23 495.75h0M112.07 501.57h0M109.7 503.33h0M115.71 502.47h0M116.28 494.98h0M110.67 496.42h0M107.09 500.59h0M119.13 497.14h0M108.91 502.07h0M111.11 502.6h0M114.67 497.42h0M106.37 499.66h0M116.9 486.5h0M116.72 491.24h0M110.51 490.29h0M109.67 488.6h0M119.04 496.86h0M109.06 500.76h0M106.12 498.8h0M107.26 502.46h0M109.41 503.55h0M110.2 500.85h0M118.56 491.91h0M108.58 499.3h0M120.25 496.92h0M108.22 497.88h0M109.46 499.71h0M110 501.39h0M117.44 493.33h0M110.2 492.04h0M111.43 494.81h0M115.53 497.75h0M117.69 503.22h0M120.6 501.22h0M115.65 494.71h0M115.79 493.64h0M108.61 497.76h0M117.11 482.54h0M107.93 499.67h0M109.32 488.55h0M112.31 501.08h0M110.79 493.38h0M106.63 499.45h0M114.21 500.49h0M111.16 498.52h0M109.3 503.08h0M119.87 500h0M111.05 502.7h0M115.47 500.66h0M112 497.87h0M117.59 503.01h0M110.27 501.3h0M110.05 503.06h0M108.94 490.57h0M108.75 500.24h0M135.2 486.53h0M111.26 500h0M110.94 500.22h0M98.63 497.46h0M117.31 501.71h0M117.92 503.24h0M110.58 503.85h0M110.57 497.16h0M115.73 499.83h0M130.27 488.33h0M107.29 494.98h0M116.17 497.15h0" stroke="#000" stroke-width="1.45" stroke-linecap="round" fill="none" opacity="0.3"/>
<path d="M115.92 493.02h0M116.19 503.6h0M115.88 488.58h0M111.28 501.3h0M116.17 499.59h0M125.85 496.15h0M100.52 491.6h0M111.66 498.83h0M110.15 485.07h0M115.08 502.42h0M113.83 503.48h0M118.77 499.61h0M114.29 503.74h0M121.48 500.79h0M115.81 494.35h0M100.05 498.01h0M92.83 479.74h0M115.05 495.64h0M110.55 490.5h0M107.75 491.53h0M121.71 499.45h0M111.11 497.18h0M107.07 501.72h0M116.81 496.76h0M118.38 500.41h0M109.32 500.31h0M117.45 502.74h0M99.91 494.18h0M114.54 498.45h0M111.02 499.02h0M115.7 500.7h0M110.89 500.05h0M114.48 502.99h0M110.46 497.13h0M108.99 498.01h0M115.8 501.59h0M116.84 489.67h0M107.22 496.7h0M115.11 492.85h0M116.44 485.54h0M116.2 502.26h0M114.47 497.76h0M114.3 501.6h0M115.3 496.56h0M110.75 503.73h0M106.1 496.86h0M109.89 497.6h0M119.99 499.11h0M117.65 497.3h0M107.01 501.54h0M116.64 502.74h0M115.66 498.26h0M110.68 495.43h0M109.01 498.47h0M116.63 489.63h0M115.96 488.53h0M115.92 497.93h0M115.85 491.51h0M110.3 493.82h0M101.35 494.95h0M110.56 493.09h0M114.94 502.48h0M115.54 501.27h0M111.93 504.05h0M111.45 503.65h0M114.18 502.1h0M119.17 496.39h0M108.49 481.99h0M111.86 498.54h0M106.61 501.62h0M106.03 491.1h0M116.95 481.51h0M101.16 497.05h0M115.32 495.7h0M116.66 485.68h0M111.4 498.74h0M115.66 495.42h0M115.57 496.89h0M112.18 499.34h0M114.42 497.79h0M117.07 502.01h0M109.49 503.23h0M115.48 501.66h0M117.55 498.48h0M109.52 494.9h0M111.31 503.87h0M109.92 503.48h0M111.24 496.92h0M110.44 496.99h0M115.3 492.81h0M118.36 502.33h0M118.55 502.97h0M68.75 442.04h0M104.36 494.93h0M112.04 504.2h0M115.02 496.41h0M115.83 496.99h0M115.63 496.86h0M119.59 498.49h0M117.87 503.25h0M119.23 502.25h0M100.16 489.99h0M116.54 485.73h0M115.82 489.82h0M111.45 499.73h0M109.8 503.43h0M112.05 503h0M105.83 498.75h0M107.2 502.48h0M112.35 502.75h0M115.43 495.67h0M111.09 497.69h0M94.91 493.97h0M117.03 503.28h0M113.8 502.66h0M111.87 500.87h0M111.03 495.37h0M115.6 498.23h0M111.34 500.41h0M116.26 502.23h0M112.27 502.64h0M115.15 503.91h0M111.82 500.95h0M120.19 499.39h0M117.28 503.07h0M114.43 500.46h0M110.97 498.25h0M107.07 502.71h0M111.19 496.37h0M104.23 498.85h0M114.96 501.62h0" stroke="#000" stroke-width="1.45" stroke-linecap="round" fill="none" opacity="0.3"/>
<path d="M112.11 501.65h0M115.02 499.45h0M116.76 487.47h0M116.19 495.53h0M117.37 486.45h0M115.24 491.42h0M112.09 502.3h0M117 489.4h0M115.3 500.67h0M104.25 498.6h0M116.36 495.79h0M106.08 499.34h0M112.25 500.52h0M109.54 486.58h0M110.31 502.64h0M109.95 503.27h0M110.54 492.4h0M111.01 499.5h0M111.07 502.58h0M107.74 502.49h0M107.76 500.93h0M109.25 479.75h0M110.13 489.35h0M110.05 499.02h0M111.48 503.64h0M116.1 501.36h0M119.13 499.92h0M117.56 496.85h0M110.7 498.02h0M104.36 500.5h0M111.46 494.45h0M110.63 501.57h0M110.44 496.86h0M109.69 485.79h0M115.82 499.38h0M112.15 504.23h0M115.39 499.85h0M110.92 499.91h0M115.96 497.5h0M110.33 496.99h0M117.62 495.34h0M115.12 500.53h0M120.93 496.18h0M120.85 493.67h0M118.33 500.71h0M110.83 503.59h0M116.41 499.75h0M110.89 503.45h0M109.16 495.83h0M130.86 487.91h0M115.74 501.83h0M112.76 504h0M111.22 497.47h0M122.63 500.56h0M87.2 480.17h0M122.75 491.96h0M110.88 497.29h0M109.28 500.49h0M111 498.53h0M117.26 494.33h0M114.24 503.02h0M114.58 500.76h0M115.13 498.71h0M111.34 500.67h0M115.12 500.47h0M112.4 501.25h0M116.03 493.18h0M118.03 500.84h0M111.94 498.77h0M112.24 501.21h0M120.37 501.89h0M109.12 503.01h0M116.21 490.31h0M111.96 502.76h0M114.93 501.32h0M106.93 498.13h0M109.28 488.5h0M109.57 502.74h0M111.37 500.12h0M115.05 502.67h0M116.81 501.86h0M126.34 491.98h0M111.31 503.29h0M119.62 500.16h0M109.26 500.66h0M116.37 487.79h0M117.21 497.95h0M110.7 503.9h0M112.42 503.63h0M85.5 474.06h0M116.28 503.6h0M98.03 491.26h0M125.64 487.46h0M108.08 496.55h0M130.86 487.8h0M81.01 468.89h0M121.1 495.72h0M117.77 500.77h0M105.55 499.3h0M117.95 493.23h0M115.85 491.66h0M106.02 493.87h0M103.35 498.76h0M94.21 492.83h0M101.98 497.86h0M114.52 497.69h0M116.58 501.75h0M117.68 497.11h0M119.21 501.43h0M114.2 503.14h0M106.15 501.03h0M108.64 499.06h0M116.36 491.06h0M117.28 482.99h0M120.01 500.29h0M110.95 496.9h0M112.67 503.9h0M110.06 498.86h0M114.44 500.57h0M114.53 504.11h0M107.98 502.15h0M111.63 502.62h0M121.26 493.38h0M104.6 493.76h0M114.63 498.91h0M109.95 492.31h0M128.22 494.49h0M118.62 499.53h0M122.71 498.63h0M114.98 501.92h0M111.18 503.14h0" stroke="#000" stroke-width="1.45" stroke-linecap="round" fill="none" opacity="0.3"/>
<path d="M116.22 492.26h0M110.42 501.44h0M110.37 493.26h0M112.26 501.34h0M119.32 501.06h0M109.17 478.45h0M118.96 501.11h0M114.56 499.34h0M111.56 498.21h0M105.4 501.16h0M114.47 502.51h0M110.47 490.87h0M117.26 497.68h0M120.5 500.18h0M111.96 503.92h0M140.41 473.9h0M114.12 501.71h0M114.44 497.97h0M123.69 492.03h0M115.23 498.9h0M114.9 495.11h0M111.35 495.98h0M122.87 495.06h0M130.09 491.55h0M102.33 497.77h0M112.12 501.23h0M112.03 501.36h0M114.7 499.62h0M115.08 495.83h0M112 502.61h0M110.5 497.17h0M117.41 501.05h0M137.88 481.76h0M114.66 496.43h0M110.6 494.4h0M105.36 501.25h0M110.68 488.96h0M114.96 497.71h0M115.64 495.2h0M108.19 498.46h0M118.56 499.17h0M109.55 502.26h0M118.6 498.74h0M114.24 502.57h0M115.59 500.87h0M104.43 496.88h0M124.58 490.22h0M111.96 502.96h0M115.59 498.1h0M110.84 502.4h0M123.74 492.95h0M109.55 484.03h0M111.54 496.06h0M111.62 500.96h0M112.63 503.2h0M117.16 497.9h0M114.92 493.99h0M110.56 503.08h0M111.56 498.01h0M118.09 497.75h0M109.72 495.21h0M109.04 502.47h0M117.16 497.19h0M115.11 493.06h0M105.63 481.33h0M117.67 501.96h0M109.49 502.89h0M114.33 500.46h0M115.48 500.98h0M113.59 504.09h0M115.97 487.54h0M110.93 503.17h0M112.59 503.3h0M117.71 499.5h0M102.36 493.29h0M105.49 498.81h0M114.9 495.34h0M115.17 500.2h0M104.95 498.76h0M120.1 500.9h0M104.69 497.91h0M109.99 494.83h0M109.61 490.22h0M108.37 480.32h0M114.82 501.88h0M120.11 498.97h0M114.66 500.04h0M107.44 496.79h0M111.77 501.56h0M112.11 501.84h0M106.13 488.95h0M111.05 499.13h0M116.35 502.65h0M99.23 491.06h0M117.33 502.66h0M111.18 497.2h0M118.53 500.19h0M118.02 495.67h0M108.03 497.95h0M110.76 495.72h0M110.01 492.69h0M103.57 494.78h0M108.17 497.57h0M115.97 503.99h0M107.78 502.89h0M117.31 503h0M114.23 503.7h0M104.28 496.98h0M112.15 500.64h0M115.92 496.91h0M121.26 500.71h0M109.6 501.01h0M115.34 499.26h0M111.92 502.13h0M120.16 498.6h0M115.16 501.04h0M109.41 496.49h0M110.35 494.91h0M108.29 498.99h0M116.64 498.88h0M115.19 502.34h0M119.57 498.62h0M109.62 494.52h0M112.15 502.34h0M116.58 496.93h0M112.35 503.3h0M108.36 492.55h0M109.74 502.98h0M111.89 503.38h0M110.53 501.74h0M109.95 502.91h0" stroke="#000" stroke-width="1.45" stroke-linecap="round" fill="none" opacity="0.3"/>
<path d="M110.65 494.74h0M115.52 498.13h0M110.2 502.43h0M112.15 502.95h0M113.98 504.07h0M108.24 501.12h0M104.01 493.69h0M115.01 498.66h0M116.17 494.57h0M120.17 500.65h0M108.5 499.29h0M108.74 485.07h0M119.08 499.54h0M93.16 486.97h0M114.19 502.49h0M117.31 498.16h0M82.36 461.13h0M111.01 495.23h0M111.2 503.5h0M116.46 485.61h0M114.6 502.76h0M114.18 499.73h0M110.59 503.75h0M111.66 502.09h0M112.57 502.48h0M110.68 499.87h0M114.22 504.25h0M108.32 490.75h0M116.88 503.06h0M111.49 504.05h0M111.12 499.56h0M110.12 496.94h0M109.88 503.71h0M122.92 497.07h0M114.67 501.17h0M109.99 490.63h0M105.41 501.15h0M115.41 503.88h0M110.52 496.57h0M107.28 503.24h0M114.94 501.65h0M115.91 497.65h0M109.82 498.58h0M115.45 499.5h0M109.52 491.07h0M110.31 496.07h0M110.04 503.71h0M109.24 492.8h0M115.42 501.59h0M116.33 502.45h0M119.83 501.22h0M110.23 494.95h0M110.54 486.92h0M116 502.55h0M116.91 495.67h0M111.84 503.58h0M115.4 495.43h0M118.35 501.34h0M112.11 502.1h0M131.15 486.68h0M116.86 501.25h0M111.13 502.35h0M112.1 503h0M111.12 497.9h0M111.3 502.34h0M117.29 486.58h0M105.26 496.07h0M116.65 499.36h0M120.02 499.73h0M105.65 501.71h0M116.03 493.11h0M110.25 489.41h0M116.33 488.5h0M108.29 501.08h0M120.79 496.24h0M110.25 488.44h0M116.18 494.63h0M114.93 494.42h0M127.48 494.06h0M116.43 501.87h0M114.63 503.62h0M109.3 503.81h0M111.98 499.61h0M115.33 497.23h0M109.7 497.92h0M108.73 496.35h0M98.97 489.71h0M109.18 502.22h0M111.05 498.36h0M118.13 501.75h0M110.51 488.49h0M114.93 502.18h0M111.88 501.2h0M115.57 495.41h0M116.43 494.35h0M110.2 503.91h0M110.28 489.88h0M106.65 500.87h0M116.13 492.16h0M112.03 504.21h0M121.37 498.71h0M106.75 497.03h0M110.59 496.28h0M109.52 502.91h0M108.55 488.03h0M117.9 501.9h0M117.15 501.77h0M111.33 502.66h0M111.89 497.41h0M103.46 497.74h0M114.53 501.56h0M110.86 499.04h0M112.47 504.28h0M106.61 497.35h0M114.47 503.43h0M113.71 503.63h0M116.14 493.27h0M109.13 497.31h0M116.79 498.85h0M117.77 482.87h0M109.27 499.33h0M115.23 500.99h0M125.98 496.75h0M116 485.79h0M117.67 495.66h0M110.07 499.22h0M110.61 492.1h0M116.79 502.74h0M112.59 503.78h0M105.69 500.52h0M111.47 495.19h0" stroke="#000" stroke-width="1.45" stroke-linecap="round" fill="none" opacity="0.3"/>
<path d="M110.55 498.24h0M110.44 500.7h0M113.95 504.06h0M115.07 497.64h0M111.33 502.69h0M114.31 504.11h0M114.6 496.39h0M112.18 503.51h0M116.37 496.19h0M119.01 497.32h0M114.98 497.5h0M111.43 501.59h0M113.97 501.47h0M112.24 503.35h0M110.81 499.15h0M123.17 499.48h0M117.36 484.98h0M111.56 495.1h0M114.33 500.16h0M108.2 502.66h0M105.39 501.12h0M115.74 503.98h0M110.52 498.76h0M114.28 499.39h0M88.63 481.05h0M119.21 479.6h0M109.19 503.38h0M109.92 498.66h0M113.87 504.27h0M111.48 494.04h0M114.18 503.17h0M108.92 496.24h0M109.35 500.6h0M111.47 497.17h0M119.37 502.03h0M107.05 501.26h0M116.22 503.78h0M111.83 500.6h0M110.9 499.76h0M114.56 496.64h0M115.98 502.43h0M115.37 499.62h0M105.7 493.52h0M127.57 485.82h0M115.01 498.03h0M114.92 500.06h0M118.05 501.82h0M109.41 487.16h0M111.75 496.27h0M123.83 494.12h0M112.48 502.48h0M115.06 503.15h0M106.44 489.04h0M103.98 497.95h0M110.58 495.88h0M125.62 498.84h0M136.14 487.58h0M121.71 500.14h0M117.91 499.26h0M114.1 502.81h0M110.18 489.96h0M107.98 501.64h0M109.53 496.39h0M114.37 502.27h0M117.81 500.49h0M115.39 494.78h0M108.01 491.63h0M110.45 497.6h0M115.44 498.68h0M110.99 490.37h0M111.36 494.45h0M114.24 501.14h0M114.6 496.8h0M108.58 503.16h0M108.37 502.99h0M107.82 502.73h0M117.51 500.08h0M116.93 501.68h0M131.46 493.06h0M105.44 499.84h0M138.51 483.87h0M112.75 503.7h0M114.65 500.68h0M117.33 499h0M106.78 500.69h0M147.52 465.67h0M121.63 498.7h0M117.53 484.43h0M115.62 501.56h0M109.78 486.08h0M145.29 443.16h0M114.88 496.23h0M105.86 501.16h0M115.53 495.8h0M109.78 492.95h0M114.08 502.9h0M119 502.61h0M115.29 502.28h0M124.51 498.66h0M117.94 481.45h0M122.98 498.72h0M117.77 482.46h0M110.7 492.85h0M111.42 501.52h0M111.4 498.22h0M115.33 493.19h0M111.01 500.12h0M121.37 492.6h0M111.11 502.77h0M112.06 500.53h0M95.3 491.31h0M118.57 493.91h0M114.67 500.58h0M115.1 498.69h0M115.48 500.88h0M111.26 502.69h0M114.23 502.9h0M111.56 500.17h0M112.2 503.31h0M116.66 499.82h0M110.96 503.72h0M105.21 500.66h0M110.88 500.07h0M110.13 501.45h0M109.64 502.38h0M112.34 502.92h0M117.4 486.1h0M117.89 501.87h0M111.07 494.95h0M133.78 491.13h0M126.24 488.11h0" stroke="#000" stroke-width="1.45" stroke-linecap="round" fill="none" opacity="0.3"/>
<path d="M110.03 489.66h0M117.88 503.03h0M110.09 497.77h0M107.55 502.64h0M115.98 498.66h0M112.21 502.82h0M113.88 501.9h0M117.16 503.12h0M117.13 501.5h0M115.38 499.45h0M109.9 490.31h0M120.31 499.5h0M111.04 491.94h0M110.04 485.57h0M107.78 503.03h0M106.35 500.9h0M116.13 488.46h0M111.81 503.67h0M101.28 494.67h0M110.8 502.05h0M108.91 485.19h0M104.3 500.51h0M114.27 501.34h0M128.96 495.99h0M103.06 482.31h0M114.97 497.74h0M110.37 491.27h0M110.44 498.89h0M99.31 494.42h0M122.58 491.04h0M103.89 499.47h0M115.46 499.79h0M116.35 493.54h0M111.71 498.03h0M116.14 501.58h0M117.05 503.28h0M111.41 500.95h0M110.71 499.88h0M109.91 491.01h0M110.68 503.66h0M114.85 502.63h0M110.81 491.85h0M106.09 499.75h0M105.14 499.4h0M107.5 502.89h0M108.02 502.11h0M112.21 504.05h0M106.3 495.22h0M124.43 490.79h0M109.02 502.91h0M110.07 496.95h0M111.12 496.85h0M123.11 491.17h0M109.39 502.44h0M111.7 502.12h0M116.36 490.26h0M114.11 502.11h0M120.03 496.16h0M100.42 495.29h0M108.4 503.08h0M100.26 495.14h0M116.18 502.74h0M114.29 503.06h0M115.83 498.16h0M112.29 502.79h0M111.72 496.73h0M114.4 500.14h0M114.33 502.02h0M114.4 502.98h0M134.53 483.98h0M103.58 494h0M106.38 494.15h0M117.87 498.32h0M123.88 484.07h0M117.6 500.14h0M119.03 495.95h0M121.11 499.66h0M115.67 491.78h0M111.07 493.01h0M124.66 494.57h0M120.45 501.21h0M116.92 487.07h0M114.55 500.92h0M101.51 487.75h0M109.3 479.9h0M111.76 500.34h0M113.62 504.13h0M111.64 500.56h0M103.1 496.91h0M114.77 499.35h0M110.97 500.22h0M110.62 495.88h0M108.94 501.45h0M115.63 501.63h0M111.47 498.48h0M111.86 501.47h0M90.48 478.5h0M114.87 499.73h0M119.64 502.44h0M110.38 495.2h0M119.67 493.43h0M110.74 498.61h0M120.78 501.3h0M116.57 488.29h0M90.26 484.73h0M111.79 500.29h0M101.99 497.84h0M119.11 491.17h0M114.6 501.7h0M121.18 494.1h0M115.52 503.55h0M111.92 498.65h0M111.68 503.39h0M133.06 491.31h0M114.73 502.76h0M114.06 500.72h0M115.99 492.64h0M115.52 495.02h0M116.03 498.83h0M115.57 499.43h0M105.84 501.2h0M109.79 499.07h0M109.93 502.34h0M120.7 497.42h0M109.66 503.4h0M115.53 504.08h0M109.84 497.35h0M111.34 500.55h0M108.09 502.33h0M116.21 496.21h0M112.18 501.82h0" stroke="#000" stroke-width="1.45" stroke-linecap="round" fill="none" opacity="0.3"/>
<path d="M109.96 489.82h0M113.83 503.96h0M111.06 498.53h0M108.64 502.4h0M110.76 495.82h0M106.09 498.72h0M109.36 487.7h0M114.65 500.31h0M110.96 497.32h0M114 503.17h0M111.18 499.99h0M111.98 502.89h0M108.48 482.63h0M115.07 503.4h0M117.15 500.2h0M114.43 500.6h0M116.09 501.77h0M118.56 487.32h0M115.52 497.5h0M102.8 498.34h0M116.44 490.81h0M116.16 498.84h0M115.56 503.81h0M106.82 500.47h0M122.45 494.56h0M94.95 487.19h0M110.24 492.89h0M110.09 503.65h0M107.47 485.27h0M116.33 485.77h0M117.36 483.93h0M110.01 501.89h0M110.08 498.46h0M115.72 494.9h0M121.39 497.85h0M108.84 493.94h0M106.43 500.69h0M110.74 488.32h0M117.38 491.93h0M111.04 490.89h0M109.07 500.95h0M116.64 497.46h0M110.86 490.6h0M117.05 500.11h0M110.33 499.04h0M111.9 499.61h0M119.67 500.67h0M118.67 486.83h0M110.19 489.52h0M117.25 498.74h0M117.41 502.41h0M114.52 498.82h0M114.73 502.83h0M106.67 497.68h0M110.39 502.58h0M111.33 492.74h0M115.86 500.89h0M110.8 499.44h0M110.32 495.92h0M119.47 497.61h0M111.07 498.39h0M114.68 496.05h0M114.18 504.2h0M106.48 502.78h0M122.19 498.65h0M119.29 491.47h0M115.28 496.75h0M115.56 497.47h0M146.92 466.02h0M108.85 501.12h0M111.84 502.99h0M114.64 500.46h0M110.93 500.57h0M114.59 502.73h0M115.14 500.43h0M109.49 490.71h0M116.22 492.7h0M115.02 494.25h0M108.32 494.57h0M106.94 495.34h0M113.99 501.77h0M116.65 489.12h0M138.67 478.86h0M110.46 497.81h0M114.92 503.97h0M109.56 491.58h0M115.6 494.91h0M108.3 492.83h0M115.44 490.47h0M115.42 496.19h0M105.55 496.01h0M107.28 501.58h0M117.15 502.93h0M117.68 501.24h0M114.66 498.13h0M111.88 503.15h0M109.39 502.21h0M110.3 489.78h0M105.73 501.78h0M109 500.26h0M115.37 500.8h0M119.37 499.15h0M108.79 501.26h0M114.28 502.49h0M114.11 503.9h0M86.1 474.65h0M114.59 503.42h0M109.33 479.56h0M116.58 499.32h0M117.67 500.45h0M104.8 497.87h0M116.71 490.19h0M116.74 483.2h0M91.41 487.08h0M115.7 500.96h0M117.09 489.2h0M110.5 499.99h0M110.3 502.32h0M114.29 501.54h0M101.44 483.94h0M118.12 500.34h0M118.19 500.43h0M115.7 497.89h0M120.3 492.51h0M108.79 480.07h0M115.86 497.69h0M122.15 500.92h0M118.95 502.46h0M114.78 497.01h0M109.79 502.54h0M128.97 493.93h0" stroke="#000" stroke-width="1.45" stroke-linecap="round" fill="none" opacity="0.3"/>
<circle cx="58" cy="477.5" r="0.73" fill="#000" fill-opacity="0.4"/>
<circle cx="67" cy="476.5" r="0.73" fill="#000" fill-opacity="0.4"/>
<circle cx="65" cy="483" r="0.73" fill="#000" fill-opacity="0.4"/>
<circle cx="66" cy="486" r="0.73" fill="#000" fill-opacity="0.4"/>
<circle cx="73.5" cy="481" r="0.87" fill="#000" fill-opacity="0.4"/>
<circle cx="73.5" cy="484" r="0.99" fill="#000" fill-opacity="0.4"/>
<circle cx="73.5" cy="489" r="1.23" fill="#000" fill-opacity="0.7"/>
<circle cx="73.5" cy="491" r="1.23" fill="#000" fill-opacity="0.7"/>
<circle cx="83.5" cy="477" r="0.73" fill="#000" fill-opacity="0.4"/>
<circle cx="84" cy="493" r="1.11" fill="#000" fill-opacity="0.4"/>
<circle cx="84" cy="495" r="1.11" fill="#000" fill-opacity="0.4"/>
<circle cx="83" cy="496.5" r="0.99" fill="#000" fill-opacity="0.4"/>
<circle cx="88" cy="488" r="0.73" fill="#000" fill-opacity="0.4"/>
<circle cx="92" cy="490" r="0.73" fill="#000" fill-opacity="0.4"/>
<circle cx="99.5" cy="475.5" r="0.73" fill="#000" fill-opacity="0.4"/>
<circle cx="99" cy="492" r="0.73" fill="#000" fill-opacity="0.4"/>
<circle cx="103.5" cy="486" r="1.02" fill="#000" fill-opacity="0.4"/>
<circle cx="104" cy="488" r="1.02" fill="#000" fill-opacity="0.4"/>
<circle cx="108.5" cy="478.5" r="0.87" fill="#000" fill-opacity="0.4"/>
<circle cx="108.5" cy="482" r="0.87" fill="#000" fill-opacity="0.4"/>
<circle cx="108.5" cy="485" r="0.87" fill="#000" fill-opacity="0.4"/>
<circle cx="107" cy="489" r="0.87" fill="#000" fill-opacity="0.4"/>
<circle cx="121" cy="475" r="0.73" fill="#000" fill-opacity="0.4"/>
<circle cx="127" cy="477" r="0.73" fill="#000" fill-opacity="0.4"/>
<circle cx="123.5" cy="483" r="0.73" fill="#000" fill-opacity="0.4"/>
<circle cx="130" cy="479" r="0.73" fill="#000" fill-opacity="0.4"/>
<circle cx="133.5" cy="482" r="0.73" fill="#000" fill-opacity="0.4"/>
<circle cx="137.5" cy="483.5" r="0.73" fill="#000" fill-opacity="0.4"/>
<circle cx="132" cy="488" r="0.73" fill="#000" fill-opacity="0.4"/>
<circle cx="140" cy="489" r="0.73" fill="#000" fill-opacity="0.4"/>
<circle cx="146" cy="487" r="1.02" fill="#000" fill-opacity="0.4"/>
<circle cx="146.5" cy="490.5" r="1.11" fill="#000" fill-opacity="0.4"/>
<circle cx="146.5" cy="492.5" r="1.11" fill="#000" fill-opacity="0.4"/>
<circle cx="158.3" cy="485" r="1.11" fill="#000" fill-opacity="0.4"/>
<circle cx="135.5" cy="492" r="0.73" fill="#000" fill-opacity="0.4"/>
<circle cx="128" cy="493.5" r="0.73" fill="#000" fill-opacity="0.4"/>
<circle cx="102.9" cy="428.1" r="2.8" fill="#FC8D62"/>
<circle cx="94.2" cy="438.8" r="2.46" fill="#FC8D62"/>
<circle cx="89.4" cy="455" r="1.9" fill="#FC8D62"/>
<circle cx="106.3" cy="453.7" r="2.02" fill="#FC8D62"/>
<circle cx="106.7" cy="459.4" r="1.68" fill="#FC8D62"/>
<circle cx="106.7" cy="462.3" r="1.12" fill="#FC8D62"/>
<circle cx="58.7" cy="461" r="2.02" fill="#FC8D62"/>
<circle cx="61.5" cy="471.5" r="0.78" fill="#FC8D62"/>
<circle cx="102.9" cy="471.9" r="0.67" fill="#FC8D62"/>
<circle cx="169.2" cy="442.7" r="2.46" fill="#FC8D62"/>
<line x1="102.9" y1="428.1" x2="108.7" y2="432.5" stroke="#9a9a9a" stroke-width="0.35"/>
<line x1="94.2" y1="438.8" x2="88" y2="443" stroke="#9a9a9a" stroke-width="0.35"/>
<line x1="89.4" y1="455" x2="82.7" y2="461.5" stroke="#9a9a9a" stroke-width="0.35"/>
<line x1="106.3" y1="453.7" x2="120.2" y2="467.1" stroke="#9a9a9a" stroke-width="0.35"/>
<line x1="169.2" y1="442.7" x2="161" y2="449.2" stroke="#9a9a9a" stroke-width="0.35"/>
<rect x="108.7" y="430.6" width="24.4" height="6.8" fill="#fff" fill-opacity="0.7"/>
<text x="120.9" y="434" text-anchor="middle" font-size="7.4" fill="#F4794B" stroke="#F4794B" stroke-width="0.18" dy="0.36em">HBII-99</text>
<rect x="54.2" y="442.4" width="39.6" height="6.7" fill="#fff" fill-opacity="0.7"/>
<text x="74" y="445.75" text-anchor="middle" font-size="7.4" fill="#F4794B" stroke="#F4794B" stroke-width="0.18" dy="0.36em">hsa-mir-452</text>
<rect x="54.2" y="461.6" width="50" height="6.8" fill="#fff" fill-opacity="0.7"/>
<text x="79.2" y="465" text-anchor="middle" font-size="7.4" fill="#F4794B" stroke="#F4794B" stroke-width="0.18" dy="0.36em">hsa-mir-199a-2</text>
<rect x="105.8" y="467.3" width="39.4" height="6.7" fill="#fff" fill-opacity="0.7"/>
<text x="125.5" y="470.65" text-anchor="middle" font-size="7.4" fill="#F4794B" stroke="#F4794B" stroke-width="0.18" dy="0.36em">hsa-mir-20a</text>
<rect x="133.7" y="449.2" width="43.6" height="6.8" fill="#fff" fill-opacity="0.7"/>
<text x="155.5" y="452.6" text-anchor="middle" font-size="7.4" fill="#F4794B" stroke="#F4794B" stroke-width="0.18" dy="0.36em">hsa-mir-2355</text>
<path d="M149.25 547.83h0M120.25 581.2h0M110.83 573.96h0M107.23 579.92h0M110.93 587.93h0M114.5 587.28h0M111.68 583.41h0M112.44 587.33h0M114.05 585.12h0M89.35 561.38h0M111.91 587.01h0M116.11 581.92h0M107.88 578.95h0M110.8 585.95h0M118.39 574.04h0M115.02 580.77h0M111.36 581.89h0M111.36 585.04h0M110.95 578.89h0M112.3 581.74h0M114.24 585.89h0M117.02 586.46h0M123.62 579.01h0M107.63 585.39h0M121.07 585.08h0M123.4 576.24h0M105.14 583.79h0M106.18 577.96h0M108.8 583.91h0M104.41 581.43h0M105.84 581.26h0M111.47 586.44h0M110.72 585.77h0M112 584.75h0M124.23 582.68h0M111.11 586.68h0M111.62 582.88h0M136.97 566.54h0M108.58 582.54h0M111.65 584.84h0M112.13 580.02h0M114.06 581.95h0M114.97 570.49h0M97.53 575.9h0M110.79 583.84h0M115.32 586.61h0M121.36 584.44h0M111.07 578.49h0M108.1 576.68h0M92.28 567.37h0M112.05 587.42h0M115.4 585.89h0M110.39 585.8h0M110.34 587.38h0M111.88 585.02h0M106.63 578.43h0M111.98 586.21h0M115.31 586.08h0M111.48 583.87h0M112.01 581.89h0M114.51 582.36h0M115.15 575.53h0M99.15 578.19h0M123.16 581.32h0M114.42 587.66h0M114.97 574.52h0M113.72 587.65h0M112.08 581.87h0M111.1 584.13h0M109.72 578.13h0M110.16 587.39h0M111.96 586.73h0M109.95 585.56h0M118.78 585.54h0M112.07 586.52h0M111.86 581.52h0M118.48 585.22h0M115.06 584.83h0M98.2 578.34h0M105.28 584.46h0M115.86 586.94h0M112.47 585.72h0M117.44 581.04h0M112.35 582.56h0M114.05 585.18h0M110.95 583.95h0M121.83 582.56h0M112.33 586.22h0M115.42 576.45h0M115.56 579.53h0M116.98 585.26h0M118.52 586.71h0M117.6 581.83h0M111.9 586.37h0M108.1 583.51h0M115.53 575.87h0M100.98 583.3h0M117.51 579.31h0M111.07 581.14h0M111.47 575.61h0M111.19 574.67h0M112.33 583.24h0M115.46 586.81h0M116.08 583.01h0M111.67 578.3h0M114.82 582.75h0M108.27 582.68h0M113.76 587.58h0M114.19 585.3h0M118.45 581.64h0M106.91 585.51h0M110.36 580.59h0M116.05 582.12h0M111.75 587.13h0M115.69 584.21h0M107.38 586.27h0M115.39 578.61h0M120.08 585.04h0M120.35 582.09h0M112.59 587.69h0M118.76 585.31h0M147.36 547.52h0M115.08 585.91h0M108.6 586.48h0M112.59 585.07h0M110.1 580.86h0M112.13 585.9h0M112.18 586.23h0M115.06 586.13h0M116.07 587.24h0M118.66 582.22h0M114.88 586.15h0" stroke="#000" stroke-width="1.45" stroke-linecap="round" fill="none" opacity="0.3"/>
<path d="M109.51 585.14h0M113.82 587.24h0M114.05 585.76h0M109.26 585.14h0M129.4 573.9h0M119.05 582.43h0M111.99 587.24h0M122.13 580.14h0M83.22 560.38h0M99.6 579.56h0M114.85 587.79h0M108.51 581.9h0M108.72 586.75h0M115.64 587.32h0M118.49 583.4h0M109.91 584.8h0M109.53 583.63h0M108.72 581.44h0M97.38 578.04h0M114.92 583.93h0M111.63 588.05h0M111.01 586.88h0M114.13 586.88h0M102.17 581.42h0M111.94 586.73h0M114.8 581.2h0M115.71 586.3h0M115.18 572.18h0M111.02 586.88h0M112.29 582.2h0M110.17 585.87h0M108.49 580.89h0M107.02 579.35h0M108.03 579.8h0M110.16 580.72h0M111 585.93h0M109.95 584.57h0M112.72 587.83h0M120.95 580.95h0M115.65 577.16h0M115.08 586.2h0M110.99 576.73h0M116.6 575.21h0M74.68 535.19h0M110.75 585.97h0M124.23 584.42h0M115.06 577h0M115.71 587.11h0M111.46 586.93h0M116.98 582.93h0M114.81 579.51h0M111.87 586.38h0M107.45 586.01h0M132.69 566.63h0M115.05 587.04h0M116.22 575.16h0M101.12 581.72h0M119.86 582.14h0M121.5 577.57h0M113.94 584.86h0M108.73 586.59h0M105.94 580.45h0M110.3 576.69h0M117.65 582.61h0M109.66 586.94h0M110.49 586.96h0M104.35 582.99h0M116.01 578.68h0M110.55 585.01h0M114.86 587.58h0M129.21 575.42h0M116.32 587.05h0M115.35 584.4h0M111.28 580.02h0M111.15 575.45h0M116.01 573.47h0M119.91 585.29h0M111.5 577.23h0M107.77 585.38h0M109.85 582.95h0M125.63 578.98h0M107.9 577.06h0M119.99 581.92h0M111.12 578.17h0M110.86 586.93h0M115.43 584.08h0M111.81 577.88h0M110.76 581.36h0M110.15 583.62h0M109.55 586.51h0M110.39 581.69h0M140.37 565.31h0M111.55 576.64h0M120.48 580.79h0M114.94 581.25h0M114.07 582.2h0M108.79 582.41h0M126.4 581.35h0M116.36 585.7h0M103.47 583.05h0M109.15 584.57h0M112.14 587.14h0M114.41 578.54h0M112.11 582.1h0M118.48 574.8h0M108.84 585.51h0M121.23 573.39h0M119.27 585.98h0M113.63 587.85h0M111.04 578.04h0M111.06 586.11h0M108.98 582.75h0M119.55 585.68h0M105.49 580.53h0M110.99 582.47h0M109.97 584.78h0M106.5 576.38h0M110.61 582.77h0M111.56 579.23h0M103.51 583.65h0M109.24 583.56h0M112.36 587.01h0M116.78 587.25h0M111.89 585.42h0M111.94 586.2h0M111.94 583.53h0M114.03 586.83h0M109.21 586.99h0M111.9 588.02h0M117.14 586.32h0M116.53 585.91h0M115.2 582.77h0" stroke="#000" stroke-width="1.45" stroke-linecap="round" fill="none" opacity="0.3"/>
<path d="M112.45 586.68h0M108.88 586.69h0M110.16 570.68h0M116.98 586.36h0M108.86 586.71h0M110.4 584.38h0M115.96 586.15h0M115.81 582.63h0M117.87 582.14h0M114.98 585.39h0M106.33 585.49h0M109.47 586.06h0M110.61 583.3h0M112.79 587.86h0M116.9 573.42h0M118.55 580.61h0M119.02 586.5h0M116.3 583.18h0M116.69 570.14h0M114.33 587h0M87.77 560.19h0M107.4 581.84h0M114.71 575.49h0M115.42 584.07h0M118.7 583.88h0M116.57 585.99h0M114.27 584.91h0M114.27 579.47h0M115.08 584.66h0M113.76 586.5h0M118.18 584.43h0M119.39 583.5h0M114.94 585.48h0M114.87 574.85h0M114.56 583.83h0M112.23 587.34h0M113.76 586.71h0M106.24 585.51h0M112.07 586.52h0M106.66 577.55h0M114.06 587.81h0M126.31 582.51h0M113.81 585.06h0M114.5 586.81h0M112.07 581.17h0M103.55 581.84h0M122.35 581.28h0M101.79 578.63h0M104.16 582.82h0M115.1 580.64h0M108.6 586.13h0M114.41 584.53h0M114.42 579.71h0M110.78 583.41h0M115.04 586.27h0M115.17 584.25h0M122.31 582.86h0M111.99 586.03h0M112.41 586.8h0M109.01 587.34h0M114.15 586.19h0M88.7 569.41h0M109.73 584.92h0M109.88 587.36h0M115.85 584.37h0M112.68 587.69h0M109.97 582.14h0M116.03 573.38h0M110.73 586.51h0M114.21 580.05h0M110.15 583.25h0M111.45 585.67h0M114.04 585.66h0M115.41 587.53h0M115.7 585.23h0M118.1 582.93h0M111.96 585.72h0M114.77 583.27h0M117.11 586.43h0M114.19 587.31h0M109.72 580.32h0M111.78 585.87h0M111.02 577.11h0M117.93 585.74h0M120.15 585.29h0M117.76 587.07h0M114.26 586.72h0M112.56 584.69h0M110.64 580.21h0M113.8 586.43h0M114.64 587.76h0M114.94 585.95h0M111.45 584.71h0M101.18 582.2h0M118.28 584.53h0M118.19 586.6h0M112.4 586.75h0M107.17 584h0M110.86 576.67h0M110.78 585.51h0M113.91 586.88h0M116.93 584.21h0M114.94 583.32h0M111.25 586.51h0M114.69 587.91h0M114.07 588.14h0M109.78 585.08h0M114.14 583.31h0M110.94 586.94h0M109.11 580.9h0M114.75 587.05h0M118.97 578.01h0M107.51 577.57h0M112.72 587.99h0M121.78 568.52h0M114.94 587.91h0M122.14 580.66h0M109.3 586.75h0M115.36 583.38h0M119.95 585.78h0M115.04 587.52h0M107.44 574.67h0M110.61 585.7h0M120.5 579.18h0M111.09 582.94h0M110.85 587.11h0M107.24 586.32h0M110 578.34h0M111.63 584.93h0M111.16 585.32h0M100.59 578.91h0" stroke="#000" stroke-width="1.45" stroke-linecap="round" fill="none" opacity="0.3"/>
<path d="M110.38 587.27h0M111.82 583.91h0M111.48 579.64h0M111.43 585.43h0M104.52 565.05h0M106.63 585.92h0M114.22 585.22h0M123.39 568.31h0M80.31 552.44h0M108.08 586.1h0M140.95 560.38h0M111.03 584.42h0M112.54 585.35h0M123.27 572.19h0M112.31 583.64h0M111.85 587.79h0M115.22 576.25h0M119.72 584.95h0M106.9 585.93h0M110.75 580.24h0M111.18 584.61h0M118.65 586.12h0M104.5 583.68h0M117.07 584.23h0M113.91 587.44h0M118.7 584.89h0M112.78 587.35h0M106.38 585.83h0M111.73 581.72h0M116.79 585.74h0M118.52 586.43h0M115.42 583.6h0M115.05 583.12h0M111 587.61h0M117.67 579.83h0M120.21 584.93h0M115.57 583.41h0M114 584.67h0M110.97 578.72h0M112.51 587.65h0M121.07 583.23h0M114.67 585.41h0M114.01 584.9h0M108.65 584.74h0M107.37 584.03h0M114.66 585.07h0M107.3 585.59h0M110.39 586.87h0M114.66 580.6h0M112.76 587.38h0M115.96 585.03h0M107.93 584.34h0M108.25 581.45h0M125.76 580.4h0M111.93 585.2h0M104.02 585.6h0M109.51 585.55h0M115.62 581.39h0M110.38 573.7h0M116.25 584.63h0M115.13 582.42h0M121.85 584.6h0M111.16 587.07h0M116.22 582.57h0M115.83 574.11h0M118.25 581.21h0M109.43 578.81h0M118.37 576.11h0M117.18 573.11h0M111.76 584.91h0M112.21 587.72h0M110.2 586.72h0M114.01 586.99h0M117.54 585.7h0M111.24 586.87h0M109.03 585.5h0M119.6 585.08h0M114.27 587.3h0M111.84 581.58h0M116.9 580.97h0M110.25 586.24h0M114.17 584.77h0M116.96 582.11h0M108.92 587.12h0M114.1 587.42h0M98.03 580.19h0M107.84 586.63h0M92.57 574.63h0M110 582.19h0M118.06 583.43h0M97.13 578.45h0M118.81 586.32h0M111.46 573.82h0M115.82 585.76h0M117.4 579.19h0M124.75 577.42h0M117.85 581.65h0M112.15 587.82h0M111.48 584.64h0M108.71 587.5h0M108.97 585.05h0M113.92 586.81h0M110.34 584.81h0M116.37 579.16h0M117.06 584.6h0M115.02 585.87h0M110.84 587.66h0M116.18 584.79h0M108.19 586.91h0M108.29 584.44h0M114.2 587.43h0M115.93 571.81h0M111.4 583.63h0M111.44 587.76h0M111.07 585.12h0M115.7 564.42h0M120.38 583.89h0M119.43 582.91h0M109.77 583.37h0M117.95 580.66h0M108.75 586.78h0M104.41 583.62h0M111.45 579.37h0M114.8 584.53h0M126.15 580.94h0M111.14 585.97h0M111.01 584.54h0M114.8 587.87h0M131.05 578.24h0M110.96 582.28h0" stroke="#000" stroke-width="1.45" stroke-linecap="round" fill="none" opacity="0.3"/>
<path d="M109.62 583.36h0M114.99 574.53h0M109.78 587.44h0M116.09 571.7h0M110.53 584.26h0M114.76 583.08h0M109.38 586.77h0M120.74 583.77h0M116.04 579.73h0M122.96 583.54h0M98.55 577.66h0M115.18 580.51h0M110.55 579.08h0M110.33 585.14h0M114.49 584.57h0M109.4 583.05h0M114.11 586.55h0M107.08 583.98h0M108.57 586.34h0M110.38 574.3h0M115.39 579.27h0M111.76 584.44h0M111.03 581.71h0M112.26 586.13h0M112.47 583.8h0M114.05 583.48h0M93.51 575.89h0M106.52 583.63h0M119.22 585.04h0M115.81 587.5h0M117.38 578.42h0M114.99 586.53h0M116.54 586.7h0M111.79 577.13h0M109.41 586.01h0M116.18 585.64h0M121.34 584.53h0M131.27 577.04h0M111.2 585.99h0M110.45 584.78h0M102.25 558.03h0M115.29 584.98h0M118.49 584.21h0M117.65 582.52h0M115.58 578.87h0M111.34 586.69h0M116.96 587.02h0M118.21 586.78h0M118.66 582.56h0M121.7 584.22h0M115.65 579.57h0M113.79 587.07h0M111.74 585.77h0M118.94 581.61h0M114.2 586.99h0M112.02 578.31h0M118.45 585.6h0M114.16 585.41h0M118.54 572.01h0M116.53 585.85h0M112.46 583.41h0M111.24 578.17h0M125.42 576.75h0M109.02 570.73h0M111.36 586.58h0M122.06 583.86h0M117.58 586.86h0M112.59 585.3h0M114.57 580.15h0M110.86 587.01h0M112.32 587.84h0M119.03 584.11h0M114.81 585.28h0M109.45 571.4h0M116.98 585.45h0M117.93 583.28h0M118.74 586.8h0M107.22 586.01h0M112 584.87h0M115.11 584.91h0M110.2 587.14h0M116.02 580.33h0M116.93 587.26h0M118.67 586.91h0M110.7 577.91h0M106.55 586.31h0M115.43 587.58h0M107.16 584.72h0M125.79 583.1h0M114.28 584.79h0M114.92 587.95h0M110.38 582.5h0M117.1 586.36h0M115.55 579.71h0M118.27 582.88h0M110.86 587.64h0M114.4 587.76h0M116.22 579.79h0M112.41 586.14h0M124.91 580.29h0M122.43 573h0M105.98 586.44h0M112.45 587.18h0M111.42 587.2h0M116.65 584.23h0M115.39 573.45h0M105.77 585.74h0M117.1 583.63h0M115.24 583.22h0M107.5 582.33h0M106.62 574.92h0M114.4 583.89h0M115.43 586.57h0M114.55 585.47h0M115.66 575.92h0M106.62 575.42h0M116.92 587.08h0M114.65 584.44h0M115.04 584.19h0M107.09 577.35h0M123.11 580h0M109.62 571.18h0M115.07 579.36h0M111.87 578.32h0M109.48 585.77h0M121.06 579.61h0M137.56 568.65h0M106.96 585.12h0M114.82 587.86h0M111.26 582.8h0M107.94 586.23h0" stroke="#000" stroke-width="1.45" stroke-linecap="round" fill="none" opacity="0.3"/>
<path d="M109.12 582.97h0M110.57 585.64h0M115.59 573.49h0M106.31 583.63h0M107.07 585.58h0M120.95 585.59h0M117.38 577.23h0M106.14 584.99h0M111.35 582.84h0M110.96 584.31h0M114.6 585.2h0M117.58 584.25h0M110.51 587.25h0M122.16 582.89h0M96.72 575.48h0M115.11 584.71h0M114.06 586.22h0M107.38 583h0M119.38 584.99h0M101.78 579.98h0M118.58 585.75h0M116.66 573.62h0M110.85 587.41h0M109.86 585.46h0M106.51 586.27h0M128.46 557.2h0M107.39 585.26h0M111.41 583.4h0M115.81 573.55h0M118.67 586.62h0M111.48 580.3h0M116.29 585.4h0M110.08 586.07h0M109.41 583.08h0M111.17 580.07h0M109.51 585.72h0M109 587.01h0M112.63 588.12h0M118.44 578.31h0M122.07 576.96h0M110.98 581.42h0M116.5 570.36h0M115.28 585.68h0M114.83 577.6h0M116.53 578.17h0M114.05 582.44h0M115.13 571.26h0M105.95 585.46h0M117.15 585.64h0M111.33 586.85h0M110.77 585.03h0M115.01 587.19h0M111.35 585.74h0M121.17 583.4h0M110.81 576.93h0M113.8 587.29h0M118.84 584.4h0M115.79 585.44h0M115.65 587.5h0M109.73 585.54h0M114.55 586.98h0M114.61 585.59h0M129.95 574.98h0M101.3 574.29h0M112.78 587.75h0M114.74 583.27h0M114.95 579.38h0M110.01 584.37h0M113.75 588.01h0M118.19 581.99h0M111.83 583.99h0M115.51 583.76h0M107.07 585.32h0M111.19 570.26h0M112.34 585.41h0M108.85 577.7h0M109.75 584.69h0M113.82 588.15h0M115.42 585.05h0M119.25 577.74h0M115.71 573.07h0M114.53 586.2h0M114.03 586.66h0M105.85 585.74h0M111 575.21h0M114.12 585.59h0M111.37 579.65h0M118.24 584.68h0M103.65 572.41h0M112.77 587.32h0M112.27 587.75h0M117.96 586.57h0M94.08 570.02h0M120.32 581.09h0M116.86 584.74h0M112.39 583.89h0M112.3 587.17h0M112.31 585.81h0M116.19 587.71h0M121.25 578.79h0M118.16 584.15h0M110.88 581.53h0M114.86 587.89h0M107.45 577.67h0M112.53 588.12h0M115.19 581.78h0M85.84 559.08h0M108.66 585.08h0M114.53 582.88h0M107.04 570.19h0M112.07 587.73h0M114.99 587.58h0M118.11 581.8h0M118.3 585.66h0M117.67 583.74h0M109.52 586.08h0M111.05 581.97h0M117.06 582.42h0M114.88 582.85h0M154.59 530.36h0M117.24 581.04h0M112.11 584.93h0M116.4 578.82h0M99.52 582.33h0M114.2 586.05h0M110.48 576.9h0M108.65 586.48h0M116.06 587.56h0M116.54 587.41h0M111.69 583.33h0M114.63 578.05h0" stroke="#000" stroke-width="1.45" stroke-linecap="round" fill="none" opacity="0.3"/>
<path d="M114.93 583.37h0M114.51 584.29h0M111.5 582.55h0M116.3 583.76h0M119.12 582.13h0M108.98 586.49h0M108.84 582.28h0M96.51 578.56h0M112.64 585.8h0M114.67 586.59h0M112.08 588h0M67.31 523.37h0M114.82 574.36h0M115 580.55h0M94.29 574.89h0M105.54 574.85h0M111.38 582.25h0M108.79 586.9h0M112.58 585.63h0M111.13 578.14h0M106.18 585.93h0M112.01 580.89h0M117.57 586.05h0M114.31 587.36h0M117.68 586.72h0M116.14 587.73h0M114.75 586.8h0M114.88 586.38h0M118.22 583.53h0M109.97 582.35h0M103.87 583.21h0M115.36 585.41h0M114.31 579.77h0M111.42 586.81h0M108.41 579.74h0M117.33 587.46h0M115.41 579.3h0M109.98 587.47h0M103.44 580.86h0M115.58 584.62h0M107.76 579.17h0M111.33 586.48h0M111.61 585.4h0M117.2 585.02h0M122.71 576.62h0M117.33 586.52h0M111.99 584.88h0M110.67 587.37h0M114.72 584.74h0M111.15 582.93h0M110.47 581.31h0M114.31 586.66h0M114.99 583.82h0M114.22 580.17h0M120.02 585.04h0M109.31 585.03h0M111.02 586.01h0M118.38 584.44h0M115.54 579.28h0M108.52 581.34h0M114.55 586.14h0M110.61 582.15h0M115.34 582.08h0M114.51 584.83h0M117.01 586.75h0M116.33 586.97h0M116.31 584.68h0M118.18 579.95h0M111.97 580.96h0M118.92 571.03h0M114.48 585.64h0M107.74 583.24h0M111.22 587.13h0M106 570.61h0M110.95 579.13h0M110.72 586.94h0M102.99 575.49h0M115.3 584.38h0M111.02 582.56h0M110.67 586.72h0M103.33 580.96h0M126.87 577.42h0M108.71 581.51h0M112.37 586.99h0M110.47 587.14h0M110.8 581.85h0M111.39 585.8h0M116.1 586.4h0M123.13 568.81h0M105.45 583.84h0M110.75 587.73h0M125.48 579.47h0M110.55 583.18h0M114.19 581.91h0M111.71 581.3h0M120.11 582.33h0M101.01 574.88h0M113.86 587.52h0M104.3 578.82h0M110.49 561.99h0M101.14 582.82h0M113.87 588.05h0M112.1 583.41h0M117.31 587.29h0M116.41 584.01h0M117.73 584.81h0M109.02 582.49h0M111.76 585.29h0M106.88 585.74h0M115.01 580.73h0M104.18 576.62h0M111.88 582.23h0M120.09 584.49h0M114.86 582.14h0M114.89 582.06h0M115.33 583.1h0M115.03 585.32h0M107.51 567.92h0M118.85 583.93h0M106.71 585.46h0M110.71 580.89h0M118.54 577.85h0M112.5 588.16h0M113.98 587.92h0M111.97 585.9h0M121.03 584.02h0M110.08 577.54h0M114.14 585.52h0M90.21 554.29h0M117.06 584.18h0M117.05 584.81h0" stroke="#000" stroke-width="1.45" stroke-linecap="round" fill="none" opacity="0.3"/>
<path d="M93.41 574.08h0M111.05 582.28h0M111.25 577.08h0M114.27 580.43h0M109.59 585.91h0M109.66 580.41h0M111.3 584.02h0M114.12 587.4h0M112.08 585.56h0M115.3 586h0M115.57 576.28h0M115.12 582.68h0M114.75 585.13h0M115.5 585.67h0M108.69 585.46h0M128.81 577h0M107.13 580.15h0M87.3 560.17h0M106.36 585.65h0M114.07 584.78h0M114.59 582.47h0M111.64 582.05h0M121.87 579.83h0M114.4 582.18h0M114.65 576.62h0M112.12 587.37h0M104.39 576.62h0M115.6 584h0M109.85 574.3h0M106.32 583.39h0M111.98 586.2h0M108.34 585.26h0M87.6 565.76h0M120.75 583.7h0M120.77 581.37h0M110.22 579.52h0M105.94 580.72h0M111.79 580.26h0M114.45 579.73h0M110.97 587.57h0M111.13 579.03h0M104.8 584.27h0M109.72 585.14h0M110.98 586.92h0M109.26 580.5h0M103.12 583.21h0M119.02 585.03h0M134.4 573.14h0M111.28 579.13h0M111.91 586.71h0M114.84 578.87h0M114.18 583.99h0M111.63 580.57h0M114.4 588.1h0M114.69 581.91h0M117.57 587.21h0M112.4 583.95h0M115.59 583.23h0M117.55 586.47h0M116.29 586.95h0M108.07 586.03h0M112.69 587.08h0M104.78 580.22h0M115.18 586.13h0M108.18 584.56h0M114.68 575.26h0M110.26 579.09h0M108.14 580.7h0M110.94 583.28h0M116.69 586.21h0M118.8 583.8h0M111.8 586.05h0M114.98 584.98h0M124.38 580.82h0M115.45 586.55h0M103.66 584.07h0M115.25 585.68h0M109.76 581.19h0M107.11 586.1h0M108.1 582.28h0M90.94 572.87h0M109.83 582.73h0M118.91 583.65h0M112.61 585.94h0M114.86 588.18h0M105.76 577.95h0M115.5 571.74h0M115.85 585.74h0M121.69 583.03h0M111.03 587.31h0M110.32 579.56h0M114.32 582.81h0M112.07 582.27h0M111.72 575.64h0M120.07 584.38h0M112.12 583.09h0M112.29 587.63h0M118.8 582.41h0M108.79 586.92h0M106.17 584.54h0M108.81 584.09h0M111.41 584.36h0M77.68 544.74h0M113.91 585.8h0M106.71 585.34h0M118.32 585.79h0M115.11 586.04h0M118.34 583.89h0M107.1 580.63h0M119.29 578.58h0M106.75 563h0M105.66 585.65h0M111.37 581.52h0M111.15 585.29h0M110.88 587.47h0M109.91 583.34h0M114.1 587.38h0M115.54 587.21h0M120.36 579.23h0M112.18 587.32h0M104.9 584.44h0M115.4 576.1h0M109.78 581.13h0M125.69 571.4h0M122.28 578.09h0M117.5 579.42h0M114.23 585.69h0M119.72 578.85h0M105.27 578.23h0M114.8 585.43h0M89.46 569.12h0" stroke="#000" stroke-width="1.45" stroke-linecap="round" fill="none" opacity="0.3"/>
<circle cx="61" cy="550" r="0.73" fill="#000" fill-opacity="0.4"/>
<circle cx="61.5" cy="552.5" r="0.73" fill="#000" fill-opacity="0.4"/>
<circle cx="68" cy="549" r="0.73" fill="#000" fill-opacity="0.4"/>
<circle cx="68" cy="553" r="0.73" fill="#000" fill-opacity="0.4"/>
<circle cx="68" cy="560.5" r="1.02" fill="#000" fill-opacity="0.4"/>
<circle cx="68" cy="562" r="1.02" fill="#000" fill-opacity="0.4"/>
<circle cx="79" cy="569.5" r="1.23" fill="#000" fill-opacity="0.7"/>
<circle cx="79" cy="571.5" r="1.23" fill="#000" fill-opacity="0.7"/>
<circle cx="79" cy="573" r="1.11" fill="#000" fill-opacity="0.4"/>
<circle cx="83" cy="563.5" r="0.73" fill="#000" fill-opacity="0.4"/>
<circle cx="86.5" cy="566.5" r="0.73" fill="#000" fill-opacity="0.4"/>
<circle cx="88.5" cy="556.5" r="0.73" fill="#000" fill-opacity="0.4"/>
<circle cx="94" cy="556.5" r="0.73" fill="#000" fill-opacity="0.4"/>
<circle cx="92" cy="561.5" r="0.73" fill="#000" fill-opacity="0.4"/>
<circle cx="101.5" cy="564" r="0.73" fill="#000" fill-opacity="0.4"/>
<circle cx="97" cy="566.5" r="0.73" fill="#000" fill-opacity="0.4"/>
<circle cx="106.5" cy="565" r="0.73" fill="#000" fill-opacity="0.4"/>
<circle cx="109" cy="564" r="0.73" fill="#000" fill-opacity="0.4"/>
<circle cx="119" cy="554" r="0.73" fill="#000" fill-opacity="0.4"/>
<circle cx="122.5" cy="557.5" r="0.73" fill="#000" fill-opacity="0.4"/>
<circle cx="126" cy="553.5" r="0.73" fill="#000" fill-opacity="0.4"/>
<circle cx="130.5" cy="547" r="0.73" fill="#000" fill-opacity="0.4"/>
<circle cx="134.5" cy="556" r="0.73" fill="#000" fill-opacity="0.4"/>
<circle cx="141" cy="548.5" r="0.73" fill="#000" fill-opacity="0.4"/>
<circle cx="141.5" cy="556" r="0.73" fill="#000" fill-opacity="0.4"/>
<circle cx="150" cy="546" r="0.73" fill="#000" fill-opacity="0.4"/>
<circle cx="145" cy="561.5" r="0.73" fill="#000" fill-opacity="0.4"/>
<circle cx="160.5" cy="554.5" r="0.73" fill="#000" fill-opacity="0.4"/>
<circle cx="165" cy="556" r="0.73" fill="#000" fill-opacity="0.4"/>
<circle cx="168" cy="553.5" r="0.73" fill="#000" fill-opacity="0.4"/>
<circle cx="160" cy="561" r="0.73" fill="#000" fill-opacity="0.4"/>
<circle cx="160" cy="564" r="0.87" fill="#000" fill-opacity="0.4"/>
<circle cx="164.5" cy="563" r="0.73" fill="#000" fill-opacity="0.4"/>
<circle cx="154" cy="565" r="0.87" fill="#000" fill-opacity="0.4"/>
<circle cx="153.5" cy="569" r="0.99" fill="#000" fill-opacity="0.4"/>
<circle cx="153.5" cy="571" r="0.99" fill="#000" fill-opacity="0.4"/>
<circle cx="149.5" cy="572" r="0.87" fill="#000" fill-opacity="0.4"/>
<circle cx="165.5" cy="576.5" r="0.87" fill="#000" fill-opacity="0.4"/>
<circle cx="143.5" cy="574.5" r="1.23" fill="#000" fill-opacity="0.7"/>
<circle cx="143.5" cy="576.5" r="1.23" fill="#000" fill-opacity="0.7"/>
<circle cx="143.5" cy="578" r="1.11" fill="#000" fill-opacity="0.4"/>
<circle cx="133" cy="570" r="0.73" fill="#000" fill-opacity="0.4"/>
<circle cx="135.5" cy="568" r="0.73" fill="#000" fill-opacity="0.4"/>
<circle cx="128.5" cy="574" r="0.73" fill="#000" fill-opacity="0.4"/>
<circle cx="56.7" cy="513.6" r="2.24" fill="#8DA0CB"/>
<circle cx="79.8" cy="536.3" r="1.34" fill="#8DA0CB"/>
<circle cx="87.1" cy="534.2" r="1.57" fill="#8DA0CB"/>
<circle cx="122.1" cy="527.5" r="1.79" fill="#8DA0CB"/>
<circle cx="125" cy="528" r="1.79" fill="#8DA0CB"/>
<circle cx="123.7" cy="531.3" r="1.68" fill="#8DA0CB"/>
<circle cx="56.3" cy="541.5" r="0.9" fill="#8DA0CB"/>
<circle cx="95.6" cy="543.4" r="0.56" fill="#8DA0CB"/>
<circle cx="122.1" cy="543.4" r="0.56" fill="#8DA0CB"/>
<circle cx="176.5" cy="512.1" r="2.46" fill="#8DA0CB"/>
<line x1="56.7" y1="513.6" x2="67.3" y2="523.4" stroke="#9a9a9a" stroke-width="0.35"/>
<line x1="122.1" y1="527.5" x2="113" y2="519.5" stroke="#9a9a9a" stroke-width="0.35"/>
<line x1="123.7" y1="531.3" x2="108.6" y2="545" stroke="#9a9a9a" stroke-width="0.35"/>
<line x1="125" y1="528" x2="135.6" y2="536" stroke="#9a9a9a" stroke-width="0.35"/>
<line x1="176.5" y1="512.1" x2="174" y2="516" stroke="#9a9a9a" stroke-width="0.35"/>
<rect x="54.2" y="523.7" width="39.6" height="6.7" fill="#fff" fill-opacity="0.7"/>
<text x="74" y="527.05" text-anchor="middle" font-size="7.4" fill="#788DC3" stroke="#788DC3" stroke-width="0.18" dy="0.36em">hsa-mir-937</text>
<rect x="87.5" y="514.4" width="45.5" height="6.8" fill="#fff" fill-opacity="0.7"/>
<text x="110.25" y="517.8" text-anchor="middle" font-size="7.4" fill="#788DC3" stroke="#788DC3" stroke-width="0.18" dy="0.36em">hsa-mir-194-2</text>
<rect x="133.1" y="515.8" width="44.2" height="6.7" fill="#fff" fill-opacity="0.7"/>
<text x="155.2" y="519.15" text-anchor="middle" font-size="7.4" fill="#788DC3" stroke="#788DC3" stroke-width="0.18" dy="0.36em">hsa-mir-4775</text>
<rect x="135.6" y="534.8" width="36.5" height="6.7" fill="#fff" fill-opacity="0.7"/>
<text x="153.85" y="538.15" text-anchor="middle" font-size="7.4" fill="#788DC3" stroke="#788DC3" stroke-width="0.18" dy="0.36em">hsa-mir-96</text>
<rect x="81.3" y="545.2" width="44.7" height="6.8" fill="#fff" fill-opacity="0.7"/>
<text x="103.65" y="548.6" text-anchor="middle" font-size="7.4" fill="#788DC3" stroke="#788DC3" stroke-width="0.18" dy="0.36em">hsa-mir-548o</text>
<path d="M116.17 643.21h0M110.18 653.55h0M116.09 669.05h0M111.54 669.65h0M112.32 671.22h0M104.88 664.33h0M81.51 639.95h0M105.4 666h0M109.44 665.59h0M103.66 662.2h0M108.57 668.61h0M112.23 670.86h0M114.67 662.78h0M126.9 658.29h0M115.4 669.91h0M117.08 656.83h0M112.47 670.95h0M114.75 667.98h0M114.83 665.22h0M107.62 667.27h0M115.57 670.2h0M99.89 655.63h0M104.98 664.72h0M108.07 661.62h0M101.64 657.99h0M123.01 664.26h0M120.56 667.83h0M110.83 663.07h0M111.29 669.78h0M100.57 664.4h0M154.74 617.7h0M111.33 663.48h0M106.59 669.84h0M118.1 670.52h0M111.61 660.35h0M101.05 665.88h0M111.49 664.55h0M106.24 663.53h0M109.63 667.99h0M114.03 666.36h0M107.93 669.43h0M106.25 666.56h0M104.86 667.13h0M111.3 657.41h0M109.31 666.02h0M126.52 639.55h0M116.62 669.88h0M114.75 669.24h0M119.57 661.81h0M114.88 666.96h0M116.85 662.24h0M122.31 658.86h0M111.03 667.87h0M114.58 661.81h0M115.25 657.58h0M109.18 651.55h0M130.66 657.42h0M99.71 651.97h0M123.85 664.24h0M119.28 664.98h0M110.59 669.49h0M112.65 670.6h0M118.34 665.01h0M107.66 670.6h0M110.91 665.15h0M114.53 665.31h0M104.16 668.38h0M108.4 670.74h0M110.63 659.86h0M114.5 669.55h0M117.22 664.64h0M114.18 665.37h0M106.74 668.17h0M111.21 665.82h0M110.99 652.99h0M110.51 655.28h0M133.71 657.72h0M114.27 668.93h0M115.1 660.65h0M110.4 667.53h0M100.54 667.08h0M93.6 653.27h0M114.11 671.38h0M122.77 668.14h0M124.33 660.94h0M110.99 663.72h0M117.69 670.07h0M92.02 653.19h0M106.31 667.06h0M79.31 635.11h0M103.52 665.7h0M112.3 670.6h0M109.06 667.85h0M116.15 659.31h0M110.84 658.95h0M120.96 661.98h0M119.84 669.27h0M97.05 660.24h0M117.23 670.52h0M112.68 672.01h0M114.67 671.23h0M107.16 664.34h0M105.52 669.31h0M106.13 668.17h0M114.18 670.4h0M113.81 669.28h0M110.83 671.6h0M110.24 665.4h0M111.19 665.09h0M117.56 668.53h0M123.1 667.37h0M109.66 670.85h0M117.99 669.94h0M109.22 663.22h0M115.51 671.04h0M108.08 660.77h0M121.25 655.91h0M119.68 668.94h0M109.02 660.44h0M125.61 664.4h0M120.67 667.73h0M117.31 658.53h0M110.38 667.71h0M105.56 667.04h0M110.67 671.07h0M109.49 669.13h0M112.06 667.44h0M111.96 670.55h0M117.8 660.84h0M107.6 656.17h0M100.81 666.01h0M112.4 670.52h0M116.21 671.45h0M121.4 669.07h0M114.95 670.94h0M92.9 656.25h0M114.65 661.8h0M116.03 670.67h0" stroke="#000" stroke-width="1.45" stroke-linecap="round" fill="none" opacity="0.3"/>
<path d="M109.44 671.06h0M107.17 668.72h0M113.78 670.44h0M110.92 660.86h0M112.13 666.35h0M110.7 654.45h0M98.46 660.73h0M112.12 668.75h0M108 652.43h0M111.43 665.19h0M111.56 666.38h0M112.12 665.39h0M119 670.1h0M105.55 668.12h0M115.13 658.2h0M110.76 661.86h0M109.08 664.37h0M104.75 668.87h0M111.58 668.38h0M107.36 667.83h0M110.79 662.08h0M121.28 665.21h0M115.09 669.7h0M103.84 662.77h0M112.21 669.55h0M117.47 670.34h0M114.44 670.54h0M111.09 661.85h0M107.29 669.04h0M120.46 669.41h0M118.19 661.57h0M105.7 667.64h0M115.94 668.52h0M111.29 663.54h0M119.65 667.85h0M119.95 664.67h0M107.04 664.3h0M118.2 664.4h0M116.6 671.11h0M111.06 671.37h0M113.71 671.47h0M115.01 655.56h0M108.08 663.74h0M110.81 658.15h0M112.08 669.16h0M115.3 669.56h0M109.45 658.31h0M123.82 665.97h0M120.89 665.7h0M117.51 669.42h0M115.47 655.75h0M114.26 664.07h0M114.86 669.16h0M105.77 653.95h0M110.23 668.7h0M115 668.42h0M109.76 671.15h0M81.23 638.34h0M127.38 661.23h0M115.34 670.84h0M118.64 666.03h0M107.25 659.51h0M110.7 666.27h0M114.89 669.38h0M111.41 664.44h0M113.78 670.58h0M116.21 670.35h0M114.44 661.52h0M141.19 638.98h0M115.23 663.3h0M109.82 669.82h0M107.65 670.1h0M111.92 663.19h0M123.48 665.69h0M112.31 670.94h0M110.82 659.68h0M114.27 670.56h0M121.83 657.32h0M109.67 652.27h0M117.49 646.44h0M115.59 669.81h0M118.88 669.81h0M110.62 669.35h0M104.53 666.18h0M128.98 661.3h0M110.41 670.35h0M117.9 668.7h0M114.91 664.16h0M117.8 650.8h0M112.32 669.52h0M105.52 664.35h0M111.17 665.77h0M114.39 666.74h0M112.33 669.28h0M111.91 670.34h0M118.34 669.51h0M115.38 669.76h0M111.5 668.05h0M120.05 669.52h0M116.19 666.61h0M111.24 662.75h0M118.71 669.97h0M114.58 667.76h0M108.75 664.96h0M92.53 654.61h0M117.69 667.84h0M161.08 599.56h0M111.38 662.89h0M114.52 665.38h0M119.56 669.87h0M106.66 662.04h0M111.61 657.93h0M95.06 657.95h0M111.92 660.71h0M111.77 663.96h0M117 669.07h0M117.03 645.97h0M116.7 669.73h0M93.83 654.74h0M114.75 658.66h0M109.47 667.23h0M107.75 669.57h0M115.27 656.19h0M123.99 668.13h0M106.48 669.8h0M107.53 669.78h0M104.7 650.88h0M107.38 658.36h0M110.91 667.21h0M100.37 659.62h0M121.71 668.1h0M114.74 670.67h0M114.33 671.68h0M112.55 672.02h0M109.92 665.91h0M115.89 670.51h0M111.88 665.59h0M106.1 657.9h0" stroke="#000" stroke-width="1.45" stroke-linecap="round" fill="none" opacity="0.3"/>
<path d="M119.57 664.56h0M110.53 659.77h0M114.73 669.96h0M112.04 663.79h0M127.73 655.92h0M114.78 665.79h0M117.86 669.32h0M107.71 669.18h0M115.76 670.43h0M103.38 667.06h0M109.6 668.34h0M112.5 671.38h0M114.45 670.71h0M96.4 661.1h0M117.41 653.61h0M114.12 668.21h0M115.71 670.51h0M112.35 666.29h0M116.95 646.92h0M110.61 670.06h0M117.23 668.05h0M110.27 665.4h0M117.94 666.85h0M114.59 671.79h0M114.58 670.28h0M111.16 666.88h0M112.49 668.41h0M115.62 669.84h0M104.7 667.62h0M115.6 671.67h0M113.97 670.04h0M115.12 668.3h0M110.75 669.81h0M112.11 664.7h0M121.94 664.37h0M114.32 671.19h0M107.85 650.36h0M108.63 659.91h0M114.79 666.83h0M118.44 670.41h0M110.46 670.92h0M116.91 670.3h0M114.54 663.86h0M105.64 666.67h0M111.75 659.88h0M102.04 662.53h0M122.02 665.36h0M108.22 670.4h0M111.38 665.9h0M117.55 667.74h0M103.11 667.11h0M124.1 664.81h0M115.75 655.4h0M111.79 670.23h0M118.9 664.25h0M111.37 665.98h0M113.94 671.22h0M112.2 671.59h0M113.98 669.99h0M115.99 662.23h0M111.35 667.69h0M116.26 667.66h0M103.83 666.89h0M115.51 667.76h0M111.63 670.12h0M112.8 671.68h0M115.13 653.89h0M114.31 670.93h0M111.51 655.92h0M112.22 667.49h0M111.31 665.1h0M110.69 647.53h0M128.95 657.22h0M111.25 664.08h0M117.8 661.71h0M119.61 662.81h0M103.35 667.41h0M110.53 660.27h0M118.37 657.76h0M126.03 664.52h0M121.82 658.17h0M111 662.24h0M116.03 670.16h0M116.07 649.67h0M108.42 669.18h0M116.26 662h0M114.68 669.43h0M117.02 659.65h0M104.92 659.82h0M121.54 666.23h0M120.07 669.41h0M115.91 668.64h0M146.74 636.57h0M127.57 658.81h0M110.23 662.34h0M102.99 666.89h0M109.84 666.95h0M118.74 670.55h0M118.86 664.56h0M110.09 668.95h0M118.96 660.73h0M115.31 666.24h0M109.19 670.7h0M110.68 669.93h0M111.3 667.11h0M104.29 664.88h0M115.59 666.35h0M117.8 669.01h0M115.82 652.68h0M109.66 659.03h0M109.17 670.92h0M117.11 668.23h0M110.43 670.18h0M133.64 653.07h0M121.54 666.95h0M128.56 652.94h0M107.05 669.48h0M106.01 668.74h0M115.31 667.8h0M114.87 668.23h0M114.84 669.24h0M121.61 665.27h0M115.47 665.38h0M116.16 670.68h0M110.21 670.54h0M106.14 665.87h0M115.09 662.33h0M117.75 669.92h0M116.45 668.68h0M103.85 644.11h0M110.22 665.58h0M123.08 661.06h0M114.18 669.39h0M111.93 668.74h0M115.53 653.73h0M116.87 669.45h0M115.62 658h0M111.56 660.28h0" stroke="#000" stroke-width="1.45" stroke-linecap="round" fill="none" opacity="0.3"/>
<path d="M122.12 666.06h0M122.21 663.49h0M115.74 668.86h0M116.1 669.5h0M110.78 661.49h0M138.91 649.03h0M115.07 668.83h0M109.26 669.27h0M115.64 656.71h0M111.24 665.28h0M103.69 665.82h0M102.63 666.1h0M103.2 663.92h0M107.35 668.4h0M118.35 670.72h0M119.51 669.03h0M107.33 666.46h0M109.22 668.07h0M118.64 659.36h0M111.61 664.88h0M108.49 668.19h0M110.41 669.85h0M106.16 668.31h0M115.99 669.08h0M110.56 668.8h0M115.85 667.02h0M111.85 660.5h0M110.52 650.85h0M114.93 671.38h0M114.71 665.86h0M96.58 661.62h0M115.28 666.33h0M114.26 666.99h0M111.93 671.1h0M111.6 659.42h0M120.48 668.93h0M115.05 660.28h0M124.42 660.48h0M110.07 667.19h0M112.23 671.6h0M99.9 663.62h0M116.56 667.1h0M112.08 671.12h0M115.73 670.14h0M111.76 667.73h0M110.7 668.44h0M112.67 670.02h0M102.99 663.77h0M107.91 669.6h0M108.83 667.46h0M114.7 670.32h0M100.4 664.61h0M96.38 659.83h0M121.36 660.36h0M125.41 657.25h0M107.48 667.32h0M117.4 666.92h0M108.2 669.55h0M110.67 660.06h0M110.21 666.74h0M111.74 670.44h0M114.12 667.6h0M112.02 667.87h0M114.24 670.7h0M114.12 669.05h0M105.75 669.03h0M118.22 670.72h0M119.67 659.34h0M115.12 669.42h0M115.92 665.89h0M110.07 649.5h0M111.91 662.71h0M114.99 671.54h0M101.3 648.53h0M114.85 668h0M108.23 663.48h0M115.17 657.52h0M117.91 656.73h0M111.51 671.79h0M115.79 664.54h0M109.43 670.67h0M106.28 667.01h0M116.28 663.19h0M121.41 667.12h0M107.69 650.69h0M106.37 669.54h0M114.13 669.2h0M120.37 667.51h0M119.06 662.23h0M114.81 662.41h0M117.04 670.78h0M114.29 671.12h0M112.13 666.18h0M111.5 662.56h0M104.22 658.22h0M117.31 663.34h0M108.23 664.95h0M98.64 652.77h0M109.19 669.89h0M108.22 662.55h0M111.27 664.63h0M105.49 668.29h0M123.51 667.55h0M114.85 660.53h0M115.07 663.23h0M105.4 664.84h0M114.31 663.87h0M119.32 667.99h0M102.54 654.65h0M104.74 664.89h0M105.88 661.94h0M110.65 660.26h0M116.8 668.46h0M120.47 669.45h0M118.25 664.9h0M116.41 670.77h0M127.75 659.68h0M116.57 658.23h0M116.65 666.66h0M116.36 655.62h0M116.59 665.96h0M116.97 667.97h0M115.52 664.6h0M125.88 664.36h0M117.79 671.07h0M111.61 661.57h0M112.41 669.18h0M111.23 664.08h0M112.26 671.49h0M112.01 669.32h0M108.51 665.47h0M105.11 658.49h0M116.31 666.83h0M107.49 668.3h0M115.88 662.13h0M115.87 666.01h0M116.86 670.98h0M110.87 671.44h0" stroke="#000" stroke-width="1.45" stroke-linecap="round" fill="none" opacity="0.3"/>
<path d="M116.66 668.31h0M102.27 667.98h0M117.93 660.54h0M117.17 656.96h0M117.88 667.83h0M123.77 666.47h0M110.72 671.55h0M108.14 668.04h0M111.67 667.54h0M116.08 666.94h0M107.1 668.12h0M115.25 662.81h0M117.95 667.88h0M104.4 669.09h0M75.97 628.78h0M121.34 669.76h0M112.55 671.91h0M122.03 648.22h0M120.67 662.7h0M107.03 668.05h0M121.54 661.47h0M115.57 667.83h0M118.74 654.67h0M111.37 668.94h0M111.28 666.44h0M116.31 669.89h0M120.01 669.46h0M116.1 663.85h0M112.27 670.71h0M115.03 660.91h0M112.66 671.14h0M115.48 658.85h0M109.56 656.92h0M110.35 656.07h0M104.03 667.81h0M112.62 670.49h0M111.33 659.51h0M117.55 669.82h0M124.27 661.43h0M130.26 662.76h0M89.22 650.58h0M115.33 662.7h0M116.45 669.83h0M103.39 667.37h0M107.48 667.6h0M119.18 656.93h0M115.91 661.96h0M107.01 670h0M111.83 667.69h0M120.74 665.05h0M120.35 669.06h0M116.15 671.22h0M115.13 669.96h0M109.34 671.09h0M108.67 669.41h0M109.85 666.02h0M104.22 665.1h0M96.3 658.06h0M108.76 670h0M111.82 667.84h0M123.7 659.24h0M108.68 667.4h0M118.28 656.31h0M109.6 667.92h0M118.55 667.3h0M100.65 663.67h0M115.6 665.67h0M115.3 651.48h0M114.15 666.71h0M115.05 659.72h0M120.98 663.02h0M111.81 670.85h0M119.42 666.49h0M106.11 668.63h0M111.38 664.43h0M108.55 667.45h0M111.08 653.81h0M115.78 663.51h0M114.96 668.23h0M106.5 668.93h0M111.18 668.83h0M110.43 664.14h0M111.67 666.23h0M110.2 661.41h0M112.56 671.47h0M117.4 670.61h0M105.54 668.76h0M110.85 666.67h0M112.36 669.89h0M112.49 670.31h0M107.14 666.01h0M114.17 670.98h0M124.38 662.16h0M116.59 662.96h0M105.59 668.91h0M108.23 667.95h0M111.48 670.26h0M120.07 666.93h0M79.45 635.2h0M108.28 670.32h0M105.53 660.35h0M106.27 669.51h0M116.82 669.65h0M117.11 662.92h0M114.95 666.19h0M108.91 668.99h0M111.51 667.3h0M111.93 662.95h0M122.87 667.77h0M124.39 667.78h0M115.66 665.07h0M100.7 652.82h0M110.84 657.53h0M118.88 651.2h0M114.72 671.32h0M114.59 659.45h0M118.28 669.52h0M101.66 663.72h0M114 671.89h0M103.78 666.67h0M117.76 671.02h0M102.51 663.78h0M115.58 655.91h0M124.07 661.62h0M122.52 665h0M111.78 661.26h0M102.22 665.36h0M111.31 661.07h0M114.31 671.89h0M138.09 644.13h0M104.64 654.07h0M102.03 663.95h0M108.86 670.94h0M110.16 666.65h0M93.78 653.41h0M125.59 660.03h0M112.11 667.67h0" stroke="#000" stroke-width="1.45" stroke-linecap="round" fill="none" opacity="0.3"/>
<path d="M111.65 666.04h0M112.38 669.32h0M118.72 668.15h0M119.59 667.45h0M109.52 660.21h0M108.44 669.85h0M114.98 665.06h0M115.38 650.39h0M110.59 667.12h0M112.28 670.22h0M133.01 654.97h0M109.88 654.56h0M117.72 666.09h0M107.74 664.47h0M108.63 670.07h0M108.98 668.42h0M109.5 662.42h0M112.13 671.66h0M115.16 669.69h0M115.7 661.71h0M104.47 655.23h0M119.39 667.17h0M117.28 664.33h0M115.62 659.81h0M104.66 669.73h0M111.68 666.26h0M111.61 666.07h0M118.07 662.32h0M115.03 665.04h0M114.6 661.68h0M111.61 660.73h0M112.66 671.19h0M110.99 668.38h0M101.41 662.12h0M114.26 665.83h0M110.61 666.71h0M99.68 662.32h0M116.99 669.59h0M110.37 653.98h0M111.67 671.69h0M106.2 668.62h0M111.25 669.87h0M114.78 669.07h0M114.18 670.39h0M110.7 666.47h0M114.87 670.43h0M103.4 667.06h0M109.72 671.41h0M109.01 670.61h0M121.14 668.65h0M110.61 663.15h0M112.27 671.82h0M103.17 664.74h0M119.74 664.05h0M101.38 658.86h0M111.75 659.92h0M102.65 665.23h0M114.06 669.57h0M114.82 667.16h0M109.11 669.7h0M119.43 665.56h0M111.17 669.42h0M112.41 666.68h0M110.25 668.59h0M118.25 666.66h0M114.81 665.65h0M119.73 668.03h0M110.29 666.17h0M97.45 661.33h0M118.45 657.08h0M111.07 668.23h0M117.91 653.61h0M111.72 666.02h0M123.98 660.99h0M114.71 671.81h0M118.93 661.38h0M116.65 670.96h0M94.63 653.77h0M112.36 668.1h0M110.25 671.04h0M115.2 663.79h0M104.47 665.18h0M108.87 669.18h0M130.98 649.86h0M114.57 670.7h0M110 671.41h0M115.37 667.31h0M105.94 662.4h0M119.69 670.28h0M101.26 658.57h0M109.75 662.39h0M116.62 656.57h0M82.53 634.93h0M109.9 667.9h0M117.15 668.34h0M103.01 667.51h0M123.97 662.3h0M111.78 669.2h0M112.34 666.66h0M130.8 653.57h0M98.84 651.39h0M108.34 670.19h0M115.11 671.2h0M107.95 667.2h0M111.27 661.11h0M106.67 669.98h0M111.76 666.65h0M101.6 666.27h0M118.18 667.68h0M114.12 670.15h0M115.66 667.98h0M111.74 667.33h0M110 667.26h0M112.21 666.4h0M114.1 670.42h0M111.75 660.73h0M118.22 670.9h0M117.7 665.32h0M125.37 658.11h0M111.63 665.07h0M115.01 670.24h0M107.56 668.2h0M114.77 670.27h0M108.82 669.12h0M107.95 659.1h0M111.33 655.66h0M120.04 664.06h0M111.87 668.94h0M114.96 661.84h0M111.73 661.05h0M116.12 668.8h0M111.63 662.07h0M117.9 669.31h0M107.6 665.51h0M121.14 667.49h0M109.77 656.95h0M115.37 671.52h0" stroke="#000" stroke-width="1.45" stroke-linecap="round" fill="none" opacity="0.3"/>
<path d="M105.15 663.98h0M110.48 667.21h0M115.64 670.06h0M108.96 668.03h0M111.61 669.05h0M109.96 655.96h0M110.11 654.73h0M118.77 669.59h0M108.65 664.7h0M120.85 665.93h0M117.87 670.69h0M136.98 647.35h0M111.6 670.15h0M114.05 670.35h0M116.06 647.06h0M116.1 658.3h0M107.11 669.13h0M117.29 665.92h0M116.94 668.33h0M111.92 671.74h0M111.98 669.21h0M110.58 663.54h0M111.13 670.93h0M120.84 664.27h0M135.95 651.63h0M114.69 661.21h0M125.74 659.07h0M113.82 669.91h0M116.53 653.93h0M91.72 656.21h0M127.77 662.11h0M118.24 670.43h0M112.59 670.8h0M128.04 662.26h0M110.88 665.74h0M108.15 668.62h0M95.42 661.95h0M114.7 659.25h0M106.25 663.64h0M108.34 652.48h0M118.81 669.47h0M110.2 656.05h0M124.99 650.11h0M115.16 657.92h0M118.31 667.01h0M115.27 666.83h0M115.79 659.11h0M126.4 658.2h0M106.84 668.84h0M83.43 641.75h0M105.5 668.38h0M108.14 667.28h0M115.62 649.61h0M115.23 671.55h0M117.82 669.99h0M114.45 664.33h0M114.58 669.02h0M122.71 666.38h0M113.95 667.67h0M104.68 662.8h0M114.6 671.9h0M116.85 669.47h0M116.07 667.84h0M120.18 668.9h0M108.48 666.61h0M112.49 669.03h0M112.37 671.82h0M115.88 659.11h0M110.52 671.34h0M111.21 663.67h0M106.92 667.6h0M112.16 669.15h0M111.61 663.64h0M108.49 666.43h0M115.23 659.99h0M114.64 662.18h0M137.88 651.48h0M100.85 664.65h0M112.34 670.8h0M104.84 667.03h0M116.77 666.26h0M108.72 665.96h0M106.65 667.92h0M117.94 669.3h0M110.17 661.44h0M119.4 668.93h0M114.05 669.38h0M112.22 669.5h0M114.92 667.93h0M105.6 669.38h0M105.59 664.63h0M104.08 663.38h0M114.69 668.26h0M111.17 662.4h0M115.82 663.26h0M112.38 668.24h0M115.73 665.66h0M110.77 651.87h0M128.91 663.8h0M116.31 665.92h0M118.06 670.2h0M117.67 661.03h0M115.49 658.09h0M108.54 670.09h0M111.56 668.62h0M110.53 659.44h0M111.27 671.85h0M119.99 663.48h0M116.25 671.07h0M110.07 669.4h0M114.98 654.96h0M111.11 669.52h0M115.47 667.58h0M111.86 670.15h0M115.13 669.61h0M110.76 664.32h0M118.07 660.47h0M112.21 671.59h0M115.45 661.85h0M118.72 668.53h0M122.07 660.04h0M107.27 666.96h0M105.74 666.98h0M104.48 665.22h0M126.06 664.09h0M117.28 667.72h0M105.15 668.37h0M111.69 664.88h0M109.65 664.07h0M106.1 667.22h0M87.66 650.35h0M103.48 669.03h0M111.32 669.35h0M111.77 666.46h0M120.95 669.41h0M108.99 668.89h0" stroke="#000" stroke-width="1.45" stroke-linecap="round" fill="none" opacity="0.3"/>
<path d="M115.96 649.15h0M111.02 666.55h0M114.78 665.96h0M117.16 670.54h0M112.38 668h0M114.47 666.4h0M106.4 665.91h0M119.87 656.91h0M111.98 666.32h0M115.09 670.83h0M114.5 663.03h0M108.52 670.94h0M96.92 658.95h0M111.9 664.21h0M109.74 668.34h0M115.75 669.33h0M122.57 668.23h0M120.15 668.79h0M111.43 671.65h0M111.45 671.66h0M102.6 668.24h0M109.24 671.23h0M111.4 671.6h0M118.35 665.86h0M112.06 667.92h0M118.1 669.59h0M111.28 662.04h0M118.84 669.16h0M117.41 670.64h0M105.46 664.3h0M112.04 664.5h0M115.83 663.05h0M133.83 655.82h0M112.37 667.39h0M104.01 667.68h0M110.91 663.88h0M109.47 662.86h0M85.74 643.62h0M112.13 668.37h0M105.21 661.3h0M123.56 667.41h0M105.84 666.58h0M121.1 667.15h0M108.52 656.56h0M106.58 666.42h0M112.06 668.76h0M109.84 670.33h0M115.04 669.92h0M146.61 621.58h0M111.22 657.23h0M100.06 664.78h0M119.34 667.19h0M114.9 669.13h0M109.02 664.75h0M109.57 668.93h0M118.83 668.94h0M114.77 664.66h0M110.89 668.95h0M129.25 663.41h0M114.28 664.23h0M110.75 663.37h0M112.75 671.25h0M109.08 659.41h0M110.92 654.61h0M110.71 670.9h0M107.53 668.58h0M115.26 670.31h0M122.86 665.86h0M116.66 651.58h0M121.07 666.63h0M107.61 670.18h0M106.17 663.4h0M114.64 669.25h0M100.56 666.37h0M115.41 658.99h0M104.21 668.23h0M115.42 660.23h0M123.42 653.99h0M114.12 671.42h0M109.42 653.96h0M105.98 666.5h0M111.28 666.23h0M123.93 665.6h0M116.87 650.04h0M105.02 668.16h0M102.73 659.24h0M112.01 666.59h0M126.27 661.22h0M108.29 670.67h0M114.67 661.82h0M120.72 666.74h0M111.41 658.44h0M111.37 666.02h0M116.17 668.14h0M112.36 668.84h0M106.67 665.29h0M106.69 661.42h0M115.6 665.02h0M118.41 670.28h0M114.85 666.08h0M119.21 668.7h0M102.12 651.15h0M104.63 665.93h0M114.06 668.77h0M111.67 669.64h0M110.16 645.71h0M114.24 672.03h0M109.63 659.05h0M90.11 644.08h0M108.77 663.98h0M110.46 670.8h0M110.65 662.57h0M110.83 668.67h0M114.99 667.31h0M127.49 663.18h0M114.34 663.04h0M116.4 664.93h0M109.89 668.13h0M117.99 666.47h0M116.69 668.98h0M100 660.48h0M125.68 664.74h0M117.57 665.24h0M120.45 668.76h0M115.41 666.62h0M119.37 668.43h0M118.24 670.48h0M118.48 666.73h0M110.19 670.48h0M126.9 661.52h0M114.84 667.75h0M117.79 670.32h0M114.48 670.83h0M135.76 650.46h0M101.06 663.02h0M114.12 665.57h0M129.99 663.41h0" stroke="#000" stroke-width="1.45" stroke-linecap="round" fill="none" opacity="0.3"/>
<circle cx="54.9" cy="640.3" r="0.73" fill="#000" fill-opacity="0.55"/>
<circle cx="61.6" cy="647.8" r="0.73" fill="#000" fill-opacity="0.55"/>
<circle cx="61.6" cy="649.5" r="0.73" fill="#000" fill-opacity="0.55"/>
<circle cx="65.9" cy="650.6" r="0.87" fill="#000" fill-opacity="0.55"/>
<circle cx="65.9" cy="652.5" r="0.87" fill="#000" fill-opacity="0.55"/>
<circle cx="72.4" cy="654.9" r="1.11" fill="#000" fill-opacity="0.55"/>
<circle cx="72.4" cy="657" r="1.11" fill="#000" fill-opacity="0.55"/>
<circle cx="72.4" cy="658.6" r="1.11" fill="#000" fill-opacity="0.55"/>
<circle cx="82.6" cy="663" r="1.36" fill="#000" fill-opacity="0.7"/>
<circle cx="148.4" cy="659.8" r="1.48" fill="#000" fill-opacity="0.7"/>
<circle cx="128.8" cy="665.7" r="1.11" fill="#000" fill-opacity="0.55"/>
<circle cx="148.1" cy="660.1" r="1.48" fill="#000" fill-opacity="0.7"/>
<circle cx="158.7" cy="651.5" r="1.11" fill="#000" fill-opacity="0.55"/>
<circle cx="158.7" cy="649" r="0.87" fill="#000" fill-opacity="0.55"/>
<circle cx="166" cy="646" r="0.73" fill="#000" fill-opacity="0.55"/>
<circle cx="90" cy="651" r="0.73" fill="#000" fill-opacity="0.55"/>
<circle cx="93" cy="655" r="0.73" fill="#000" fill-opacity="0.55"/>
<circle cx="97" cy="648" r="0.73" fill="#000" fill-opacity="0.55"/>
<circle cx="100" cy="656" r="0.73" fill="#000" fill-opacity="0.55"/>
<circle cx="103" cy="645" r="0.73" fill="#000" fill-opacity="0.55"/>
<circle cx="107" cy="652" r="0.73" fill="#000" fill-opacity="0.55"/>
<circle cx="121" cy="643" r="0.73" fill="#000" fill-opacity="0.55"/>
<circle cx="124" cy="650" r="0.73" fill="#000" fill-opacity="0.55"/>
<circle cx="128" cy="646" r="0.73" fill="#000" fill-opacity="0.55"/>
<circle cx="132" cy="652" r="0.73" fill="#000" fill-opacity="0.55"/>
<circle cx="136" cy="649" r="0.73" fill="#000" fill-opacity="0.55"/>
<circle cx="140" cy="655" r="0.73" fill="#000" fill-opacity="0.55"/>
<circle cx="144" cy="651" r="0.73" fill="#000" fill-opacity="0.55"/>
<circle cx="122.8" cy="595.9" r="3.36" fill="#EE2B37"/>
<circle cx="123" cy="617.5" r="2.24" fill="#E78AC3"/>
<circle cx="130.9" cy="624.9" r="2.02" fill="#EE2B37"/>
<circle cx="125.2" cy="631.7" r="1.9" fill="#E78AC3" stroke="#333" stroke-width="0.45"/>
<circle cx="118.8" cy="636.1" r="1.01" fill="#EE2B37"/>
<circle cx="103.4" cy="628.5" r="1.57" fill="#E78AC3"/>
<circle cx="101.3" cy="630.6" r="1.46" fill="#E78AC3"/>
<circle cx="98.5" cy="640.3" r="0.78" fill="#E78AC3"/>
<circle cx="167.9" cy="634.3" r="1.34" fill="#E78AC3"/>
<circle cx="174" cy="632.6" r="1.34" fill="#E78AC3"/>
<circle cx="138.3" cy="638.2" r="0.56" fill="#E78AC3"/>
<circle cx="53.8" cy="636.4" r="1.01" fill="#EE2B37"/>
<circle cx="57.4" cy="634.9" r="1.12" fill="#EE2B37"/>
<line x1="122.8" y1="595.9" x2="129.5" y2="603" stroke="#9a9a9a" stroke-width="0.35"/>
<line x1="123" y1="617.5" x2="107.5" y2="605.5" stroke="#9a9a9a" stroke-width="0.35"/>
<line x1="130.9" y1="624.9" x2="131" y2="638.6" stroke="#9a9a9a" stroke-width="0.35"/>
<line x1="103.4" y1="628.5" x2="108" y2="624.5" stroke="#9a9a9a" stroke-width="0.35"/>
<line x1="101.3" y1="630.6" x2="94.3" y2="639.6" stroke="#9a9a9a" stroke-width="0.35"/>
<rect x="61" y="601.4" width="46" height="6.8" fill="#fff" fill-opacity="0.7"/>
<text x="84" y="604.8" text-anchor="middle" font-size="7.4" fill="#DD6FB3" stroke="#DD6FB3" stroke-width="0.18" dy="0.36em">hsa-mir-218-1</text>
<rect x="129.8" y="601.2" width="39.8" height="6.7" fill="#fff" fill-opacity="0.7"/>
<text x="149.7" y="604.55" text-anchor="middle" font-size="7.4" fill="#DD6FB3" stroke="#DD6FB3" stroke-width="0.18" dy="0.36em">hsa-mir-99a</text>
<rect x="108.2" y="619.9" width="13.1" height="6.7" fill="#fff" fill-opacity="0.7"/>
<text x="114.75" y="623.25" text-anchor="middle" font-size="7.4" fill="#DD6FB3" stroke="#DD6FB3" stroke-width="0.18" dy="0.36em">U53</text>
<rect x="76.5" y="637.7" width="17.8" height="6.8" fill="#fff" fill-opacity="0.7"/>
<text x="85.4" y="641.1" text-anchor="middle" font-size="7.4" fill="#DD6FB3" stroke="#DD6FB3" stroke-width="0.18" dy="0.36em">U15B</text>
<rect x="131.7" y="638.4" width="43.3" height="6.7" fill="#fff" fill-opacity="0.7"/>
<text x="153.35" y="641.75" text-anchor="middle" font-size="7.4" fill="#DD6FB3" stroke="#DD6FB3" stroke-width="0.18" dy="0.36em">hsa-mir-6842</text>
<rect x="436.2" y="37.9" width="82.7" height="584" fill="#EBEBEB"/>
<rect x="463.7" y="38.67" width="19" height="1.75" fill="#FC8D62"/>
<rect x="482.7" y="40.58" width="27.2" height="1.75" fill="#66C2A5"/>
<rect x="482.7" y="42.75" width="20.2" height="1.75" fill="#FC8D62"/>
<rect x="441.2" y="44.65" width="41.5" height="1.75" fill="#66C2A5"/>
<rect x="482.7" y="46.83" width="18.5" height="1.75" fill="#FC8D62"/>
<rect x="440" y="48.73" width="42.7" height="1.75" fill="#66C2A5"/>
<rect x="482.7" y="50.91" width="10.9" height="1.75" fill="#FC8D62"/>
<rect x="450.7" y="52.81" width="32" height="1.75" fill="#66C2A5"/>
<rect x="482.7" y="54.98" width="16.1" height="1.75" fill="#FC8D62"/>
<rect x="454.7" y="56.88" width="28" height="1.75" fill="#66C2A5"/>
<rect x="482.7" y="59.06" width="17.3" height="1.75" fill="#FC8D62"/>
<rect x="452.8" y="60.96" width="29.9" height="1.75" fill="#66C2A5"/>
<rect x="482.7" y="63.14" width="15" height="1.75" fill="#FC8D62"/>
<rect x="451.9" y="65.04" width="30.8" height="1.75" fill="#66C2A5"/>
<rect x="459.3" y="67.21" width="23.4" height="1.75" fill="#FC8D62"/>
<rect x="482.7" y="69.11" width="21.6" height="1.75" fill="#66C2A5"/>
<rect x="458.5" y="71.29" width="24.2" height="1.75" fill="#FC8D62"/>
<rect x="482.7" y="73.19" width="29.2" height="1.75" fill="#66C2A5"/>
<rect x="482.7" y="75.37" width="18.7" height="1.75" fill="#FC8D62"/>
<rect x="448.1" y="77.27" width="34.6" height="1.75" fill="#66C2A5"/>
<rect x="482.7" y="79.44" width="10.9" height="1.75" fill="#FC8D62"/>
<rect x="445.5" y="81.34" width="37.2" height="1.75" fill="#66C2A5"/>
<rect x="482.7" y="83.52" width="12.5" height="1.75" fill="#FC8D62"/>
<rect x="443.8" y="85.42" width="38.9" height="1.75" fill="#66C2A5"/>
<rect x="482.7" y="87.6" width="14.7" height="1.75" fill="#FC8D62"/>
<rect x="451.9" y="89.5" width="30.8" height="1.75" fill="#66C2A5"/>
<rect x="482.7" y="91.68" width="17.6" height="1.75" fill="#FC8D62"/>
<rect x="455.4" y="93.58" width="27.3" height="1.75" fill="#66C2A5"/>
<rect x="482.7" y="95.75" width="19" height="1.75" fill="#FC8D62"/>
<rect x="449" y="97.65" width="33.7" height="1.75" fill="#66C2A5"/>
<rect x="458.1" y="99.83" width="24.6" height="1.75" fill="#FC8D62"/>
<rect x="482.7" y="101.73" width="27.3" height="1.75" fill="#66C2A5"/>
<rect x="482.7" y="103.91" width="12.5" height="1.75" fill="#FC8D62"/>
<rect x="451" y="105.81" width="31.7" height="1.75" fill="#66C2A5"/>
<rect x="482.7" y="107.98" width="21.6" height="1.75" fill="#FC8D62"/>
<rect x="454.5" y="109.88" width="28.2" height="1.75" fill="#66C2A5"/>
<rect x="461.6" y="112.06" width="21.1" height="1.75" fill="#FC8D62"/>
<rect x="482.7" y="113.96" width="25.1" height="1.75" fill="#66C2A5"/>
<rect x="452.4" y="116.14" width="30.3" height="1.75" fill="#FC8D62"/>
<rect x="482.7" y="118.04" width="14.7" height="1.75" fill="#66C2A5"/>
<rect x="466.6" y="120.21" width="16.1" height="1.75" fill="#FC8D62"/>
<rect x="482.7" y="122.11" width="30.8" height="1.75" fill="#66C2A5"/>
<rect x="482.7" y="124.29" width="19" height="1.75" fill="#FC8D62"/>
<rect x="458.1" y="126.19" width="24.6" height="1.75" fill="#66C2A5"/>
<rect x="482.7" y="128.37" width="12.1" height="1.75" fill="#FC8D62"/>
<rect x="451.6" y="130.27" width="31.1" height="1.75" fill="#66C2A5"/>
<rect x="482.7" y="132.45" width="19.4" height="1.75" fill="#FC8D62"/>
<rect x="459" y="134.35" width="23.7" height="1.75" fill="#66C2A5"/>
<rect x="482.7" y="136.52" width="16.4" height="1.75" fill="#FC8D62"/>
<rect x="440" y="138.42" width="42.7" height="1.75" fill="#66C2A5"/>
<rect x="461.1" y="140.6" width="21.6" height="1.75" fill="#FC8D62"/>
<rect x="482.7" y="142.5" width="23.7" height="1.75" fill="#66C2A5"/>
<rect x="482.7" y="144.68" width="14.7" height="1.75" fill="#FC8D62"/>
<rect x="444.6" y="146.58" width="38.1" height="1.75" fill="#66C2A5"/>
<rect x="459.3" y="148.75" width="23.4" height="1.75" fill="#FC8D62"/>
<rect x="482.7" y="150.65" width="22.8" height="1.75" fill="#66C2A5"/>
<rect x="482.7" y="152.83" width="10.9" height="1.75" fill="#FC8D62"/>
<rect x="441.7" y="154.73" width="41" height="1.75" fill="#66C2A5"/>
<rect x="463.3" y="156.91" width="19.4" height="1.75" fill="#FC8D62"/>
<rect x="482.7" y="158.81" width="24.6" height="1.75" fill="#66C2A5"/>
<rect x="482.7" y="160.99" width="17" height="1.75" fill="#FC8D62"/>
<rect x="455.4" y="162.88" width="27.3" height="1.75" fill="#66C2A5"/>
<rect x="464.5" y="165.06" width="18.2" height="1.75" fill="#FC8D62"/>
<rect x="482.7" y="166.96" width="25.6" height="1.75" fill="#66C2A5"/>
<rect x="482.7" y="169.14" width="18.2" height="1.75" fill="#FC8D62"/>
<rect x="452.1" y="171.04" width="30.6" height="1.75" fill="#66C2A5"/>
<rect x="482.7" y="173.22" width="13" height="1.75" fill="#FC8D62"/>
<rect x="450.7" y="175.12" width="32" height="1.75" fill="#66C2A5"/>
<rect x="482.7" y="177.29" width="9.2" height="1.75" fill="#FC8D62"/>
<rect x="442.4" y="179.19" width="40.3" height="1.75" fill="#66C2A5"/>
<rect x="459.9" y="181.37" width="22.8" height="1.75" fill="#FC8D62"/>
<rect x="482.7" y="183.27" width="23.9" height="1.75" fill="#66C2A5"/>
<rect x="460.6" y="185.45" width="22.1" height="1.75" fill="#FC8D62"/>
<rect x="482.7" y="187.35" width="22.5" height="1.75" fill="#66C2A5"/>
<rect x="482.7" y="189.52" width="11.8" height="1.75" fill="#FC8D62"/>
<rect x="446.9" y="191.42" width="35.8" height="1.75" fill="#66C2A5"/>
<rect x="451.9" y="193.6" width="30.8" height="1.75" fill="#FC8D62"/>
<rect x="482.7" y="195.5" width="17.3" height="1.75" fill="#66C2A5"/>
<rect x="482.7" y="197.68" width="13.8" height="1.75" fill="#FC8D62"/>
<rect x="453.3" y="199.58" width="29.4" height="1.75" fill="#66C2A5"/>
<rect x="482.7" y="201.75" width="13" height="1.75" fill="#FC8D62"/>
<rect x="446.7" y="203.65" width="36" height="1.75" fill="#66C2A5"/>
<rect x="482.7" y="205.83" width="19.4" height="1.75" fill="#FC8D62"/>
<rect x="451.9" y="207.73" width="30.8" height="1.75" fill="#66C2A5"/>
<rect x="482.7" y="209.91" width="11.8" height="1.75" fill="#FC8D62"/>
<rect x="443.8" y="211.81" width="38.9" height="1.75" fill="#66C2A5"/>
<rect x="482.7" y="213.99" width="11.2" height="1.75" fill="#FC8D62"/>
<rect x="447.2" y="215.89" width="35.5" height="1.75" fill="#66C2A5"/>
<rect x="482.7" y="218.06" width="21.1" height="1.75" fill="#FC8D62"/>
<rect x="456.2" y="219.96" width="26.5" height="1.75" fill="#66C2A5"/>
<rect x="462.3" y="222.14" width="20.4" height="1.75" fill="#FC8D62"/>
<rect x="482.7" y="224.04" width="24.6" height="1.75" fill="#66C2A5"/>
<rect x="456.7" y="226.22" width="26" height="1.75" fill="#FC8D62"/>
<rect x="482.7" y="228.12" width="32.4" height="1.75" fill="#66C2A5"/>
<rect x="482.7" y="230.29" width="13.3" height="1.75" fill="#FC8D62"/>
<rect x="451.6" y="232.19" width="31.1" height="1.75" fill="#66C2A5"/>
<rect x="461.1" y="234.37" width="21.6" height="1.75" fill="#FC8D62"/>
<rect x="482.7" y="236.27" width="26.3" height="1.75" fill="#66C2A5"/>
<rect x="482.7" y="238.45" width="15" height="1.75" fill="#FC8D62"/>
<rect x="452.4" y="240.35" width="30.3" height="1.75" fill="#66C2A5"/>
<rect x="460.2" y="242.53" width="22.5" height="1.75" fill="#FC8D62"/>
<rect x="482.7" y="244.42" width="25.1" height="1.75" fill="#66C2A5"/>
<rect x="459.3" y="246.6" width="23.4" height="1.75" fill="#FC8D62"/>
<rect x="482.7" y="248.5" width="20.2" height="1.75" fill="#66C2A5"/>
<rect x="462.5" y="250.68" width="20.2" height="1.75" fill="#FC8D62"/>
<rect x="482.7" y="252.58" width="25.1" height="1.75" fill="#66C2A5"/>
<rect x="482.7" y="254.76" width="17.6" height="1.75" fill="#FC8D62"/>
<rect x="453.3" y="256.66" width="29.4" height="1.75" fill="#66C2A5"/>
<rect x="482.7" y="258.83" width="13.5" height="1.75" fill="#FC8D62"/>
<rect x="447.2" y="260.73" width="35.5" height="1.75" fill="#66C2A5"/>
<rect x="482.7" y="262.91" width="19.4" height="1.75" fill="#FC8D62"/>
<rect x="455" y="264.81" width="27.7" height="1.75" fill="#66C2A5"/>
<rect x="482.7" y="266.99" width="10.7" height="1.75" fill="#FC8D62"/>
<rect x="448.6" y="268.89" width="34.1" height="1.75" fill="#66C2A5"/>
<rect x="463.3" y="271.06" width="19.4" height="1.75" fill="#FC8D62"/>
<rect x="482.7" y="272.96" width="25.4" height="1.75" fill="#66C2A5"/>
<rect x="482.7" y="275.14" width="8.7" height="1.75" fill="#FC8D62"/>
<rect x="446" y="277.04" width="36.7" height="1.75" fill="#66C2A5"/>
<rect x="461.1" y="279.22" width="21.6" height="1.75" fill="#FC8D62"/>
<rect x="482.7" y="281.12" width="25.1" height="1.75" fill="#66C2A5"/>
<rect x="482.7" y="283.3" width="9.5" height="1.75" fill="#FC8D62"/>
<rect x="447.6" y="285.19" width="35.1" height="1.75" fill="#66C2A5"/>
<rect x="464.9" y="287.37" width="17.8" height="1.75" fill="#FC8D62"/>
<rect x="482.7" y="289.27" width="28.5" height="1.75" fill="#66C2A5"/>
<rect x="482.7" y="291.45" width="18.2" height="1.75" fill="#FC8D62"/>
<rect x="457.1" y="293.35" width="25.6" height="1.75" fill="#66C2A5"/>
<rect x="482.7" y="295.53" width="16.8" height="1.75" fill="#FC8D62"/>
<rect x="449.8" y="297.43" width="32.9" height="1.75" fill="#66C2A5"/>
<rect x="482.7" y="299.6" width="21.1" height="1.75" fill="#FC8D62"/>
<rect x="457.6" y="301.5" width="25.1" height="1.75" fill="#66C2A5"/>
<rect x="461.6" y="303.68" width="21.1" height="1.75" fill="#FC8D62"/>
<rect x="482.7" y="305.58" width="23.4" height="1.75" fill="#66C2A5"/>
<rect x="482.7" y="307.76" width="20.8" height="1.75" fill="#FC8D62"/>
<rect x="458.5" y="309.66" width="24.2" height="1.75" fill="#66C2A5"/>
<rect x="482.7" y="311.83" width="17.3" height="1.75" fill="#FC8D62"/>
<rect x="455.9" y="313.73" width="26.8" height="1.75" fill="#66C2A5"/>
<rect x="482.7" y="315.91" width="21.1" height="1.75" fill="#FC8D62"/>
<rect x="456.4" y="317.81" width="26.3" height="1.75" fill="#66C2A5"/>
<rect x="462.3" y="319.99" width="20.4" height="1.75" fill="#FC8D62"/>
<rect x="482.7" y="321.89" width="22.5" height="1.75" fill="#66C2A5"/>
<rect x="451.2" y="324.06" width="31.5" height="1.75" fill="#FC8D62"/>
<rect x="482.7" y="325.96" width="23.4" height="1.75" fill="#66C2A5"/>
<rect x="482.7" y="328.14" width="17" height="1.75" fill="#FC8D62"/>
<rect x="439.8" y="330.04" width="42.9" height="1.75" fill="#66C2A5"/>
<rect x="482.7" y="332.22" width="14.2" height="1.75" fill="#FC8D62"/>
<rect x="449" y="334.12" width="33.7" height="1.75" fill="#66C2A5"/>
<rect x="482.7" y="336.3" width="16.4" height="1.75" fill="#FC8D62"/>
<rect x="456.2" y="338.2" width="26.5" height="1.75" fill="#66C2A5"/>
<rect x="482.7" y="340.37" width="17.6" height="1.75" fill="#FC8D62"/>
<rect x="455.4" y="342.27" width="27.3" height="1.75" fill="#66C2A5"/>
<rect x="482.7" y="344.45" width="20.8" height="1.75" fill="#FC8D62"/>
<rect x="458.5" y="346.35" width="24.2" height="1.75" fill="#66C2A5"/>
<rect x="482.7" y="348.53" width="19.9" height="1.75" fill="#FC8D62"/>
<rect x="459" y="350.43" width="23.7" height="1.75" fill="#66C2A5"/>
<rect x="464.9" y="352.6" width="17.8" height="1.75" fill="#FC8D62"/>
<rect x="482.7" y="354.5" width="27.2" height="1.75" fill="#66C2A5"/>
<rect x="459.7" y="356.68" width="23" height="1.75" fill="#FC8D62"/>
<rect x="482.7" y="358.58" width="20.8" height="1.75" fill="#66C2A5"/>
<rect x="482.7" y="360.76" width="15.2" height="1.75" fill="#FC8D62"/>
<rect x="454.7" y="362.66" width="28" height="1.75" fill="#66C2A5"/>
<rect x="482.7" y="364.83" width="18.2" height="1.75" fill="#FC8D62"/>
<rect x="449" y="366.73" width="33.7" height="1.75" fill="#66C2A5"/>
<rect x="482.7" y="368.91" width="13.3" height="1.75" fill="#FC8D62"/>
<rect x="449.8" y="370.81" width="32.9" height="1.75" fill="#66C2A5"/>
<rect x="482.7" y="372.99" width="19.6" height="1.75" fill="#FC8D62"/>
<rect x="452.1" y="374.89" width="30.6" height="1.75" fill="#66C2A5"/>
<rect x="482.7" y="377.07" width="19.9" height="1.75" fill="#FC8D62"/>
<rect x="447.6" y="378.97" width="35.1" height="1.75" fill="#66C2A5"/>
<rect x="482.7" y="381.14" width="19" height="1.75" fill="#FC8D62"/>
<rect x="456.7" y="383.04" width="26" height="1.75" fill="#66C2A5"/>
<rect x="482.7" y="385.22" width="15" height="1.75" fill="#FC8D62"/>
<rect x="448.1" y="387.12" width="34.6" height="1.75" fill="#66C2A5"/>
<rect x="482.7" y="389.3" width="12.1" height="1.75" fill="#FC8D62"/>
<rect x="445" y="391.2" width="37.7" height="1.75" fill="#66C2A5"/>
<rect x="482.7" y="393.37" width="11.8" height="1.75" fill="#FC8D62"/>
<rect x="449.3" y="395.27" width="33.4" height="1.75" fill="#66C2A5"/>
<rect x="461.1" y="397.45" width="21.6" height="1.75" fill="#FC8D62"/>
<rect x="482.7" y="399.35" width="26" height="1.75" fill="#66C2A5"/>
<rect x="457.6" y="401.53" width="25.1" height="1.75" fill="#FC8D62"/>
<rect x="482.7" y="403.43" width="24.6" height="1.75" fill="#66C2A5"/>
<rect x="455" y="405.61" width="27.7" height="1.75" fill="#FC8D62"/>
<rect x="482.7" y="407.5" width="24.7" height="1.75" fill="#66C2A5"/>
<rect x="456.4" y="409.68" width="26.3" height="1.75" fill="#FC8D62"/>
<rect x="482.7" y="411.58" width="23.9" height="1.75" fill="#66C2A5"/>
<rect x="459.7" y="413.76" width="23" height="1.75" fill="#FC8D62"/>
<rect x="482.7" y="415.66" width="23.4" height="1.75" fill="#66C2A5"/>
<rect x="460.7" y="417.84" width="22" height="1.75" fill="#FC8D62"/>
<rect x="482.7" y="419.74" width="22.5" height="1.75" fill="#66C2A5"/>
<rect x="449" y="421.91" width="33.7" height="1.75" fill="#FC8D62"/>
<rect x="482.7" y="423.81" width="17.6" height="1.75" fill="#66C2A5"/>
<rect x="482.7" y="425.99" width="16.8" height="1.75" fill="#FC8D62"/>
<rect x="456.2" y="427.89" width="26.5" height="1.75" fill="#66C2A5"/>
<rect x="482.7" y="430.07" width="16.4" height="1.75" fill="#FC8D62"/>
<rect x="456.2" y="431.97" width="26.5" height="1.75" fill="#66C2A5"/>
<rect x="482.7" y="434.14" width="12.6" height="1.75" fill="#FC8D62"/>
<rect x="447.8" y="436.04" width="34.9" height="1.75" fill="#66C2A5"/>
<rect x="482.7" y="438.22" width="12.6" height="1.75" fill="#FC8D62"/>
<rect x="449.8" y="440.12" width="32.9" height="1.75" fill="#66C2A5"/>
<rect x="482.7" y="442.3" width="11.8" height="1.75" fill="#FC8D62"/>
<rect x="446.9" y="444.2" width="35.8" height="1.75" fill="#66C2A5"/>
<rect x="482.7" y="446.38" width="13.3" height="1.75" fill="#FC8D62"/>
<rect x="446.7" y="448.27" width="36" height="1.75" fill="#66C2A5"/>
<rect x="482.7" y="450.45" width="13.8" height="1.75" fill="#FC8D62"/>
<rect x="443.4" y="452.35" width="39.3" height="1.75" fill="#66C2A5"/>
<rect x="462.8" y="454.53" width="19.9" height="1.75" fill="#FC8D62"/>
<rect x="482.7" y="456.43" width="23.4" height="1.75" fill="#66C2A5"/>
<rect x="455.5" y="458.61" width="27.2" height="1.75" fill="#FC8D62"/>
<rect x="482.7" y="460.51" width="19.6" height="1.75" fill="#66C2A5"/>
<rect x="458.1" y="462.68" width="24.6" height="1.75" fill="#FC8D62"/>
<rect x="482.7" y="464.58" width="22.8" height="1.75" fill="#66C2A5"/>
<rect x="460.7" y="466.76" width="22" height="1.75" fill="#FC8D62"/>
<rect x="482.7" y="468.66" width="25.1" height="1.75" fill="#66C2A5"/>
<rect x="482.7" y="470.84" width="16.1" height="1.75" fill="#FC8D62"/>
<rect x="453.8" y="472.74" width="28.9" height="1.75" fill="#66C2A5"/>
<rect x="482.7" y="474.91" width="22.5" height="1.75" fill="#FC8D62"/>
<rect x="449.5" y="476.81" width="33.2" height="1.75" fill="#66C2A5"/>
<rect x="462.8" y="478.99" width="19.9" height="1.75" fill="#FC8D62"/>
<rect x="482.7" y="480.89" width="28.2" height="1.75" fill="#66C2A5"/>
<rect x="482.7" y="483.07" width="16.4" height="1.75" fill="#FC8D62"/>
<rect x="455.4" y="484.97" width="27.3" height="1.75" fill="#66C2A5"/>
<rect x="482.7" y="487.14" width="19.4" height="1.75" fill="#FC8D62"/>
<rect x="453.8" y="489.04" width="28.9" height="1.75" fill="#66C2A5"/>
<rect x="482.7" y="491.22" width="17.6" height="1.75" fill="#FC8D62"/>
<rect x="455.5" y="493.12" width="27.2" height="1.75" fill="#66C2A5"/>
<rect x="482.7" y="495.3" width="21.6" height="1.75" fill="#FC8D62"/>
<rect x="444.1" y="497.2" width="38.6" height="1.75" fill="#66C2A5"/>
<rect x="482.7" y="499.38" width="10.4" height="1.75" fill="#FC8D62"/>
<rect x="446.4" y="501.28" width="36.3" height="1.75" fill="#66C2A5"/>
<rect x="482.7" y="503.45" width="16.1" height="1.75" fill="#FC8D62"/>
<rect x="453.8" y="505.35" width="28.9" height="1.75" fill="#66C2A5"/>
<rect x="482.7" y="507.53" width="23.7" height="1.75" fill="#FC8D62"/>
<rect x="452.4" y="509.43" width="30.3" height="1.75" fill="#66C2A5"/>
<rect x="453.3" y="511.61" width="29.4" height="1.75" fill="#FC8D62"/>
<rect x="482.7" y="513.51" width="23.4" height="1.75" fill="#66C2A5"/>
<rect x="482.7" y="515.68" width="18.2" height="1.75" fill="#FC8D62"/>
<rect x="457.3" y="517.58" width="25.4" height="1.75" fill="#66C2A5"/>
<rect x="482.7" y="519.76" width="16.1" height="1.75" fill="#FC8D62"/>
<rect x="454.5" y="521.66" width="28.2" height="1.75" fill="#66C2A5"/>
<rect x="482.7" y="523.84" width="19.6" height="1.75" fill="#FC8D62"/>
<rect x="446" y="525.74" width="36.7" height="1.75" fill="#66C2A5"/>
<rect x="465.1" y="527.91" width="17.6" height="1.75" fill="#FC8D62"/>
<rect x="482.7" y="529.82" width="25.4" height="1.75" fill="#66C2A5"/>
<rect x="482.7" y="531.99" width="20.2" height="1.75" fill="#FC8D62"/>
<rect x="459.3" y="533.89" width="23.4" height="1.75" fill="#66C2A5"/>
<rect x="482.7" y="536.07" width="12.6" height="1.75" fill="#FC8D62"/>
<rect x="452.4" y="537.97" width="30.3" height="1.75" fill="#66C2A5"/>
<rect x="461.1" y="540.15" width="21.6" height="1.75" fill="#FC8D62"/>
<rect x="482.7" y="542.05" width="22.1" height="1.75" fill="#66C2A5"/>
<rect x="458.8" y="544.22" width="23.9" height="1.75" fill="#FC8D62"/>
<rect x="482.7" y="546.12" width="22.1" height="1.75" fill="#66C2A5"/>
<rect x="482.7" y="548.3" width="14.2" height="1.75" fill="#FC8D62"/>
<rect x="443.3" y="550.2" width="39.4" height="1.75" fill="#66C2A5"/>
<rect x="466.3" y="552.38" width="16.4" height="1.75" fill="#FC8D62"/>
<rect x="482.7" y="554.28" width="32" height="1.75" fill="#66C2A5"/>
<rect x="457.6" y="556.45" width="25.1" height="1.75" fill="#FC8D62"/>
<rect x="482.7" y="558.35" width="19.9" height="1.75" fill="#66C2A5"/>
<rect x="482.7" y="560.53" width="8.7" height="1.75" fill="#FC8D62"/>
<rect x="448.4" y="562.43" width="34.3" height="1.75" fill="#66C2A5"/>
<rect x="469.7" y="564.61" width="13" height="1.75" fill="#FC8D62"/>
<rect x="482.7" y="566.51" width="30.3" height="1.75" fill="#66C2A5"/>
<rect x="462.3" y="568.68" width="20.4" height="1.75" fill="#FC8D62"/>
<rect x="482.7" y="570.59" width="23" height="1.75" fill="#66C2A5"/>
<rect x="455.5" y="572.76" width="27.2" height="1.75" fill="#FC8D62"/>
<rect x="482.7" y="574.66" width="31.5" height="1.75" fill="#66C2A5"/>
<rect x="459.7" y="576.84" width="23" height="1.75" fill="#FC8D62"/>
<rect x="482.7" y="578.74" width="23" height="1.75" fill="#66C2A5"/>
<rect x="468.3" y="580.92" width="14.4" height="1.75" fill="#FC8D62"/>
<rect x="482.7" y="582.82" width="28.9" height="1.75" fill="#66C2A5"/>
<rect x="482.7" y="584.99" width="11.8" height="1.75" fill="#FC8D62"/>
<rect x="440.7" y="586.89" width="42" height="1.75" fill="#66C2A5"/>
<rect x="482.7" y="589.07" width="22.5" height="1.75" fill="#FC8D62"/>
<rect x="445.2" y="590.97" width="37.5" height="1.75" fill="#66C2A5"/>
<rect x="452.8" y="593.15" width="29.9" height="1.75" fill="#FC8D62"/>
<rect x="482.7" y="595.05" width="14.2" height="1.75" fill="#66C2A5"/>
<rect x="482.7" y="597.22" width="14.2" height="1.75" fill="#FC8D62"/>
<rect x="443.4" y="599.12" width="39.3" height="1.75" fill="#66C2A5"/>
<rect x="482.7" y="601.3" width="16.8" height="1.75" fill="#FC8D62"/>
<rect x="455" y="603.2" width="27.7" height="1.75" fill="#66C2A5"/>
<rect x="482.7" y="605.38" width="14.2" height="1.75" fill="#FC8D62"/>
<rect x="449.5" y="607.28" width="33.2" height="1.75" fill="#66C2A5"/>
<rect x="482.7" y="609.45" width="12.6" height="1.75" fill="#FC8D62"/>
<rect x="445.8" y="611.36" width="36.9" height="1.75" fill="#66C2A5"/>
<rect x="455.9" y="613.53" width="26.8" height="1.75" fill="#FC8D62"/>
<rect x="482.7" y="615.43" width="24.7" height="1.75" fill="#66C2A5"/>
<rect x="465.4" y="617.61" width="17.3" height="1.75" fill="#FC8D62"/>
<rect x="482.7" y="619.51" width="25.4" height="1.75" fill="#66C2A5"/>
<g font-size="3.73" fill="#333" stroke="#333" stroke-width="0.12" text-anchor="end">
<text x="435.2" y="41.75">ZWANG_CLASS_2_TRANSIENTLY_INDUCED_BY_EGF</text>
<text x="435.2" y="45.83">ZHOU_CELL_CYCLE_GENES_IN_IR_RESPONSE_6HR</text>
<text x="435.2" y="49.9">ZHOU_CELL_CYCLE_GENES_IN_IR_RESPONSE_24HR</text>
<text x="435.2" y="53.98">ZHENG_GLIOBLASTOMA_PLASTICITY_UP</text>
<text x="435.2" y="58.06">YAO_TEMPORAL_RESPONSE_TO_PROGESTERONE_CLUSTER_17</text>
<text x="435.2" y="62.13">YANG_BCL3_TARGETS_UP</text>
<text x="435.2" y="66.21">YAMASHITA_METHYLATED_IN_PROSTATE_CANCER</text>
<text x="435.2" y="70.29">WP_HAIR_FOLLICLE_DEVELOPMENT_CYTODIFFERENTIATION_PART_3_OF_3</text>
<text x="435.2" y="74.37">WOTTON_RUNX_TARGETS_DN</text>
<text x="435.2" y="78.44">WONG_MITOCHONDRIA_GENE_MODULE</text>
<text x="435.2" y="82.52">WONG_EMBRYONIC_STEM_CELL_CORE</text>
<text x="435.2" y="86.6">WINNEPENNINCKX_MELANOMA_METASTASIS_UP</text>
<text x="435.2" y="90.67">WEST_ADRENOCORTICAL_TUMOR_UP</text>
<text x="435.2" y="94.75">WEI_MYCN_TARGETS_WITH_E_BOX</text>
<text x="435.2" y="98.83">WANG_SMARCE1_TARGETS_UP</text>
<text x="435.2" y="102.91">WALLACE_PROSTATE_CANCER_RACE_UP</text>
<text x="435.2" y="106.98">VILLANUEVA_LIVER_CANCER_KRT19_UP</text>
<text x="435.2" y="111.06">VERHAAK_GLIOBLASTOMA_NEURAL</text>
<text x="435.2" y="115.14">VANASSE_BCL2_TARGETS_DN</text>
<text x="435.2" y="119.21">URS_ADIPOCYTE_DIFFERENTIATION_UP</text>
<text x="435.2" y="123.29">TSAI_RESPONSE_TO_IONIZING_RADIATION</text>
<text x="435.2" y="127.37">TRAYNOR_RETT_SYNDROM_UP</text>
<text x="435.2" y="131.44">TIEN_INTESTINE_PROBIOTICS_24HR_UP</text>
<text x="435.2" y="135.52">TARTE_PLASMA_CELL_VS_PLASMABLAST_DN</text>
<text x="435.2" y="139.6">SOTIRIOU_BREAST_CANCER_GRADE_1_VS_3_UP</text>
<text x="435.2" y="143.68">SCHAEFFER_PROSTATE_DEVELOPMENT_12HR_UP</text>
<text x="435.2" y="147.75">SARRIO_EPITHELIAL_MESENCHYMAL_TRANSITION_UP</text>
<text x="435.2" y="151.83">RUIZ_TNC_TARGETS_UP</text>
<text x="435.2" y="155.91">ROSTY_CERVICAL_CANCER_PROLIFERATION_CLUSTER</text>
<text x="435.2" y="159.98">ROSS_AML_WITH_CBFB_MYH11_FUSION</text>
<text x="435.2" y="164.06">RODRIGUES_THYROID_CARCINOMA_POORLY_DIFFERENTIATED_UP</text>
<text x="435.2" y="168.14">REACTOME_SIGNALING_BY_RETINOIC_ACID</text>
<text x="435.2" y="172.21">REACTOME_SELENOAMINO_ACID_METABOLISM</text>
<text x="435.2" y="176.29">REACTOME_S_PHASE</text>
<text x="435.2" y="180.37">REACTOME_RRNA_PROCESSING</text>
<text x="435.2" y="184.44">REACTOME_NUCLEAR_EVENTS_KINASE_AND_TRANSCRIPTION_FACTOR_ACTIVATION</text>
<text x="435.2" y="188.52">REACTOME_NGF_STIMULATED_TRANSCRIPTION</text>
<text x="435.2" y="192.6">REACTOME_MITOCHONDRIAL_TRANSLATION</text>
<text x="435.2" y="196.68">REACTOME_GPCR_LIGAND_BINDING</text>
<text x="435.2" y="200.75">REACTOME_G2_M_DNA_DAMAGE_CHECKPOINT</text>
<text x="435.2" y="204.83">REACTOME_G2_M_CHECKPOINTS</text>
<text x="435.2" y="208.91">REACTOME_CHOLESTEROL_BIOSYNTHESIS</text>
<text x="435.2" y="212.98">REACTOME_CELL_CYCLE_CHECKPOINTS</text>
<text x="435.2" y="217.06">PUJANA_CHEK2_PCC_NETWORK</text>
<text x="435.2" y="221.14">PLASARI_TGFB1_SIGNALING_VIA_NFIC_1HR_DN</text>
<text x="435.2" y="225.22">PIONTEK_PKD1_TARGETS_UP</text>
<text x="435.2" y="229.29">PID_CMYB_PATHWAY</text>
<text x="435.2" y="233.37">PETROVA_ENDOTHELIUM_LYMPHATIC_VS_BLOOD_UP</text>
<text x="435.2" y="237.45">PEDERSEN_METASTASIS_BY_ERBB2_ISOFORM_4</text>
<text x="435.2" y="241.52">OUELLET_OVARIAN_CANCER_INVASIVE_VS_LMP_UP</text>
<text x="435.2" y="245.6">OSADA_ASCL1_TARGETS_UP</text>
<text x="435.2" y="249.68">ONDER_CDH1_TARGETS_2_UP</text>
<text x="435.2" y="253.75">NAGASHIMA_NRG1_SIGNALING_DN</text>
<text x="435.2" y="257.83">MORI_SMALL_PRE_BII_LYMPHOCYTE_UP</text>
<text x="435.2" y="261.91">MORI_IMMATURE_B_LYMPHOCYTE_DN</text>
<text x="435.2" y="265.99">MOOTHA_MITOCHONDRIA</text>
<text x="435.2" y="270.06">MISSIAGLIA_REGULATED_BY_METHYLATION_DN</text>
<text x="435.2" y="274.14">MEISSNER_NPC_HCP_WITH_H3K27ME3</text>
<text x="435.2" y="278.22">MARSON_BOUND_BY_E2F4_UNSTIMULATED</text>
<text x="435.2" y="282.29">MARIADASON_REGULATED_BY_HISTONE_ACETYLATION_UP</text>
<text x="435.2" y="286.37">MANALO_HYPOXIA_DN</text>
<text x="435.2" y="290.45">MAHAJAN_RESPONSE_TO_IL1A_UP</text>
<text x="435.2" y="294.52">MACAEVA_PBMC_RESPONSE_TO_IR</text>
<text x="435.2" y="298.6">LINDGREN_BLADDER_CANCER_CLUSTER_3_UP</text>
<text x="435.2" y="302.68">LI_WILMS_TUMOR_VS_FETAL_KIDNEY_1_DN</text>
<text x="435.2" y="306.75">LEE_METASTASIS_AND_ALTERNATIVE_SPLICING_UP</text>
<text x="435.2" y="310.83">LANDIS_ERBB2_BREAST_TUMORS_324_DN</text>
<text x="435.2" y="314.91">LANDIS_ERBB2_BREAST_PRENEOPLASTIC_DN</text>
<text x="435.2" y="318.99">LANDIS_BREAST_CANCER_PROGRESSION_DN</text>
<text x="435.2" y="323.06">KORKOLA_YOLK_SAC_TUMOR</text>
<text x="435.2" y="327.14">KOBAYASHI_EGFR_SIGNALING_24HR_UP</text>
<text x="435.2" y="331.22">KOBAYASHI_EGFR_SIGNALING_24HR_DN</text>
<text x="435.2" y="335.29">KINSEY_TARGETS_OF_EWSR1_FLII_FUSION_UP</text>
<text x="435.2" y="339.37">KEGG_GAP_JUNCTION</text>
<text x="435.2" y="343.45">KAUFFMANN_DNA_REPLICATION_GENES</text>
<text x="435.2" y="347.52">KAAB_HEART_ATRIUM_VS_VENTRICLE_DN</text>
<text x="435.2" y="351.6">IZADPANAH_STEM_CELL_ADIPOSE_VS_BONE_UP</text>
<text x="435.2" y="355.68">ISSAEVA_MLL2_TARGETS</text>
<text x="435.2" y="359.76">HOLLERN_SQUAMOUS_BREAST_TUMOR</text>
<text x="435.2" y="363.83">HALLMARK_PI3K_AKT_MTOR_SIGNALING</text>
<text x="435.2" y="367.91">HALLMARK_OXIDATIVE_PHOSPHORYLATION</text>
<text x="435.2" y="371.99">HALLMARK_E2F_TARGETS</text>
<text x="435.2" y="376.06">GRAHAM_NORMAL_QUIESCENT_VS_NORMAL_DIVIDING_UP</text>
<text x="435.2" y="380.14">GRAHAM_CML_DIVIDING_VS_NORMAL_QUIESCENT_UP</text>
<text x="435.2" y="384.22">GRAHAM_CML_DIVIDING_VS_NORMAL_QUIESCENT_DN</text>
<text x="435.2" y="388.3">GOBP_TRNA_METABOLIC_PROCESS</text>
<text x="435.2" y="392.37">GOBP_TRANSLATIONAL_TERMINATION</text>
<text x="435.2" y="396.45">GOBP_RRNA_METABOLIC_PROCESS</text>
<text x="435.2" y="400.53">GOBP_RETINOL_METABOLIC_PROCESS</text>
<text x="435.2" y="404.6">GOBP_REGULATION_OF_OSTEOBLAST_DIFFERENTIATION</text>
<text x="435.2" y="408.68">GOBP_REGULATION_OF_KERATINOCYTE_DIFFERENTIATION</text>
<text x="435.2" y="412.76">GOBP_REGULATION_OF_EPITHELIAL_CELL_DIFFERENTIATION</text>
<text x="435.2" y="416.83">GOBP_REGULATION_OF_EPIDERMIS_DEVELOPMENT</text>
<text x="435.2" y="420.91">GOBP_REGULATION_OF_COLLAGEN_METABOLIC_PROCESS</text>
<text x="435.2" y="424.99">GOBP_REGIONALIZATION</text>
<text x="435.2" y="429.06">GOBP_RECOMBINATIONAL_REPAIR</text>
<text x="435.2" y="433.14">GOBP_POSITIVE_REGULATION_OF_NOTCH_SIGNALING_PATHWAY</text>
<text x="435.2" y="437.22">GOBP_NCRNA_PROCESSING</text>
<text x="435.2" y="441.3">GOBP_NCRNA_METABOLIC_PROCESS</text>
<text x="435.2" y="445.37">GOBP_MITOCHONDRIAL_TRANSLATIONAL_TERMINATION</text>
<text x="435.2" y="449.45">GOBP_MITOCHONDRIAL_TRANSLATION</text>
<text x="435.2" y="453.53">GOBP_MITOCHONDRIAL_GENE_EXPRESSION</text>
<text x="435.2" y="457.6">GOBP_FACE_DEVELOPMENT</text>
<text x="435.2" y="461.68">GOBP_EMBRYONIC_PATTERN_SPECIFICATION</text>
<text x="435.2" y="465.76">GOBP_DORSAL_VENTRAL_PATTERN_FORMATION</text>
<text x="435.2" y="469.83">GOBP_COLLAGEN_BIOSYNTHETIC_PROCESS</text>
<text x="435.2" y="473.91">GOBERT_OLIGODENDROCYTE_DIFFERENTIATION_UP</text>
<text x="435.2" y="477.99">GAVIN_FOXP3_TARGETS_CLUSTER_P4</text>
<text x="435.2" y="482.07">GAUSSMANN_MLL_AF4_FUSION_TARGETS_G_UP</text>
<text x="435.2" y="486.14">GAUSSMANN_MLL_AF4_FUSION_TARGETS_E_UP</text>
<text x="435.2" y="490.22">GAJATE_RESPONSE_TO_TRABECTEDIN_UP</text>
<text x="435.2" y="494.3">FUJII_YBX1_TARGETS_DN</text>
<text x="435.2" y="498.37">FLORIO_NEOCORTEX_BASAL_RADIAL_GLIA_DN</text>
<text x="435.2" y="502.45">FISCHER_DREAM_TARGETS</text>
<text x="435.2" y="506.53">DUTERTRE_ESTRADIOL_RESPONSE_6HR_DN</text>
<text x="435.2" y="510.61">DUTERTRE_ESTRADIOL_RESPONSE_24HR_UP</text>
<text x="435.2" y="514.68">DUAN_PRDM5_TARGETS</text>
<text x="435.2" y="518.76">DARWICHE_PAPILLOMA_RISK_LOW_UP</text>
<text x="435.2" y="522.84">DARWICHE_PAPILLOMA_RISK_HIGH_UP</text>
<text x="435.2" y="526.91">CHICAS_RB1_TARGETS_GROWING</text>
<text x="435.2" y="530.99">CHIARADONNA_NEOPLASTIC_TRANSFORMATION_CDC25_UP</text>
<text x="435.2" y="535.07">CHIANG_LIVER_CANCER_SUBCLASS_PROLIFERATION_UP</text>
<text x="435.2" y="539.14">CHIANG_LIVER_CANCER_SUBCLASS_CTNNB1_UP</text>
<text x="435.2" y="543.22">CHARAFE_BREAST_CANCER_LUMINAL_VS_BASAL_DN</text>
<text x="435.2" y="547.3">CHANG_IMMORTALIZED_BY_HPV31_DN</text>
<text x="435.2" y="551.38">CASORELLI_ACUTE_PROMYELOCYTIC_LEUKEMIA_DN</text>
<text x="435.2" y="555.45">BURTON_ADIPOGENESIS_PEAK_AT_8HR</text>
<text x="435.2" y="559.53">BURTON_ADIPOGENESIS_5</text>
<text x="435.2" y="563.61">BURTON_ADIPOGENESIS_3</text>
<text x="435.2" y="567.68">BURTON_ADIPOGENESIS_1</text>
<text x="435.2" y="571.76">BROWNE_HCMV_INFECTION_6HR_DN</text>
<text x="435.2" y="575.84">BROWNE_HCMV_INFECTION_20HR_DN</text>
<text x="435.2" y="579.91">BOYLAN_MULTIPLE_MYELOMA_D_DN</text>
<text x="435.2" y="583.99">BOYLAN_MULTIPLE_MYELOMA_C_D_DN</text>
<text x="435.2" y="588.07">BLUM_RESPONSE_TO_SALIRASIB_DN</text>
<text x="435.2" y="592.14">BLANCO_MELO_BRONCHIAL_EPITHELIAL_CELLS_INFLUENZA_A_DEL_NS1_INFECTION_DN</text>
<text x="435.2" y="596.22">BERENJENO_TRANSFORMED_BY_RHOA_DN</text>
<text x="435.2" y="600.3">BENPORATH_PROLIFERATION</text>
<text x="435.2" y="604.38">BENPORATH_MYC_MAX_TARGETS</text>
<text x="435.2" y="608.45">BECKER_TAMOXIFEN_RESISTANCE_DN</text>
<text x="435.2" y="612.53">BASAKI_YBX1_TARGETS_UP</text>
<text x="435.2" y="616.61">ANDERSEN_CHOLANGIOCARCINOMA_CLASS2</text>
<text x="435.2" y="620.68">ALTEMEIER_RESPONSE_TO_LPS_WITH_MECHANICAL_VENTILATION</text>
</g>
<g font-size="3.4" fill="#3a3a3a" stroke="#3a3a3a" stroke-width="0.1" text-anchor="middle">
<text x="439.7" y="625.0">-3</text>
<text x="454" y="625.0">-2</text>
<text x="468.3" y="625.0">-1</text>
<text x="482.6" y="625.0">0</text>
<text x="496.9" y="625.0">1</text>
<text x="511.2" y="625.0">2</text>
</g>
<text x="477.3" y="629.8" text-anchor="middle" font-size="4.85" font-weight="bold" fill="#000">Normalized Enrichment Score</text>
<text transform="translate(270.2 330) rotate(-90)" text-anchor="middle" font-size="5.1" font-weight="bold" fill="#000" stroke="#000" stroke-width="0.15">Gene Set</text>
<text x="443.8" y="637.4" font-size="5.1" font-weight="bold" fill="#D2864B">Cell</text>
<rect x="455.6" y="631.8" width="7.8" height="7.8" fill="#66C2A5"/>
<text x="466" y="637.1" font-size="5" fill="#222" stroke="#222" stroke-width="0.1">RC43N</text>
<rect x="484.8" y="631.8" width="7.8" height="7.8" fill="#FC8D62"/>
<text x="495.4" y="637.1" font-size="5" fill="#222" stroke="#222" stroke-width="0.1">RC43T</text>
</svg></body></html>
